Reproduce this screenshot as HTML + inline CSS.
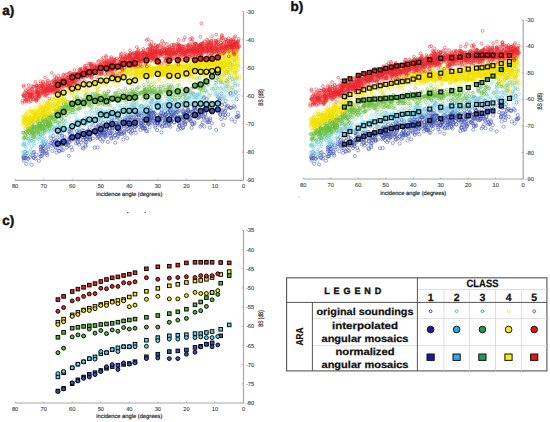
<!DOCTYPE html>
<html><head><meta charset="utf-8"><style>
html,body{margin:0;padding:0;background:#fff;width:550px;height:422px;overflow:hidden;}
svg{display:block;}
</style></head><body><svg width="550" height="422" viewBox="0 0 550 422">
<style>
text{font-family:"Liberation Sans",sans-serif;text-rendering:geometricPrecision;}
.tl{font-size:5.7px;fill:#444;stroke:#444;stroke-width:0.12px;}
.al{font-size:5.9px;fill:#2a2a2a;stroke:#2a2a2a;stroke-width:0.2px;}
.pl{font-size:13.5px;font-weight:bold;fill:#111;stroke:#111;stroke-width:0.45px;}
.lb{font-weight:bold;fill:#111;stroke:#111;stroke-width:0.25px;}
</style>
<path d="M15.1 180.3H243.5V11.5" fill="none" stroke="#a8a8a8" stroke-width="1.2"/><text x="243.5" y="188.4" text-anchor="middle" class="tl">0</text><text x="214.9" y="188.4" text-anchor="middle" class="tl">10</text><text x="186.4" y="188.4" text-anchor="middle" class="tl">20</text><text x="157.8" y="188.4" text-anchor="middle" class="tl">30</text><text x="129.3" y="188.4" text-anchor="middle" class="tl">40</text><text x="100.8" y="188.4" text-anchor="middle" class="tl">50</text><text x="72.2" y="188.4" text-anchor="middle" class="tl">60</text><text x="43.7" y="188.4" text-anchor="middle" class="tl">70</text><text x="15.1" y="188.4" text-anchor="middle" class="tl">80</text><text x="245.9" y="13.5" class="tl">-30</text><text x="245.9" y="41.6" class="tl">-40</text><text x="245.9" y="69.8" class="tl">-50</text><text x="245.9" y="97.9" class="tl">-60</text><text x="245.9" y="126.0" class="tl">-70</text><text x="245.9" y="154.2" class="tl">-80</text><text x="245.9" y="182.3" class="tl">-90</text><path d="M243.5 180.3v-1.6 M214.9 180.3v-1.6 M186.4 180.3v-1.6 M157.8 180.3v-1.6 M129.3 180.3v-1.6 M100.8 180.3v-1.6 M72.2 180.3v-1.6 M43.7 180.3v-1.6 M15.1 180.3v-1.6 M243.5 11.5h-1.6 M243.5 39.6h-1.6 M243.5 67.8h-1.6 M243.5 95.9h-1.6 M243.5 124.0h-1.6 M243.5 152.2h-1.6 M243.5 180.3h-1.6" stroke="#a8a8a8" stroke-width="0.8"/><text x="129.3" y="196.0" text-anchor="middle" class="al" textLength="66" lengthAdjust="spacingAndGlyphs">incidence angle (degrees)</text><text transform="translate(263.0,97.4) rotate(-90)" text-anchor="middle" class="al" style="font-size:6.6px" textLength="16.6" lengthAdjust="spacingAndGlyphs">BS (dB)</text><defs><marker id="ma1" markerUnits="userSpaceOnUse" markerWidth="6" markerHeight="6" refX="3" refY="3" overflow="visible"><circle cx="3" cy="3" r="1.6" fill="none" stroke="#4656b4" stroke-width="0.55"/></marker><marker id="ma2" markerUnits="userSpaceOnUse" markerWidth="6" markerHeight="6" refX="3" refY="3" overflow="visible"><circle cx="3" cy="3" r="1.4" fill="none" stroke="#78cfe4" stroke-width="0.55"/></marker><marker id="ma3" markerUnits="userSpaceOnUse" markerWidth="6" markerHeight="6" refX="3" refY="3" overflow="visible"><circle cx="3" cy="3" r="1.4" fill="none" stroke="#6cbe3e" stroke-width="0.55"/></marker><marker id="ma4" markerUnits="userSpaceOnUse" markerWidth="6" markerHeight="6" refX="3" refY="3" overflow="visible"><circle cx="3" cy="3" r="1.4" fill="none" stroke="#f2e200" stroke-width="0.55"/></marker><marker id="ma5" markerUnits="userSpaceOnUse" markerWidth="6" markerHeight="6" refX="3" refY="3" overflow="visible"><circle cx="3" cy="3" r="1.4" fill="none" stroke="#ea2a30" stroke-width="0.55"/></marker><filter id="bl" x="-5%" y="-5%" width="110%" height="110%"><feGaussianBlur stdDeviation="0.35"/></filter></defs><g filter="url(#bl)"><polyline fill="none" stroke="none" marker-start="url(#ma1)" marker-mid="url(#ma1)" marker-end="url(#ma1)" points="148.8,115.9 204.1,118.6 117.3,131.9 149.8,119.8 83.2,137.4 77.7,137.4 200.4,126.7 79.4,132.2 64.1,139.7 118.8,129.4 230.2,93.4 205.2,114.2 84.8,124.4 71.6,140.5 221.8,104.9 176.7,118.0 238.5,115.9 66.0,141.6 153.6,120.9 168.7,124.0 195.4,109.5 182.8,120.1 127.1,125.7 85.5,137.6 90.4,138.7 135.0,120.6 36.6,154.8 199.8,116.5 222.8,110.4 188.8,117.4 67.5,141.9 207.0,110.4 150.2,117.4 65.5,144.7 226.9,106.8 192.2,115.9 226.4,108.1 111.6,119.6 54.9,142.1 117.6,117.7 190.3,119.0 40.9,156.3 159.4,120.2 185.1,122.4 184.9,114.9 168.0,121.9 172.7,115.7 152.1,112.2 40.3,156.6 59.1,139.9 149.7,113.1 78.8,135.2 76.2,135.7 170.6,117.0 108.9,132.5 72.7,135.5 66.4,142.3 169.9,117.1 69.8,128.7 166.1,114.0 170.9,112.6 188.1,110.8 93.4,131.6 63.8,139.7 157.2,103.1 127.1,122.0 165.0,115.7 119.4,121.6 233.9,106.1 159.3,119.6 100.3,130.7 83.2,140.0 183.2,127.9 101.0,133.0 182.1,118.7 141.4,115.7 136.2,125.7 41.1,146.2 64.6,137.1 217.1,102.6 59.3,143.2 205.4,113.7 150.1,120.2 154.6,123.0 60.7,144.8 169.0,118.9 187.2,112.6 44.1,148.5 147.9,122.0 159.7,114.6 139.1,126.8 145.0,128.1 203.3,104.0 170.2,120.2 149.5,118.5 219.9,103.7 69.3,131.7 165.7,119.8 186.6,121.1 218.1,97.3 91.1,133.6 94.7,147.6 103.0,122.9 98.9,130.9 170.3,113.1 47.2,155.3 112.7,122.9 169.3,125.4 168.0,112.0 163.5,118.4 142.8,124.5 179.6,123.2 129.4,122.7 85.4,145.0 141.9,125.3 117.1,137.7 111.6,126.0 137.5,112.8 161.4,109.2 100.2,135.8 179.6,118.9 24.0,155.9 210.1,118.2 203.7,97.2 97.3,138.1 140.4,130.0 236.6,99.2 153.2,114.6 157.9,122.6 220.3,114.8 90.0,139.6 177.8,112.3 223.2,124.9 182.2,107.5 194.3,108.2 171.8,120.4 65.1,143.7 26.4,163.9 54.6,145.8 182.5,111.7 68.2,145.5 166.6,118.6 75.5,138.9 101.5,124.3 126.8,129.6 204.5,126.5 174.7,112.6 127.6,119.7 109.3,128.4 175.1,116.6 136.3,117.5 155.2,125.7 144.3,109.0 100.3,129.2 57.4,148.1 95.5,133.5 40.6,151.1 97.6,147.5 119.6,133.5 201.3,114.1 184.3,119.1 193.8,107.1 59.0,150.8 80.3,134.8 112.1,125.2 151.3,117.7 60.1,133.4 116.6,124.6 131.7,127.1 117.0,117.5 132.3,130.8 221.4,93.7 163.1,113.4 149.5,119.1 53.1,141.7 149.9,114.0 173.4,114.0 187.4,106.5 148.9,123.5 147.8,112.7 26.8,153.2 161.5,132.2 172.1,100.0 181.2,128.5 42.0,146.7 148.1,115.1 64.2,140.2 129.7,119.4 170.7,117.2 121.1,125.7 209.0,122.2 145.3,110.8 192.7,124.2 141.1,106.1 130.8,132.0 141.7,120.2 181.4,122.7 149.7,117.5 86.6,139.5 194.0,112.8 220.3,114.6 73.5,135.6 134.6,124.5 166.9,117.0 212.3,112.8 59.4,151.2 120.9,132.2 230.8,107.9 51.5,143.6 131.5,120.3 225.7,100.9 61.5,149.9 170.9,108.6 206.4,109.4 225.1,115.0 211.8,102.9 170.5,109.4 62.0,141.9 69.4,142.1 176.1,106.6 197.5,109.1 118.8,132.8 164.5,123.0 179.4,104.3 80.5,139.3 33.5,157.2 143.8,121.2 98.9,136.6 78.6,131.8 51.0,142.8 56.1,144.9 133.6,114.5 212.4,106.4 111.4,137.9 23.9,160.7 172.4,105.7 206.6,110.1 223.3,114.8 115.9,123.3 147.3,116.3 69.6,138.0 171.0,121.8 89.7,132.1 122.0,133.6 144.3,118.4 113.2,137.6 176.6,112.1 123.8,131.9 167.7,107.8 174.9,110.2 224.5,104.2 124.6,130.9 141.4,113.6 195.5,116.3 62.9,144.0 78.0,142.7 77.4,141.9 83.4,148.6 126.6,117.9 32.8,155.1 129.8,116.8 25.4,155.2 96.4,131.6 68.7,139.1 95.4,130.0 184.4,114.8 41.9,156.0 138.6,114.8 115.1,135.2 196.8,117.8 148.0,123.7 137.2,114.5 192.2,123.8 86.8,132.5 117.4,131.8 24.9,157.8 72.2,149.9 225.0,117.8 34.0,158.1 112.4,128.6 143.0,128.3 77.5,137.3 179.4,125.1 149.9,122.7 112.9,128.1 141.3,124.7 106.5,135.6 184.7,115.0 66.9,147.4 103.6,135.2 68.1,142.6 176.7,118.0 76.0,143.5 87.0,135.9 160.3,123.8 47.6,144.4 153.4,121.6 170.3,126.6 173.9,122.2 125.2,122.6 143.6,120.1 82.5,147.7 89.4,136.1 101.0,126.4 78.1,138.9 67.9,144.1 23.3,156.9 177.2,117.8 218.6,109.6 137.2,114.3 238.1,116.5 105.7,136.2 46.3,151.2 143.5,128.1 124.9,126.4 157.1,130.1 110.0,135.8 56.5,152.5 221.2,110.6 43.1,145.9 44.0,144.3 53.4,144.2 43.2,151.2 96.7,134.5 131.1,133.5 210.0,127.6 128.1,114.9 123.7,133.0 151.2,111.0 192.1,111.7 85.4,141.9 53.2,135.9 86.1,138.9 167.2,118.8 69.9,138.0 165.0,122.3 229.8,107.7 62.9,150.3 105.4,136.8 182.6,127.4 170.1,110.1 138.5,115.1 148.6,120.3 145.9,118.7 29.9,157.2 181.0,117.0 189.4,119.9 84.5,134.0 188.2,111.5 83.6,130.6 72.7,138.7 101.7,134.6 116.2,122.9 191.9,115.0 136.0,112.7 183.6,123.4 180.0,117.6 63.6,144.1 130.6,117.2 198.6,117.9 134.6,122.9 172.0,114.0 125.4,120.0 179.0,110.8 193.5,117.0 157.2,123.3 127.2,138.3 112.8,126.8 221.2,119.2 88.5,132.8 177.6,111.3 38.9,160.9 40.5,146.9 170.7,122.1 90.2,139.9 97.2,127.3 231.6,119.4 105.9,131.5 237.9,112.6 89.0,131.5 97.1,133.9 129.8,119.8 200.3,105.7 152.7,113.1 128.0,129.0 164.9,121.7 88.3,130.6 45.5,153.3 40.9,149.2 55.8,147.6 35.6,158.6 133.1,123.7 61.6,146.1 191.7,127.9 161.8,115.6 162.6,125.9 42.3,150.8 89.6,127.4 186.6,112.8 193.0,115.5 145.0,128.7 108.0,125.3 110.8,132.8 108.0,142.0 77.6,134.5 190.9,121.1 25.2,151.9 199.8,113.4 118.4,133.9 164.7,126.1 112.5,129.9 98.1,136.8 140.9,112.3 208.4,107.2 107.3,124.1 159.6,125.1 42.9,148.6 197.9,113.6 106.1,130.7 155.3,127.5 61.7,142.0 104.9,134.9 206.2,117.6 193.2,111.4 148.5,115.1 51.1,138.3 179.5,126.0 92.8,138.4 112.5,121.0 220.5,113.4 101.7,132.3 95.4,129.4 145.5,123.3 157.2,107.9 62.2,136.5 198.6,113.7 152.4,123.2 161.6,112.6 92.5,130.8 173.3,112.9 148.2,107.9 157.1,123.2 183.6,111.7 166.7,125.9 160.1,116.1 113.5,124.7 57.6,132.8 143.6,128.2 109.6,127.8 70.9,130.3 201.6,102.9 173.1,118.5 206.3,106.4 111.2,121.1 124.5,134.9 52.5,150.9 230.9,107.8 206.7,99.1 120.8,134.0 130.3,126.8 143.5,118.4 74.6,138.9 234.8,121.5 153.7,114.9 97.5,134.2 160.4,118.0 87.0,131.8 188.2,109.6 203.8,117.4 125.1,117.8 183.3,110.6 148.8,116.1 171.2,112.4 101.2,131.2 164.6,114.9 27.8,158.9 153.5,112.6 150.7,107.4 86.8,132.0 227.9,105.8 140.7,125.8 85.8,146.5 119.4,131.1 76.9,131.2 54.5,129.0 193.4,105.2 88.4,130.9 115.5,122.8 62.0,144.2 23.8,158.2 110.0,128.9 185.2,124.6 100.4,132.8 102.7,132.8 146.7,117.5 178.8,120.1 166.4,122.1 133.5,109.7 153.7,112.6 160.8,119.2 109.5,133.1 69.7,133.8 123.1,123.9 135.3,119.2 28.2,158.5 84.5,137.1 78.9,133.5 185.2,114.7 104.9,126.4 127.6,122.1 106.3,129.3 185.5,115.2 55.1,141.0 79.1,144.5 234.9,107.5 190.0,120.6 194.4,123.9 70.2,139.0 173.5,111.3 100.3,139.1 144.9,121.1 104.2,132.4 149.7,110.9 162.1,126.9 128.0,119.1 81.0,142.6 170.6,110.4 165.3,114.9 104.4,132.7 174.2,122.5 170.1,110.8 178.0,129.6 158.5,117.9 144.3,126.3 195.4,104.4 118.2,136.3 156.8,115.7 201.6,125.0 119.5,124.8 199.2,116.0 179.1,125.9 68.8,155.8 165.5,120.5 131.6,125.1 142.6,114.7 221.6,98.9 100.6,134.9 62.0,135.3 23.9,158.4 102.2,126.6 79.6,131.5 86.9,136.4 46.9,153.2 191.7,111.7 147.0,120.1 205.0,108.0 53.9,139.2 157.1,106.5 198.2,117.3 187.9,110.0 154.2,117.6 135.7,132.9 127.3,124.1 164.8,117.6 106.7,123.3 178.9,117.0 139.0,117.2 124.5,123.3 131.7,117.4 171.7,114.6 202.9,122.4 135.0,127.2 162.9,120.4 86.3,142.3 163.5,116.4 90.0,137.8 47.7,147.0 195.1,108.0 137.7,120.1 137.9,121.4 123.3,139.4 82.5,133.3 102.3,141.3 147.0,120.2 42.1,153.6 98.8,124.7 184.8,105.8 146.0,113.1 224.6,112.2 185.0,124.0 124.0,125.8 145.7,120.3 144.4,113.7 173.7,111.7 146.1,131.0 119.9,128.8 208.2,105.1 97.9,126.0 119.8,122.7 114.9,117.7 151.6,118.1 71.3,147.3 140.9,123.2 69.7,131.1 153.9,118.6 154.9,113.4 31.6,164.7 201.7,116.2 133.5,117.0 196.5,114.9 168.0,112.9 105.2,133.1 114.8,135.2 161.1,113.0 115.2,142.7 100.0,133.6 173.9,115.5 120.0,119.0 228.5,114.4 33.1,152.7 211.9,123.2 152.1,112.4 135.0,126.3 191.0,112.5 190.1,113.9 96.6,129.6 184.1,114.3 131.4,127.8 185.7,112.0 93.4,125.2 124.5,124.4 149.7,114.6 99.0,127.3 147.3,131.2 76.8,138.0 183.8,103.2 157.9,123.6 59.3,144.0 51.6,145.9 158.7,120.4 149.6,127.3 82.1,130.3 112.8,133.7 141.1,123.4 121.1,127.4 183.4,117.3 134.6,130.0 111.2,138.6 207.3,120.0 95.4,129.1 34.1,151.8 195.3,109.9 210.2,119.8 167.1,121.3 219.5,98.1 193.6,94.3 159.1,120.8 140.6,120.3 159.9,116.1 106.4,128.6 230.9,93.1 108.0,121.8 44.8,144.1 89.9,133.3 87.7,135.4 208.0,121.4 235.7,92.1 193.2,115.7 48.4,149.0 159.3,120.1 216.1,129.8 151.5,117.4 110.4,133.6 194.3,122.4 154.0,115.6 118.8,123.5 225.1,110.9 151.3,113.1 219.4,100.4 56.5,141.4 204.0,98.2 236.5,116.8 207.2,122.2 177.5,116.4 157.8,121.5 25.9,157.8 103.5,139.3 202.4,113.6 164.7,110.9 98.6,119.5 57.5,137.4 70.8,132.5 128.5,122.5 150.1,114.6 203.1,111.6 43.5,152.8 128.7,131.0 148.5,124.1 183.6,113.7 237.1,117.1"/><polyline fill="none" stroke="none" marker-start="url(#ma2)" marker-mid="url(#ma2)" marker-end="url(#ma2)" points="201.8,99.2 53.1,130.1 235.6,95.7 105.8,113.4 179.3,111.8 233.9,90.3 197.8,93.7 92.4,116.9 103.8,119.4 189.5,96.0 28.7,143.5 160.0,97.4 67.8,130.3 66.5,123.5 92.0,119.0 218.4,96.2 189.9,92.4 196.7,95.6 46.1,141.0 161.6,105.0 49.0,120.4 231.9,95.1 202.1,97.3 137.8,109.1 120.9,121.9 184.2,92.8 162.0,100.2 232.7,79.4 122.5,112.9 237.7,84.9 221.0,88.4 174.3,108.2 96.1,112.5 52.7,127.2 234.7,72.5 199.2,95.6 174.4,97.2 23.7,151.9 187.7,98.6 72.8,131.6 160.5,104.2 31.1,154.8 112.1,113.8 63.2,127.0 172.9,104.6 48.2,145.0 194.0,97.6 196.3,97.4 196.0,102.7 239.1,90.2 76.9,119.4 99.7,109.8 100.8,120.2 81.4,120.8 86.9,122.4 43.7,141.6 92.0,124.8 84.2,118.4 152.7,100.2 232.2,78.8 117.3,117.0 23.4,155.2 125.7,109.7 30.1,142.1 193.1,102.3 29.8,161.0 94.5,121.5 42.4,136.2 134.6,105.5 179.8,104.8 28.2,140.0 23.1,145.0 108.9,110.6 185.8,100.7 206.3,91.4 59.9,113.7 120.8,119.8 159.6,108.2 186.1,94.4 53.1,124.9 29.6,151.1 112.1,112.8 166.9,101.3 155.6,105.2 221.8,82.4 79.1,120.3 228.3,85.8 178.8,104.3 104.3,116.1 204.7,83.5 134.4,113.1 44.2,136.9 139.2,109.5 76.0,123.9 198.2,99.6 224.3,90.2 105.6,111.1 136.1,102.1 105.5,123.8 49.8,136.9 223.9,74.4 91.8,124.7 64.7,125.4 191.9,102.8 91.5,122.7 217.5,93.8 184.2,96.9 185.0,94.3 145.6,116.1 215.2,94.6 122.9,111.5 235.0,83.7 116.0,115.6 70.6,112.4 112.9,115.3 151.2,103.0 106.2,112.9 110.2,113.2 43.1,133.7 70.6,131.0 184.8,99.5 56.0,121.1 154.2,104.0 191.6,94.3 49.4,129.8 62.3,131.5 228.1,82.2 194.9,98.9 191.5,104.7 215.2,88.3 183.1,94.1 36.7,136.5 83.8,118.9 86.1,120.4 186.2,104.7 206.9,84.1 170.7,108.2 139.9,112.4 152.9,99.5 230.9,95.9 211.7,76.9 164.6,104.6 134.8,105.2 232.9,81.4 134.2,111.1 231.8,89.1 127.6,112.8 97.8,120.3 142.2,105.3 235.3,84.2 33.1,142.0 78.7,123.6 224.5,96.1 69.0,128.1 57.9,126.1 225.7,91.7 199.3,94.2 174.7,106.8 63.5,128.3 185.1,95.0 166.6,103.7 208.7,84.4 55.8,120.6 169.4,102.6 224.6,82.8 169.4,106.5 114.6,108.5 167.9,104.2 55.0,121.5 163.5,107.9 113.4,114.3 24.3,144.9 101.0,116.9 34.0,145.5 230.7,64.7 169.5,103.2 120.2,114.1 177.7,105.5 63.6,127.3 71.9,125.6 155.9,103.7 158.2,102.6 150.2,101.8 135.0,113.6 134.0,107.1 106.7,112.6 87.0,123.5 229.2,94.6 134.7,107.3 24.6,143.8 175.4,100.6 106.6,112.0 146.0,105.1 26.1,147.9 219.2,91.8 59.3,126.8 161.2,104.5 163.3,106.4 48.9,131.1 68.2,128.4 80.2,120.3 76.4,121.8 39.8,128.2 41.9,142.6 59.9,126.3 203.5,87.9 144.8,106.3 40.8,143.4 113.8,109.0 117.2,112.8 169.0,99.6 31.9,140.6 138.7,105.2 106.1,114.5 101.1,119.7 23.5,143.8 210.3,93.8 77.0,121.9 76.7,121.1 145.2,114.7 154.4,100.4 48.9,131.6 82.1,120.5 223.5,102.3 197.7,97.7 79.9,128.5 132.2,103.6 42.7,140.9 82.8,120.0 197.9,94.8 36.0,136.9 62.1,115.0 189.5,98.2 225.9,86.3 151.3,93.7 132.2,107.3 217.7,96.5 106.5,116.4 65.4,120.6 232.2,87.5 26.8,145.0 177.4,104.9 136.8,109.0 34.5,135.6 123.5,116.8 147.8,106.2 158.7,106.0 128.2,104.7 174.3,103.8 29.4,141.4 147.6,101.2 181.1,99.4 235.3,85.7 188.4,105.3 108.7,114.8 148.4,96.1 224.9,83.9 53.3,130.3 167.4,103.9 95.7,120.2 54.0,127.2 124.1,105.9 196.6,95.5 126.7,113.9 138.2,110.6 107.2,105.6 191.6,88.7 144.6,101.7 24.6,154.0 175.9,104.1 86.9,117.8 73.9,130.6 199.2,94.3 34.8,134.3 163.9,110.3 217.9,88.2 45.7,142.1 41.1,137.5 25.2,146.5 119.9,118.2 75.6,115.5 221.6,96.2 22.4,152.1 63.6,126.0 197.5,87.8 233.3,101.6 188.7,105.5 213.1,103.9 30.8,138.8 44.0,133.0 163.7,118.9 58.7,128.9 148.8,105.3 157.4,108.7 235.5,92.3 166.1,107.9 226.4,86.9 130.6,112.2 177.8,100.1 206.9,86.9 50.9,136.3 108.6,116.7 129.0,108.5 71.9,125.4 131.1,104.5 151.4,104.0 59.4,127.5 151.7,102.0 101.1,109.8 152.7,99.5 86.4,122.6 75.4,121.6 34.5,143.5 90.0,112.0 204.3,96.0 59.4,122.2 40.4,132.5 104.0,119.7 44.4,132.9 31.6,146.2 95.9,128.3 61.5,137.4 95.3,113.1 63.5,124.3 91.2,116.1 31.1,140.5 95.4,117.9 143.8,112.6 44.0,139.7 109.2,113.0 101.5,112.1 224.9,97.1 86.4,117.6 164.0,104.6 186.5,97.1 111.8,117.3 97.1,119.2 228.6,78.6 47.0,129.4 134.9,107.2 91.2,119.1 128.4,111.5 23.0,144.7 56.3,140.7 185.1,104.0 43.1,144.5 24.9,133.7 70.8,127.1 49.0,123.4 235.0,78.7 228.1,72.5 189.0,98.2 206.8,92.8 160.6,112.3 102.5,111.1 228.1,90.2 136.8,102.8 201.3,99.9 238.9,95.6 192.5,97.6 157.0,108.7 207.8,101.1 153.8,109.2 109.9,110.3 69.1,117.5 168.2,96.5 120.9,105.7 48.4,141.4 97.5,115.7 56.5,126.9 167.5,101.3 199.8,83.1 232.6,87.4 190.1,103.8 92.5,112.0 54.2,129.5 216.4,84.1 61.5,119.1 33.2,135.3 140.9,107.1 169.3,97.6 40.0,136.8 175.0,106.4 170.8,104.0 180.6,97.7 44.8,132.6 164.1,107.9 182.0,104.4 65.8,127.7 132.1,104.4 157.8,101.2 151.7,109.4 195.9,97.5 116.7,111.2 117.6,105.5 61.1,127.4 130.6,106.8 171.7,111.8 131.2,113.7 120.2,110.4 134.0,107.6 127.4,113.2 236.8,78.8 35.7,139.0 79.9,126.4 72.7,124.9 127.2,111.1 118.4,120.5 233.8,94.8 211.7,88.7 30.5,149.1 206.1,98.5 224.4,75.3 237.4,76.9 214.1,85.9 127.6,117.1 141.7,105.8 125.3,107.8 222.1,87.7 217.3,88.1 39.1,139.3 134.5,104.7 119.8,107.9 194.3,97.1 166.3,104.1 61.6,131.6 150.9,102.7 47.0,126.0 77.1,125.7 195.9,97.2 188.9,97.7 174.4,109.3 161.1,106.0 42.8,133.8 110.8,117.6 22.3,132.7 216.7,95.2 193.4,93.0 58.5,121.9 34.0,136.2 43.0,142.9 51.2,132.5 158.2,104.7 191.9,105.1 24.3,142.3 25.3,139.0 210.5,79.4 75.5,112.5 231.8,75.3 25.7,151.9 236.6,71.2 65.7,120.8 214.8,91.6 152.6,114.6 109.6,116.7 189.4,96.3 176.6,99.8 159.4,100.9 38.6,139.3 37.0,154.4 223.7,88.8 152.8,102.3 216.0,92.7 86.0,112.8 92.8,118.0 169.5,101.0 223.6,97.7 172.3,103.6 143.1,115.0 182.5,104.6 70.5,122.7 28.9,139.2 238.2,65.7 168.9,99.7 42.6,140.8 109.1,112.7 54.2,132.2 78.0,129.7 57.6,125.2 133.1,114.1 39.5,136.8 131.6,106.2 38.5,134.9 134.2,106.9 189.8,100.8 144.1,107.7 118.8,111.8 109.7,119.6 164.0,104.0 42.9,141.7 142.2,108.9 29.4,152.8 91.6,109.4 133.2,108.3 98.2,112.0 55.5,128.0 73.4,123.5 233.3,94.3 171.8,111.5 48.5,121.4"/><polyline fill="none" stroke="none" marker-start="url(#ma3)" marker-mid="url(#ma3)" marker-end="url(#ma3)" points="116.4,99.9 59.6,107.9 43.2,118.5 80.1,98.2 117.2,96.9 92.1,97.9 75.0,98.9 99.5,103.7 26.6,132.7 52.0,118.7 159.6,91.3 99.4,100.3 170.6,87.4 39.3,123.1 132.4,89.1 49.5,116.4 40.5,118.2 119.2,99.8 154.5,86.2 72.0,112.5 74.0,105.0 155.3,90.9 48.9,125.6 38.7,132.4 106.6,100.4 36.7,132.8 37.7,121.6 47.6,119.5 226.5,73.4 56.1,114.3 191.1,88.7 37.6,117.9 34.5,129.2 172.4,91.9 79.1,102.3 90.7,101.9 36.8,131.9 30.3,122.2 43.6,113.2 172.4,86.8 162.9,92.1 131.4,84.1 26.5,137.8 115.6,97.9 63.3,112.6 149.4,88.2 90.9,96.4 23.5,132.4 91.2,101.2 147.7,80.9 32.5,128.5 60.8,109.1 114.9,96.7 67.8,104.9 129.9,90.5 98.4,101.2 48.0,119.9 38.5,126.9 203.9,83.7 79.0,100.2 45.9,124.5 95.1,97.4 154.1,92.6 218.4,77.1 40.6,129.3 85.9,98.8 174.9,99.5 158.8,92.7 41.8,129.3 185.3,90.2 105.4,96.2 83.6,105.8 49.6,119.5 161.6,93.0 91.3,101.9 69.4,111.4 89.5,101.7 63.8,107.5 175.9,95.3 30.6,132.0 42.5,127.4 45.3,114.9 100.0,95.9 25.4,135.3 81.4,101.3 47.9,123.4 39.2,123.3 33.4,132.7 218.8,79.6 177.1,89.5 54.0,117.3 58.9,115.5 88.8,101.6 41.9,126.8 89.5,105.0 66.5,106.1 36.1,128.9 160.3,89.0 148.5,97.2 74.6,109.5 139.1,87.1 61.9,113.5 33.9,139.6 93.0,100.3 32.0,132.9 208.1,83.9 146.0,89.0 203.5,86.2 226.2,80.8 42.7,131.3 150.0,94.7 190.3,92.7 106.8,93.9 133.6,94.6 48.8,110.0 96.5,108.9 184.4,94.9 108.4,91.5 92.1,98.4 205.4,90.3 175.1,92.6 84.8,105.4 78.4,101.4 51.8,117.7 76.3,97.4 39.7,126.1 79.9,108.5 50.2,122.9 37.9,129.2 70.5,109.3 145.6,95.4 96.9,98.4 42.5,115.4 46.4,127.5 36.1,129.4 29.7,133.1 37.5,132.0 146.5,91.7 63.2,120.8 33.5,132.7 135.8,95.6 134.4,99.6 65.6,104.4 96.2,96.5 29.6,125.8 87.1,100.7 145.2,91.1 142.3,92.8 131.6,97.8 180.5,95.5 45.3,120.4 146.4,92.4 47.8,120.5 47.8,123.7 38.9,133.8 27.5,130.7 217.5,78.8 45.4,125.9 55.5,110.5 59.9,108.0 71.9,107.9 144.7,93.8 74.4,105.8 48.5,126.4 25.6,131.9 129.0,94.0 44.1,121.4 50.6,114.8 151.9,87.6 43.0,119.1 141.9,92.3 91.9,107.1 77.4,102.9 113.7,99.8 122.2,94.6 23.4,132.6 60.2,109.9 28.1,138.5 56.0,110.7 44.0,126.7 83.2,101.3 48.3,126.0 32.1,121.5 56.7,117.5 152.2,90.9 58.3,112.3 144.2,94.5 37.8,126.7 185.5,98.2 32.4,132.5 59.8,116.2 137.7,92.9 177.9,93.9 82.7,100.7 92.5,94.9 98.7,104.2 140.7,93.0 85.2,102.7 137.2,87.9 133.8,93.0 145.1,92.8 28.6,130.9 206.8,73.6 158.3,89.1 145.7,94.1 33.5,132.4 68.7,109.2 77.9,102.2 104.8,103.8 29.5,129.7 24.3,138.0 133.1,100.1 39.7,129.8 148.3,84.4 50.5,117.9 97.4,94.4 30.6,135.5 106.0,96.4 57.1,111.0 67.8,107.9 39.5,127.8 167.6,89.3 68.0,113.3 165.6,96.5 168.5,91.1 122.1,93.2 39.7,130.3 97.6,98.0 77.2,103.7 31.2,127.8 161.0,94.8 36.6,126.4 82.5,99.7 44.2,122.1 43.4,129.0 153.0,90.5 78.0,99.3 28.2,131.1 216.0,80.4 169.6,89.2 136.3,95.4 49.3,118.3 174.9,89.1 34.6,121.0 44.9,117.3 133.7,100.8 37.5,122.3 151.4,98.8 96.0,98.1 150.6,91.6 133.0,91.3 147.8,96.6 179.3,84.7 177.5,91.5 57.7,110.5 65.0,107.1 101.8,102.4 44.4,129.8 55.5,116.2 186.9,88.0 42.6,127.3 82.1,102.7 27.7,132.2 105.6,101.3 84.3,99.5 48.6,125.9 46.3,121.7 43.2,112.3 170.7,90.4 39.3,125.7 40.4,134.4 81.0,105.4 98.5,98.6 145.2,89.9 140.8,92.3 108.0,95.4 200.4,88.0 55.2,114.3 200.2,82.5 144.7,89.1 168.4,87.3 49.4,128.9 134.6,93.6 63.6,109.6 49.9,116.3 165.9,90.0 200.7,88.9 220.8,81.5 158.6,86.5 51.3,120.4 101.3,96.2 181.3,103.0 100.9,102.2 78.4,102.6 140.4,93.0 158.0,93.1 88.4,97.5 42.4,120.5 220.5,82.4 85.1,95.9 99.3,98.5 31.4,124.0 61.1,102.8 31.6,128.1 62.6,117.3 45.1,128.5 30.6,129.1 34.6,126.8 135.5,91.6 201.8,91.8 159.9,92.7 178.8,89.2 92.2,93.9 161.0,91.2 87.5,101.0 142.3,98.8 32.1,127.2 35.9,127.6 108.4,104.5 100.7,98.4 216.1,82.6 115.0,97.7 184.4,101.8 149.8,92.5 94.0,98.3 84.0,100.7 53.8,114.5 65.4,101.0 32.6,136.5 42.8,119.0 120.8,100.0 103.7,100.9 31.9,131.8 72.1,109.5 45.8,124.2 228.0,69.6 230.8,63.8 131.8,93.2 70.4,102.6 108.6,91.1 48.1,124.8 130.8,96.2 158.5,94.4 177.5,90.5 38.8,125.2 164.8,90.2 144.2,87.4 77.0,107.0 68.7,106.9 40.4,123.8 48.3,122.4 133.7,92.1 35.1,133.4 40.2,123.5 59.3,123.6 120.8,97.9 64.2,112.6 152.2,92.5 179.3,97.2 50.3,123.0 182.0,88.9 46.8,119.7 115.4,95.9 59.4,112.3 106.8,95.8 78.8,108.3 62.7,106.3 182.0,94.6 60.9,114.8 55.7,116.1 85.6,100.5 40.1,126.7 143.6,90.9 149.3,89.6 116.4,93.4 72.6,112.4 138.6,94.0 61.5,118.6 36.9,126.2 78.0,103.7 109.1,102.7 31.3,134.4 172.9,91.0 170.0,87.0 34.0,128.9 72.3,102.4 110.3,97.3 47.8,125.3 65.5,108.6 173.8,91.3 36.4,114.0 65.2,106.2 125.1,95.8 49.7,121.7 72.8,107.5 205.3,82.6 52.1,117.8 199.8,77.8 63.8,104.0 154.8,89.1 48.4,117.8 66.0,115.2 110.4,105.8 232.2,64.9 170.5,95.6 34.2,124.8 42.0,128.4 105.9,98.7 79.3,102.7 106.0,94.4 227.4,81.2 202.7,87.4 23.4,138.4 227.1,71.5 51.3,118.1 86.2,95.0 88.6,105.4 49.8,128.2 41.3,126.1 128.8,95.3 113.1,100.2 124.7,94.3 95.7,100.9 68.9,107.9 63.6,107.2 55.8,110.4 55.2,121.4 130.0,93.4 42.4,127.1 148.6,87.0 102.5,103.8 147.1,91.3 163.4,87.6 46.3,116.8 199.9,89.7 94.8,102.5 39.9,128.5 196.5,86.7 132.8,93.1 151.7,91.4 79.3,102.1 161.0,91.3 118.2,100.0 204.0,81.0 66.7,109.8 144.9,90.5 82.7,102.6 153.5,94.9 57.8,122.7 120.0,94.7 31.7,131.3 78.6,108.9 42.8,128.0 181.3,91.3 131.9,93.9 31.1,128.6 94.6,93.4 60.3,107.4 164.1,85.6 151.6,92.0 141.6,95.0 142.9,92.2 227.4,86.6 114.7,96.8 55.9,112.6 169.2,95.0 137.4,98.0 32.4,126.8 209.2,95.9 27.7,129.1 155.4,92.0 78.7,104.0 166.0,91.3 126.3,107.8 97.7,104.5 103.7,96.5 100.3,98.7 126.8,93.2 87.2,94.2 33.3,120.1 46.2,121.3 97.6,95.9 98.6,95.4 59.6,113.8 148.4,91.4 47.7,120.6 126.4,102.5 38.2,125.9 106.9,99.1 57.7,114.7 157.1,94.0 125.2,88.2 28.5,128.6 47.3,122.1 172.5,94.8 198.7,82.8 229.7,77.8 83.3,101.7 66.2,104.7 56.1,112.6 90.3,105.5 154.7,88.9 45.9,119.6 192.4,93.0 92.4,101.4 53.7,121.6 107.4,98.2 158.7,95.3 118.1,92.9 139.3,94.0 46.4,116.7 104.4,93.1 47.8,125.7 34.4,136.8 102.5,96.1 160.9,86.6 38.7,131.3 147.7,91.5 102.8,104.1 155.5,92.1 27.5,127.1 54.1,114.9 77.0,96.4 77.4,103.1 104.1,92.9 114.5,93.3 143.9,91.4 119.3,96.2 115.8,93.0 38.7,121.6 145.7,91.5 80.1,108.3 151.4,84.9 115.3,98.4 134.7,93.4 113.8,100.0 116.1,96.5 196.6,84.9 33.4,126.3 104.5,104.0 30.3,127.8 50.9,125.1 68.6,107.7 187.2,92.3 95.8,93.8 50.3,117.2 86.0,102.7 84.3,100.8 65.1,110.2 197.7,84.2 177.2,85.6 44.1,130.7 61.3,116.1 144.5,91.0 64.5,108.1 197.1,78.8 62.4,99.2 197.6,86.8 135.9,95.3 38.6,118.6 64.8,114.2 171.8,85.1 69.2,105.9 38.9,126.0 126.6,90.9 42.0,123.1 122.6,90.9 42.4,127.6 24.9,137.1 66.7,109.9 119.1,90.1 81.8,102.9 106.4,98.5 50.7,124.2 89.0,104.2 54.9,118.5 50.5,123.6 129.0,94.3 44.4,126.5 104.3,98.4 150.0,88.7 145.6,93.4 33.7,127.8 33.0,125.8 73.2,110.2 44.0,113.8 156.6,94.7 41.8,125.4 50.4,126.3 86.1,99.5 43.3,125.7 45.5,130.5 124.1,100.2 202.9,90.2 32.5,132.5 176.0,95.4 168.8,88.6 48.5,120.5 86.9,99.4 57.4,113.6 143.9,84.9 136.5,89.1 105.9,96.2 93.7,104.0 42.6,121.3 39.5,126.2 90.0,96.7 67.2,101.9 154.2,92.1 24.1,137.0 27.0,134.1 126.1,100.0 94.3,96.9 55.9,110.7 41.6,125.8 143.4,92.7 118.7,99.9 84.0,99.9 78.0,109.5 50.4,116.3 156.5,95.6 102.4,96.7 73.4,106.5 51.0,116.4 168.3,84.7 31.4,129.2 177.2,91.5 134.1,93.4 213.1,89.1 86.7,102.7 148.4,91.8 33.7,137.1 145.3,90.3 172.3,97.1 97.6,94.4 34.4,130.6 55.8,118.4 124.8,95.6 42.6,123.1 106.0,98.3 97.7,90.0 73.1,105.8 61.9,122.1 50.2,113.4 205.7,82.0 48.6,124.7 119.1,97.6 108.9,97.3 37.0,127.9 96.5,99.4"/><polyline fill="none" stroke="none" marker-start="url(#ma4)" marker-mid="url(#ma4)" marker-end="url(#ma4)" points="147.3,63.6 177.6,64.7 40.5,107.0 39.6,104.8 219.9,70.7 221.8,68.9 175.0,72.7 218.0,67.7 230.6,69.1 26.8,126.1 41.2,114.5 177.6,76.5 167.6,69.9 158.1,68.2 234.6,43.4 33.3,110.6 210.8,64.2 231.1,51.3 35.7,117.3 214.1,66.4 116.0,79.0 168.7,75.0 159.9,75.3 29.4,118.8 171.5,75.1 200.6,56.1 187.8,73.9 234.3,63.4 161.9,75.5 143.4,77.7 181.3,66.4 191.0,69.1 193.8,68.6 160.1,75.3 116.9,72.3 32.1,118.9 224.2,56.2 190.6,70.2 23.5,120.3 203.6,75.6 175.4,69.5 60.0,102.8 234.5,54.9 146.9,69.4 130.3,72.6 143.6,73.4 199.8,70.3 225.3,73.4 227.2,50.6 200.4,60.1 203.5,62.9 187.2,70.2 148.6,71.4 201.3,65.0 33.6,112.7 114.8,75.2 219.0,57.5 41.2,104.1 209.7,66.0 222.8,64.7 78.6,92.4 171.0,72.6 131.0,68.8 141.4,67.0 164.8,73.5 26.7,117.2 213.3,70.1 42.1,110.5 54.6,104.0 222.1,63.4 38.0,112.7 203.8,74.3 188.6,67.8 235.5,53.1 182.8,74.4 194.3,73.2 58.8,97.5 236.1,80.5 154.5,73.3 129.5,67.0 155.7,68.1 230.0,70.8 125.1,71.0 25.2,118.2 175.9,68.0 233.9,59.4 24.8,128.7 202.9,69.9 121.5,76.9 144.8,71.3 146.3,69.8 45.3,108.3 210.5,64.4 200.6,64.6 58.6,102.3 198.1,67.7 45.8,113.6 103.2,75.8 202.5,72.9 231.8,56.9 158.8,67.0 38.1,109.9 218.2,64.0 238.6,59.7 181.9,70.8 176.8,70.3 119.6,70.0 166.2,70.9 190.9,63.6 175.0,66.3 198.6,63.1 163.1,72.0 44.4,116.4 201.1,72.9 219.5,67.9 178.6,69.1 208.2,59.2 152.1,75.0 109.1,81.9 67.2,87.7 173.3,67.6 139.9,73.3 79.8,89.9 160.7,75.1 25.5,128.5 168.3,74.0 186.6,69.4 216.4,57.0 222.1,74.7 126.7,71.1 226.6,50.2 234.0,76.3 173.4,74.5 57.2,105.3 52.1,108.6 234.0,60.6 140.1,73.4 58.4,100.7 30.0,117.5 166.8,70.2 47.8,108.6 210.5,64.4 238.7,67.5 63.4,94.9 139.7,73.3 143.6,74.5 147.3,71.5 218.2,63.5 206.6,68.9 146.4,66.9 169.4,71.6 169.7,71.1 201.3,66.6 169.1,67.8 77.9,84.9 116.1,81.1 122.6,78.8 210.1,61.2 177.3,66.9 233.5,67.7 136.0,74.9 220.3,68.3 36.4,114.0 98.0,79.5 68.8,101.4 207.1,75.7 172.3,66.2 222.2,64.1 143.1,67.6 207.8,72.9 51.6,111.7 221.9,67.9 224.5,56.7 139.6,65.8 233.9,55.8 138.8,68.1 188.1,68.7 111.9,73.3 193.9,70.5 227.4,64.2 165.8,75.6 229.1,66.0 207.6,65.7 232.2,60.1 54.7,109.4 152.9,69.4 197.9,62.4 203.8,64.5 147.9,66.1 210.5,62.8 172.1,71.7 167.7,69.2 173.8,71.1 170.8,66.4 133.8,67.0 198.8,60.8 59.4,96.5 160.7,66.7 190.0,61.3 230.4,55.3 168.5,71.0 32.8,120.9 123.9,78.1 62.0,91.1 44.5,108.4 75.7,88.8 34.4,114.5 152.4,74.8 213.0,61.1 157.3,74.3 218.2,66.2 165.8,67.8 143.0,69.5 25.0,119.5 203.7,63.7 24.9,119.9 204.6,61.7 203.2,65.9 200.6,66.4 186.6,69.1 112.9,79.2 236.1,61.0 230.6,63.9 166.5,70.3 148.3,70.9 169.1,71.1 52.4,96.3 40.0,117.6 125.2,73.0 137.0,68.9 28.2,122.0 103.3,83.5 112.4,77.0 199.2,62.6 139.3,73.5 237.5,56.4 27.6,124.7 208.1,65.8 59.4,107.2 29.3,118.0 172.8,73.1 204.5,69.5 72.2,93.0 192.2,73.2 149.1,74.1 170.7,65.2 104.1,80.9 156.9,72.1 213.7,75.4 191.9,68.9 29.3,123.0 36.9,116.9 230.0,53.4 135.5,65.2 75.0,92.2 234.1,64.4 139.8,72.1 168.4,66.2 236.5,54.1 30.1,112.5 201.2,63.9 35.0,113.9 173.9,65.6 206.6,69.0 187.5,71.1 225.2,62.4 164.4,74.6 127.4,73.7 149.6,72.0 144.7,72.6 233.3,53.1 193.7,67.9 221.6,43.8 43.5,112.7 87.8,83.6 75.3,88.9 150.7,76.4 181.3,68.3 211.4,70.0 102.6,83.9 181.9,71.4 199.6,60.7 163.1,58.5 126.1,71.1 234.0,60.4 227.3,48.8 238.6,85.7 149.7,63.4 222.6,68.4 52.0,102.1 221.2,78.3 165.6,69.7 95.5,85.4 26.0,118.7 126.6,68.2 209.6,63.7 162.9,72.6 120.2,66.5 39.3,107.9 212.5,64.0 214.1,72.1 188.7,75.6 235.5,72.1 201.3,68.8 225.2,56.6 235.4,72.4 178.9,64.6 132.5,68.5 153.7,68.8 42.5,113.7 93.8,80.6 30.8,119.1 139.8,77.2 162.9,62.3 197.7,70.0 172.7,77.7 96.5,82.5 210.0,56.4 194.6,69.0 198.5,70.3 52.8,106.9 136.2,71.5 159.3,69.8 202.8,63.0 160.1,68.2 22.3,124.0 217.4,68.1 37.5,110.9 221.8,61.1 203.5,63.4 178.5,74.4 217.5,73.9 48.0,111.1 171.8,66.3 26.3,123.4 192.5,64.7 157.0,69.7 44.7,110.5 66.9,93.1 143.0,79.0 216.0,60.1 235.2,54.9 189.8,75.4 207.3,63.8 206.4,70.5 164.4,67.5 220.8,62.6 28.2,120.7 204.2,74.0 217.2,60.3 136.3,70.6 135.7,73.0 175.1,80.7 103.3,81.5 227.2,82.0 193.4,76.9 42.9,111.5 116.5,67.1 48.5,109.2 230.6,66.9 203.2,63.9 228.4,58.8 234.7,59.2 43.3,114.3 169.7,70.7 202.1,61.2 146.1,71.4 131.3,69.9 174.9,66.2 199.9,63.2 221.1,62.7 232.1,53.5 35.4,112.2 81.0,85.5 195.2,67.2 204.3,71.1 195.7,66.7 171.9,66.2 40.6,106.8 208.7,66.7 198.8,69.5 210.7,61.9 205.5,62.6 170.7,70.2 54.6,109.8 45.1,112.1 47.2,106.9 223.6,63.3 59.1,101.9 163.0,74.4 24.2,116.3 152.1,72.7 126.3,78.8 222.5,56.2 198.4,63.6 136.0,75.9 43.7,107.4 119.7,63.4 56.1,103.6 30.3,123.9 158.4,63.3 159.1,67.2 152.8,68.5 198.7,66.3 185.6,72.1 158.1,75.5 218.8,64.8 56.0,100.9 221.2,64.3 223.9,60.1 45.4,111.1 152.6,75.6 229.2,52.7 40.7,118.5 199.1,64.9 149.3,71.2 225.9,62.4 223.9,53.2 146.2,70.5 213.7,62.7 152.7,72.9 183.9,77.9 226.3,56.7 181.1,73.7 160.8,70.4 236.3,56.3 186.0,65.5 57.1,95.2 228.3,71.7 190.0,74.4 212.6,65.2 49.9,105.3 139.8,76.7 166.6,74.6 127.1,71.5 166.8,68.5 194.7,71.9 116.0,74.7 236.9,55.3 145.7,75.4 209.7,62.9 177.5,71.7 225.5,64.1 123.2,74.0 64.6,99.2 54.5,98.7 52.7,105.8 213.1,59.8 50.1,113.6 53.8,104.1 185.6,70.1 50.9,107.0 206.2,65.9 180.0,71.4 38.4,115.5 26.5,122.1 232.5,52.7 186.5,75.0 33.3,117.2 235.7,66.0 142.4,70.4 201.1,63.6 55.1,110.6 154.9,71.1 229.8,82.9 211.0,54.6 173.0,73.3 144.0,75.9 228.0,58.9 187.1,75.1 148.7,65.3 163.5,67.3 32.7,112.5 136.5,74.3 187.1,69.3 148.3,73.0 24.3,120.2 54.3,108.4 46.2,111.8 43.5,100.8 146.8,70.7 48.6,104.4 186.8,63.0 50.6,113.0 190.8,65.1 187.2,64.3 63.8,101.0 206.7,63.0 163.3,72.4 106.5,82.1 195.7,69.6 50.1,114.2 131.5,78.9 187.3,59.6 114.7,77.0 191.8,76.5 212.8,62.7 214.0,65.5 191.9,63.4 24.1,118.5 206.4,56.9 147.5,70.8 176.6,72.9 152.1,72.3 205.0,65.8 214.7,72.4 234.6,57.7 167.4,79.0 137.8,70.5 195.2,67.4 76.4,92.0 31.3,117.4 213.7,60.2 206.6,71.9 65.0,100.7 39.2,120.4 184.3,75.9 159.8,62.7 220.3,60.2 40.3,110.6 179.7,64.4 218.6,72.6 32.3,118.7 141.8,69.1 49.0,109.6 150.8,77.2 177.8,74.0 174.2,68.8 212.7,52.8 137.0,76.4 166.9,70.4 196.5,77.9 35.6,119.4 128.5,75.6 225.6,61.7 174.7,69.2 157.8,70.2 237.8,70.3 214.5,59.4 170.4,66.4 191.3,69.0 215.2,68.8 106.9,80.3 168.3,63.6 197.7,67.5 29.5,111.1 24.7,119.7 175.5,75.0 149.5,72.9 190.4,59.4 64.5,93.2 174.5,68.1 45.4,112.4 41.7,108.9 164.0,72.6 25.9,119.1 230.2,61.5 40.8,115.1 223.4,67.3 214.1,60.7 74.2,87.4 198.9,68.0 232.6,69.0 143.8,75.5 189.8,75.2 26.0,114.0 197.8,68.6 177.0,64.8 212.7,59.9 22.4,117.5 205.7,73.5 120.9,69.9 88.9,91.0 148.9,60.3 86.0,91.4 206.4,69.6 105.9,85.6 207.4,68.6 43.9,106.4 216.8,64.5 33.3,120.8 221.6,70.0 136.0,66.8 204.6,66.5 83.2,91.8 159.6,67.4 92.6,85.5 195.8,69.9 123.5,75.1 166.8,64.8 58.1,108.4 227.9,65.0 46.6,108.0 165.4,69.2 198.3,69.3 141.7,75.9 235.6,73.4 229.2,67.1 204.1,61.4 147.4,68.2 215.8,67.8 212.3,61.0 117.2,76.7 192.4,76.8 33.5,117.8 188.4,68.0 218.8,64.5 39.5,112.0 167.9,73.4 169.5,77.4 225.8,64.4 138.2,76.7 212.9,61.7 167.8,77.7 183.8,66.9 139.2,67.6 162.2,70.4 32.5,119.4 44.0,105.2 161.2,74.0 216.2,63.7 153.8,74.2 50.8,104.2 114.5,76.0 137.3,65.7 141.7,73.1 73.1,98.3 197.2,71.7 28.1,123.5 217.5,58.1 49.2,101.2 211.1,72.1 31.6,111.3 159.0,66.8 226.8,65.1 228.3,61.8 201.3,62.6 167.8,70.6 164.4,72.0 147.5,72.8 197.2,68.0 149.3,70.3 149.4,73.0 143.5,68.5 74.5,96.2 166.6,66.4 166.2,66.9 154.0,68.0 176.9,65.2 47.0,101.9 153.4,69.6 157.6,70.2 157.4,62.8 225.8,63.3 214.4,65.8 130.2,74.8 188.3,64.6 186.1,74.6 190.4,69.5 199.1,66.1 210.7,60.2 199.4,67.7 195.0,73.8 236.6,49.8 151.7,74.9 44.7,109.0 201.4,61.7 220.8,55.7 23.0,121.2 30.4,120.1 57.8,104.8 168.0,69.4 231.7,70.2 215.1,50.9 226.9,50.8 222.7,68.3 30.5,108.7 72.4,95.5 97.5,86.5 49.2,104.5 132.9,76.8 27.0,118.4 174.9,65.1 228.4,53.2 117.9,84.7 222.7,63.1 165.8,71.0 27.1,118.2 222.0,75.0 157.0,67.9 189.7,67.8 168.4,66.3 147.8,72.7 186.2,70.1 189.8,64.9 185.6,66.2 166.4,70.7 133.3,72.9 38.7,117.8 26.2,119.3 179.2,79.8 205.8,64.0 234.5,91.8 158.0,72.0 163.7,71.9 206.1,63.2 146.8,76.0 55.9,104.2 148.3,70.2 175.0,63.3 237.7,47.5 158.1,74.2 224.1,55.2 180.0,72.0 216.4,65.8 162.4,70.1 207.8,69.9 232.7,66.0 183.3,56.5 219.1,53.0 137.9,67.5 59.5,100.2 133.9,65.1 196.4,71.5 203.3,70.1 151.1,69.8 222.0,79.1 228.3,62.9 48.9,102.9 216.3,53.2 225.3,59.3 139.3,63.6 172.3,67.0 183.7,73.9 176.7,65.8 219.0,57.6 25.3,118.0 237.3,47.8 162.5,69.5 130.1,69.9 159.6,66.0 56.7,106.5 43.2,110.2 35.5,111.1 201.3,64.6 50.6,105.9 234.4,52.6 120.3,73.9 227.0,62.2 203.4,70.2 234.8,60.2 207.3,67.2 218.7,68.2 192.1,67.1 166.7,70.0 226.4,72.4 47.5,108.6 24.1,122.2 117.5,71.7 205.0,62.0 235.2,69.1 239.2,78.7 167.6,71.6 162.8,73.8 234.7,49.6 54.2,105.7 39.4,115.9 170.2,69.1 228.4,74.0 121.1,73.7 207.9,70.0 180.3,66.5 143.7,67.0 217.2,61.3 134.9,70.4 224.9,58.0 237.9,50.3 157.8,65.9 230.4,58.4 155.4,68.1 220.8,62.7 220.5,74.9 194.3,66.0 46.2,105.4 163.3,70.8 183.0,74.4 121.3,67.2 96.9,81.9 180.4,69.9 70.0,101.2 23.9,122.6 185.6,72.9 186.8,67.5 125.1,75.9 163.1,69.3 218.9,65.4 151.8,67.7 32.3,115.5 183.0,70.4 173.5,67.4 156.7,70.4 49.0,119.0 208.8,69.5 233.7,60.1 178.1,69.0 141.9,71.7 216.0,62.4 191.4,74.3 192.1,70.4 126.4,71.3 143.5,73.9 215.5,66.6 196.3,66.5 132.5,69.2 222.0,66.6 138.6,72.6 23.8,125.8 152.2,82.6 232.7,70.5 217.3,60.3 121.4,68.2 27.0,111.8 211.6,59.3 224.6,72.1 230.1,62.6 41.7,114.2 166.8,73.3 59.1,105.1 38.5,117.9 51.7,109.6 63.0,101.9 163.4,68.3 144.6,70.2 223.9,70.4 154.2,68.4 34.6,118.3 222.8,67.2 217.6,62.3 207.4,57.3 195.1,65.7 114.9,82.5 180.4,72.4 25.7,121.8 46.1,104.8 154.4,74.5 157.2,68.4 48.7,102.0 27.1,117.7 179.2,63.6 156.6,70.4 179.5,70.0 175.7,69.3 236.5,56.0 37.9,111.8 35.7,107.4 148.4,65.4 151.5,66.7 209.3,65.4 33.1,112.5 220.2,66.2 26.5,120.7 198.3,70.1 214.9,71.9 216.7,63.6 172.3,76.3 147.0,67.1 198.4,68.3 92.7,83.4 57.4,101.5 178.3,74.2 135.6,75.4 214.4,72.0 34.2,116.1 130.4,74.3 153.4,72.6 147.5,68.4 47.4,103.0 191.8,71.5 223.9,67.6 157.1,72.1 199.7,70.1 55.7,106.6 77.8,84.7 137.3,66.6 235.3,55.2 183.0,69.6 198.7,73.7 57.7,97.2 148.9,74.1 225.7,70.8 160.6,68.9 160.2,73.0 148.0,70.3 170.1,75.8 214.1,66.5 87.2,84.0 208.6,62.0 113.4,74.1 36.5,117.7 229.2,57.6 39.2,111.5 199.7,70.8 235.5,77.7 185.9,66.7 217.3,58.9 224.2,84.3 176.4,68.7 70.9,93.0 205.5,68.8 148.4,67.1 238.4,47.1 204.6,69.1 46.6,105.1 179.4,75.5 53.8,99.9 186.7,69.0 227.2,70.1 193.2,78.9 161.9,70.6 31.1,111.5 232.0,52.9 223.6,67.1 176.4,72.4 95.9,82.6 182.7,62.5 196.9,69.9 223.8,63.1 121.9,73.8 189.6,66.9 124.2,72.5 30.5,117.4 167.6,71.6 26.3,124.2 192.4,65.5 159.7,72.5 198.6,64.0 72.1,92.4 230.5,72.6 225.0,67.3 57.5,104.2 208.4,65.0 232.8,54.8 158.9,64.4 164.7,68.8 43.8,112.1 159.8,69.2 119.0,81.2 99.6,87.1 175.5,74.4 205.8,64.3 145.1,74.8 209.0,62.8 147.6,73.6 175.9,64.7 150.6,66.7 208.3,62.3 215.2,66.2 221.9,69.9 170.7,66.4 192.5,68.8 35.5,115.4 192.9,71.0 207.8,64.4 219.3,64.6 181.6,66.0 148.8,67.1 236.0,58.5 92.5,82.9 155.1,73.2 127.6,68.7 235.4,56.7 165.7,70.5 178.6,68.7 231.5,66.0 182.0,64.8 215.0,73.2 196.4,67.6 194.1,70.8 163.2,75.7 144.5,68.3 189.8,67.2 179.2,66.2 178.9,64.4 198.3,61.3 159.0,70.4 206.5,66.3 198.1,70.6 163.6,69.9 224.1,52.9 161.2,64.4 204.1,59.6 163.1,70.9 177.6,69.4 187.3,64.7 140.9,77.5 163.3,68.6 169.9,71.1 231.3,54.2 127.1,71.3 136.0,79.8 142.0,73.8 117.5,73.8 134.6,68.1 35.6,112.5 42.8,109.5 133.1,73.4 184.8,67.5 215.7,63.5 78.1,86.3 199.3,69.6 203.1,69.5 45.3,115.6 170.3,69.3 159.3,79.5 167.4,78.0 197.0,64.2 221.5,58.8 207.7,63.1 157.2,69.9 167.0,72.3 64.0,97.2 53.7,104.7 30.0,120.4 154.7,68.4 114.6,75.0 63.1,99.7 182.4,66.9 152.3,70.4 151.9,70.3 153.4,71.5 208.4,62.0 222.8,66.5 146.4,71.8 224.3,62.1 229.2,87.5 145.4,74.8 53.1,99.1 171.3,74.4 202.0,70.0 228.4,58.1 118.9,74.0 103.3,80.2 165.0,74.3 205.4,76.4 140.4,67.0 223.8,57.8 39.3,116.1 136.4,72.5 182.0,65.9 230.6,56.3 187.2,66.9 142.4,72.2 59.9,96.8 138.1,67.9 166.1,68.3 223.2,62.8 161.8,74.9 59.2,100.6 196.1,70.5 45.5,116.9 229.8,56.8 202.6,70.0 149.7,71.3 200.2,73.0 155.0,81.9 158.6,79.6 94.9,87.2 33.4,110.8 181.0,76.0 228.7,65.5 148.2,72.6 46.5,115.2 168.2,69.1 147.8,74.9 149.7,75.0 239.1,75.8 171.4,68.5 56.0,105.2 28.7,115.7 174.2,68.2 237.0,56.2 25.4,115.1 164.1,65.7 209.1,65.2 204.4,68.0 232.4,77.2 159.9,73.8 86.2,86.3 209.7,67.9 186.8,70.1 210.3,65.0 216.7,71.6 130.4,71.3 197.9,67.9 189.6,80.7 172.6,72.6 186.4,70.1 217.8,74.3 148.8,67.8 44.8,111.0 215.6,53.9 85.9,87.3 86.4,88.2 134.1,71.8 213.5,63.7 159.6,67.3 156.3,68.9 31.5,118.3 222.6,54.1 238.3,63.7 235.7,73.9 24.6,120.4 222.8,66.8 221.2,54.1 235.7,69.3 30.1,122.8 174.1,75.2 107.8,73.2 236.6,66.2 179.7,65.4 190.0,74.0 174.9,75.7 189.6,68.9 23.3,116.5 152.7,74.9 219.6,60.8 224.3,69.0 221.6,71.0 113.3,82.7 132.6,73.8 161.8,69.2 226.8,62.4 97.6,91.7 163.7,74.5 217.5,67.2 206.1,63.2 47.9,103.0 219.3,66.7 31.2,113.7 27.5,121.4 115.4,77.4 106.5,75.4 234.4,55.0 238.7,59.4 45.8,108.7 230.9,59.8 210.5,67.0 135.2,73.5 49.8,106.7 181.8,71.6 207.2,64.6 29.7,122.1 182.6,60.4 231.9,72.6 226.3,71.5 236.1,59.7 156.8,68.6 157.6,71.9 146.4,74.1 162.6,70.9 160.4,69.6 76.1,89.2 35.6,113.8 68.1,102.3 185.5,73.2 226.3,65.3 63.1,100.2 229.1,53.1 161.3,66.9 28.7,119.7 234.4,63.5 43.1,117.7 186.4,67.0 155.6,69.0 138.4,78.9 178.0,69.2 192.6,63.3 166.5,72.6 198.6,69.1 160.0,72.8 26.2,120.7 189.5,67.9 199.2,69.2 191.8,71.7 126.4,74.4 186.0,73.8 137.1,71.2 165.7,67.1 197.1,61.5 172.3,76.2 78.7,88.6 29.9,126.9 231.0,49.8 29.6,125.2 169.4,72.1 147.5,71.3 170.9,70.2 171.4,55.5 200.5,64.1 190.7,75.5 206.4,71.9 34.5,116.3 62.4,100.0 33.0,119.7 57.5,104.7 226.4,65.4 30.2,120.8 128.0,73.5 157.1,70.9 232.5,40.4 147.8,70.3 171.3,67.1 223.6,56.5 188.6,73.8 226.5,64.3 219.2,68.8 193.6,69.1 34.0,114.0 40.7,114.4 133.9,74.5 186.0,75.9 41.0,107.6 28.9,118.1 183.3,66.5 155.1,74.5 213.5,62.2 53.2,108.5 35.8,119.1 69.9,90.7 42.4,108.8 200.6,72.6 44.4,113.1 184.7,65.8 137.1,70.3 204.7,72.6 195.7,63.6 143.1,71.8 182.5,61.1 238.7,54.2 160.3,67.5 195.2,62.4 63.8,99.5 229.4,66.5 26.3,114.6 56.7,99.2 218.8,67.6 185.5,75.0 123.2,71.4 222.8,65.4 68.4,89.1 217.3,65.6 129.1,71.1 220.8,63.3 204.0,73.8 208.0,62.9 183.8,74.2 231.0,68.2 149.5,71.2 49.0,113.7 39.3,114.9 237.5,63.0 61.6,97.3 225.3,72.0 27.0,119.3 233.8,49.8 140.9,73.9 229.8,59.2 25.7,124.1 225.1,77.8 221.5,61.5 230.2,52.5 54.7,105.8 169.1,73.4 34.3,121.7 189.7,73.9 164.1,67.4 27.9,121.3 221.1,69.4 220.5,66.9 237.7,65.5 131.5,68.8 125.5,69.8 53.7,98.1 221.0,78.6 139.3,70.0 187.0,73.3 129.8,74.9 35.6,117.5 236.0,66.4 215.5,69.1 234.8,41.4 41.0,115.6 155.7,70.4 188.4,66.9 57.8,93.8 119.9,78.2 209.0,63.4 29.7,116.9 42.4,113.5 173.6,74.2"/><polyline fill="none" stroke="none" marker-start="url(#ma5)" marker-mid="url(#ma5)" marker-end="url(#ma5)" points="109.8,70.3 198.8,47.3 174.3,53.8 144.2,61.0 54.0,79.9 127.8,66.2 152.8,51.0 142.2,59.1 228.5,40.6 58.0,90.1 227.8,48.5 54.9,86.1 100.1,65.1 91.2,70.0 214.6,51.2 129.9,54.4 170.3,55.8 61.7,83.7 24.2,95.7 150.3,49.3 22.4,102.9 208.6,48.3 208.3,50.4 79.3,72.9 206.0,48.5 58.4,81.6 180.2,46.0 98.1,68.3 96.6,72.7 203.6,51.9 129.0,58.4 179.8,50.6 227.0,48.5 25.5,99.8 81.1,74.0 55.0,82.4 33.1,92.9 130.5,60.4 60.4,86.3 124.6,62.0 111.6,68.0 43.1,88.5 132.4,58.3 211.7,47.9 188.3,46.8 157.5,48.8 198.9,45.8 182.4,46.4 85.3,73.8 140.4,59.9 159.3,53.5 82.7,75.4 105.1,68.1 82.0,75.4 183.6,50.9 201.3,47.0 169.6,49.9 139.1,58.4 146.1,63.2 181.9,51.0 28.8,92.7 169.9,49.3 38.2,98.4 107.0,63.6 120.3,62.2 148.0,60.0 211.9,53.4 184.7,49.7 173.4,53.9 42.6,86.1 157.6,49.9 236.4,52.1 197.7,51.5 74.7,77.5 144.5,53.4 136.3,63.4 111.9,61.8 185.7,45.8 147.5,56.3 157.9,46.3 120.1,66.4 152.4,55.1 224.2,52.6 158.7,56.7 73.5,75.1 163.7,51.6 110.2,68.7 51.6,81.9 195.8,56.5 125.4,59.4 25.2,95.9 201.0,45.9 82.3,72.9 134.6,54.3 195.2,49.0 67.0,85.7 225.0,50.7 93.3,70.9 215.6,49.2 30.6,93.3 155.8,52.4 206.9,46.3 36.4,85.1 144.2,57.5 167.9,52.4 152.4,58.6 71.7,81.3 153.9,59.0 144.9,52.9 24.5,93.1 29.3,98.0 216.2,34.7 108.6,66.9 189.5,56.5 173.6,44.4 216.3,46.1 187.8,50.8 169.5,53.0 192.5,39.6 101.6,59.5 167.7,59.0 130.9,61.7 135.5,63.4 83.6,73.7 151.4,50.3 211.5,44.9 172.4,58.4 171.4,44.9 118.6,61.5 40.0,96.8 188.0,50.2 161.5,63.4 198.4,47.3 86.1,69.4 188.6,44.9 176.4,52.4 170.7,51.8 146.6,59.8 76.5,84.4 138.6,56.2 166.3,54.9 211.2,40.8 230.8,45.4 185.0,54.5 84.8,73.2 121.0,62.9 64.8,82.9 92.5,71.8 181.6,49.3 130.6,53.5 114.2,61.6 165.9,53.6 215.7,47.8 112.8,64.1 110.3,59.3 165.2,61.0 227.1,46.7 143.8,50.5 67.9,77.9 49.0,89.9 41.3,85.6 38.2,92.6 26.0,100.0 155.1,62.6 125.2,64.6 193.1,51.8 146.6,55.4 44.9,96.0 32.7,92.1 156.5,50.6 147.5,54.0 210.0,50.0 194.7,48.2 102.1,67.7 217.4,49.4 238.8,45.2 56.0,90.0 138.2,49.5 229.2,41.6 216.7,44.8 38.1,95.2 117.0,67.6 227.7,40.9 215.9,40.6 202.5,50.0 194.2,48.4 220.0,52.2 219.5,47.1 85.9,70.1 106.0,55.9 126.3,56.8 157.0,52.7 223.7,43.3 199.0,47.7 229.5,50.7 184.0,50.2 45.5,82.3 232.1,46.5 238.0,42.2 82.3,72.4 131.4,59.5 46.0,86.6 69.7,85.0 226.7,46.4 166.9,47.5 214.5,57.2 61.4,81.0 202.3,46.9 230.9,40.1 29.3,96.0 212.7,52.3 201.2,50.9 72.8,74.0 25.0,98.4 91.5,65.8 110.4,66.6 135.2,55.2 209.0,43.8 154.0,55.2 197.2,50.6 149.6,48.9 145.4,64.0 148.6,57.0 192.7,51.7 205.0,51.0 53.9,83.1 231.5,46.9 80.8,74.2 228.4,51.4 221.1,49.3 168.1,48.0 195.7,48.1 124.8,63.3 171.8,52.8 103.6,65.3 131.2,55.3 208.9,42.0 103.4,66.1 150.8,56.8 66.6,82.7 121.9,57.3 232.3,45.3 129.1,54.8 135.3,62.8 200.7,52.5 147.3,58.2 108.8,69.1 46.7,89.0 237.1,43.4 202.5,46.8 142.9,54.1 107.7,69.6 170.0,49.9 165.1,50.3 209.6,56.1 60.6,92.8 85.7,74.3 150.5,50.1 71.2,75.2 55.1,83.7 87.6,71.2 142.2,57.1 183.2,48.8 68.3,84.8 166.2,51.8 150.2,56.7 210.3,48.9 46.3,89.1 71.9,80.2 91.1,65.4 119.5,64.5 121.0,61.1 181.4,54.6 74.4,75.8 129.8,61.9 228.6,44.0 155.7,44.9 98.0,69.5 194.7,50.9 207.2,51.5 68.3,73.7 167.3,53.0 197.9,51.1 70.5,86.3 145.3,52.3 48.8,87.8 188.3,57.1 211.7,49.1 137.7,54.6 111.0,73.7 148.4,55.7 171.6,54.5 27.6,95.7 113.6,64.7 222.1,50.5 166.7,52.5 56.1,79.6 87.3,74.8 239.1,46.5 141.7,61.4 93.1,69.2 105.8,68.2 232.1,45.9 226.2,46.0 40.8,88.8 38.7,93.8 136.4,56.5 201.4,23.3 87.3,76.4 37.3,96.7 216.1,48.7 68.6,82.4 216.0,42.4 107.6,69.9 128.1,63.2 162.8,52.1 92.2,70.9 166.6,58.2 125.4,62.6 190.1,39.0 49.3,89.9 166.5,50.0 121.2,59.9 49.9,86.8 215.3,50.7 40.5,81.3 192.0,55.1 225.7,39.7 88.6,63.6 231.2,40.0 25.9,90.2 213.6,45.0 156.4,46.9 23.7,96.1 161.1,51.3 195.5,50.1 98.6,69.7 85.9,72.7 148.0,39.3 121.6,62.5 68.8,84.3 206.9,39.7 108.7,66.1 148.8,54.0 201.7,50.6 130.9,55.5 82.4,73.4 63.3,74.5 27.0,98.1 115.9,75.3 53.3,89.1 170.1,58.2 62.8,84.9 76.4,77.6 69.5,86.5 133.7,60.6 209.5,48.8 152.4,51.1 142.8,52.1 73.9,83.4 70.6,77.1 167.9,64.4 61.1,87.0 229.6,47.0 43.3,83.1 222.5,51.1 27.1,93.3 46.1,95.5 142.5,52.4 138.3,66.5 169.4,46.8 210.5,44.2 227.5,46.4 133.1,53.8 183.3,54.8 147.0,54.5 84.6,65.9 127.5,59.8 156.1,47.6 58.8,91.3 113.2,61.9 71.1,79.2 40.8,90.8 103.6,57.5 74.3,73.9 197.6,51.3 228.8,56.2 44.2,89.4 95.5,72.9 94.9,66.9 220.3,48.4 89.0,75.2 82.7,77.1 135.0,55.0 167.4,58.4 52.2,87.9 189.7,54.5 112.5,69.6 86.4,71.3 72.8,76.1 91.5,68.1 37.2,87.4 207.6,50.5 201.5,44.9 172.7,50.5 47.8,88.2 201.7,51.0 136.5,53.8 81.5,69.4 63.4,79.3 198.7,45.7 76.3,73.8 92.7,70.6 168.1,54.9 71.2,80.9 155.6,56.2 108.6,63.7 111.3,69.7 62.1,78.0 181.3,52.4 127.4,63.0 201.9,45.7 202.4,43.2 216.8,43.4 193.7,46.4 55.8,85.0 123.2,75.7 127.6,60.8 162.1,41.0 235.3,41.3 146.7,55.7 155.1,51.5 164.6,58.1 86.6,75.7 211.3,50.9 145.6,58.4 173.5,45.7 217.9,56.2 36.9,85.7 98.8,73.3 24.8,101.7 24.8,95.1 30.2,97.3 63.5,75.3 111.4,64.3 129.4,57.7 189.3,51.4 177.6,51.3 40.7,93.3 36.9,95.2 179.3,50.2 153.3,56.0 155.9,51.2 74.9,74.1 229.9,44.7 151.8,51.8 202.2,51.9 110.0,64.0 101.5,72.4 164.9,48.9 116.1,66.7 186.1,52.0 152.9,48.6 232.3,45.0 48.5,85.7 202.0,52.9 151.6,54.6 153.1,54.8 180.4,52.5 54.7,85.1 81.1,76.9 191.9,46.8 43.3,87.8 71.3,83.4 138.5,56.2 27.2,92.9 200.2,44.6 47.4,83.7 55.6,92.5 191.7,41.5 113.1,69.1 67.0,83.3 166.7,43.8 96.9,68.3 157.1,59.5 186.1,52.9 222.0,35.0 182.2,48.5 75.2,82.9 203.4,42.8 85.9,73.1 132.7,63.0 146.4,57.1 108.4,64.3 177.5,47.4 193.1,55.8 103.8,65.0 151.7,57.4 50.8,85.3 227.4,48.5 104.8,67.4 75.0,78.9 151.3,57.1 36.8,92.4 192.4,49.5 64.0,86.8 33.5,95.6 77.6,74.2 143.2,48.9 176.9,57.4 161.2,54.6 144.1,56.0 117.4,64.9 78.4,75.8 72.2,80.6 187.8,50.6 237.1,47.9 220.8,44.9 52.5,86.7 200.9,50.2 83.4,76.1 206.6,52.6 183.6,46.3 136.8,61.1 80.0,71.1 203.1,47.6 144.4,57.6 164.0,56.3 219.3,48.3 233.9,43.9 115.9,67.0 68.4,82.3 79.2,73.8 100.0,66.7 156.5,59.1 57.1,86.9 66.4,82.6 156.2,53.3 66.7,84.8 76.0,79.9 84.8,74.5 101.4,73.7 39.2,85.8 84.7,75.8 28.9,101.9 35.0,92.1 100.3,64.6 30.8,91.6 77.7,78.7 61.2,87.6 88.8,67.6 216.2,49.1 52.8,91.8 214.8,52.2 128.8,55.8 207.8,41.0 59.2,84.4 150.3,45.5 37.5,91.4 156.0,57.6 36.2,101.1 221.9,48.8 143.8,57.1 102.0,61.9 117.6,65.8 195.0,43.6 102.7,68.8 183.0,59.7 94.1,70.6 216.5,48.5 197.7,53.1 185.7,55.6 72.8,82.5 225.7,39.3 208.5,53.7 160.8,52.3 50.3,85.6 94.6,73.3 74.8,80.9 84.8,81.1 29.3,88.6 237.6,49.3 140.2,61.1 179.9,55.1 132.8,65.3 97.2,69.1 88.9,75.4 29.8,96.5 133.8,58.2 66.5,77.6 179.6,50.0 26.6,99.6 152.2,58.7 158.0,50.1 182.7,53.4 235.2,43.7 168.0,49.7 96.7,70.7 114.4,59.4 137.2,51.5 65.0,75.8 237.3,46.7 68.4,77.4 166.9,53.2 37.8,91.9 165.4,51.1 74.9,81.6 64.2,83.5 217.6,49.8 190.5,45.3 137.3,56.8 166.3,49.1 124.8,58.5 169.1,58.4 46.5,90.5 181.4,46.5 184.5,51.9 85.3,67.3 145.7,53.6 57.1,82.3 206.8,44.8 223.1,49.8 184.2,49.8 55.5,91.7 116.2,67.6 72.9,81.0 85.4,72.3 175.8,52.6 91.0,67.1 37.5,93.4 62.1,79.9 191.3,52.3 174.7,58.3 64.2,79.6 149.4,44.4 38.9,92.4 86.0,65.5 83.3,77.6 236.0,45.9 103.1,68.1 194.1,52.8 69.3,79.1 54.0,89.4 110.7,65.5 52.7,87.3 169.8,48.9 224.8,49.3 207.7,45.0 152.4,53.4 232.2,47.5 215.0,46.9 43.0,81.8 130.0,50.3 212.2,50.5 39.0,96.8 198.5,53.3 211.3,53.3 156.2,54.2 106.5,57.3 129.9,66.3 151.0,60.6 201.4,48.7 82.5,72.7 170.6,50.7 238.5,41.1 234.3,54.5 173.6,54.4 46.9,90.3 83.1,72.2 92.0,67.4 178.7,49.8 196.7,49.9 73.3,79.2 54.8,85.5 90.8,72.1 183.2,52.2 182.2,46.5 96.7,65.4 119.6,61.7 163.9,43.7 52.5,88.4 101.5,66.7 102.2,66.0 30.3,95.3 199.2,46.6 205.6,51.1 211.4,48.6 54.3,89.0 132.2,53.7 151.5,54.1 201.5,55.2 180.3,47.7 62.6,81.9 106.3,63.1 202.7,47.2 220.9,42.5 48.2,93.3 231.5,47.1 237.4,41.8 128.0,57.9 201.9,49.5 232.2,42.0 97.9,71.7 176.5,51.8 179.9,59.1 225.9,46.9 65.5,80.2 59.5,79.2 233.5,52.1 70.1,85.6 168.2,51.8 108.6,63.9 104.6,63.0 101.4,73.8 207.9,47.2 137.7,57.9 124.5,67.8 110.5,69.6 154.3,50.3 114.8,70.9 56.8,89.1 149.4,54.6 124.5,64.3 55.5,82.2 146.8,56.8 153.9,58.9 228.4,38.3 157.1,52.7 111.8,62.2 207.3,43.4 203.1,44.2 152.8,47.5 146.5,40.1 130.1,61.4 88.8,70.8 233.4,50.6 96.7,77.3 177.1,55.7 161.3,53.8 126.9,57.8 110.4,63.8 225.6,45.2 206.2,48.3 55.5,84.1 108.8,66.5 63.3,83.6 147.2,55.1 121.0,67.8 30.9,101.2 190.3,50.0 231.3,44.6 134.8,58.0 212.7,47.3 181.3,47.8 59.8,78.2 166.6,58.8 108.9,66.1 92.0,71.8 85.3,73.2 165.9,52.4 79.4,81.0 134.1,65.3 133.7,57.8 97.9,67.8 171.6,52.1 138.5,52.7 31.0,89.3 92.4,66.7 173.6,53.5 108.0,64.6 173.1,52.9 210.9,50.0 186.3,47.3 207.1,56.5 74.6,77.7 38.3,89.9 184.5,52.9 52.1,90.6 193.9,51.1 42.8,85.1 136.1,57.3 137.1,57.2 101.3,72.9 137.7,61.5 100.4,70.9 120.2,65.4 191.2,51.3 91.7,76.1 193.4,46.3 85.2,70.2 28.2,91.7 45.2,91.0 150.1,51.5 101.7,63.3 203.2,49.6 69.4,84.4 138.4,50.7 216.8,41.6 78.1,75.3 41.2,86.7 119.6,73.5 116.4,66.9 116.3,58.6 75.5,73.8 179.8,57.1 141.7,66.1 45.7,84.8 159.0,52.2 161.4,51.8 155.2,51.6 122.8,57.3 211.5,41.0 81.3,77.0 124.9,59.2 190.3,54.0 105.7,67.3 172.2,54.5 117.7,66.7 196.3,44.0 132.5,59.6 91.3,64.2 89.0,71.7 187.8,50.4 148.5,56.5 84.1,75.0 102.2,66.2 222.8,45.1 107.7,65.5 31.5,94.3 194.8,52.1 113.3,59.4 102.2,72.5 179.7,54.8 103.8,60.9 179.8,51.1 58.7,80.2 218.4,41.8 65.4,82.7 120.4,56.7 61.8,85.1 72.5,82.1 230.3,46.5 221.8,38.6 200.3,36.7 59.5,82.1 83.4,82.1 150.5,57.8 139.0,61.9 170.3,54.6 152.1,59.7 72.8,77.0 173.1,49.1 91.6,77.5 213.6,40.5 195.7,43.6 219.8,50.4 104.2,62.3 42.1,93.7 185.7,53.6 195.8,48.6 208.7,51.6 33.3,99.3 43.2,91.8 131.1,60.5 32.3,94.3 108.0,74.3 197.6,57.0 110.0,64.6 58.5,94.2 53.5,87.5 119.5,59.1 222.8,37.7 51.6,73.0 138.9,59.9 149.6,54.9 30.8,95.5 71.6,76.9 201.9,51.9 160.7,44.1 175.8,52.6 114.0,61.5 32.0,86.1 101.2,67.1 121.7,67.7 170.3,57.1 137.9,55.5 209.5,42.7 123.3,65.4 166.4,53.8 67.3,78.0 106.2,68.4 122.9,64.6 201.2,50.6 146.8,56.9 113.7,61.5 151.9,53.0 50.6,87.4 132.7,65.0 199.8,51.7 149.2,56.7 50.4,93.2 206.7,43.9 175.8,53.2 234.6,44.6 59.1,92.1 235.9,45.2 141.3,61.5 124.8,56.3 202.4,48.9 42.4,84.6 54.7,88.3 70.3,72.5 140.0,58.7 175.9,54.3 179.4,49.9 23.2,95.0 48.2,88.5 176.2,52.3 169.1,54.8 41.2,88.3 189.2,46.9 78.5,72.5 189.7,50.4 85.7,71.0 28.9,93.6 112.2,73.6 56.8,81.1 228.8,47.4 119.7,63.3 98.1,62.0 125.1,53.6 166.6,50.2 97.4,69.7 30.6,96.2 201.0,53.8 204.3,41.4 142.9,58.7 75.1,77.1 233.6,40.4 62.0,85.6 174.1,53.2 51.9,87.2 132.2,60.5 169.8,53.7 36.8,92.7 145.1,56.8 73.0,74.2 97.0,66.4 192.9,48.5 116.0,67.0 186.7,50.2 108.6,68.7 179.1,49.0 155.3,57.6 212.0,48.8 54.6,76.0 64.1,85.9 41.1,93.4 112.8,65.6 55.9,87.3 230.4,41.5 90.8,69.5 129.5,56.3 236.3,42.6 67.9,83.7 84.9,69.0 141.2,53.6 115.6,65.9 90.5,76.0 170.7,58.9 216.4,45.0 178.4,44.1 80.9,71.5 196.4,44.9 141.1,54.8 114.8,59.8 69.8,80.3 173.5,57.9 216.1,41.2 29.8,94.8 232.9,39.2 37.5,92.9 210.4,59.1 37.0,91.0 235.1,42.4 131.4,64.7 46.9,90.6 67.4,82.0 52.2,90.0 147.8,48.9 195.0,53.4 135.6,56.2 233.7,52.8 162.4,52.5 197.9,55.5 149.5,52.7 121.7,66.8 111.4,70.1 189.1,44.1 228.5,43.3 137.0,57.3 190.9,46.7 206.8,47.3 172.4,47.7 150.4,52.4 130.1,58.9 205.5,47.8 125.7,61.1 138.6,62.9 28.0,99.5 140.9,58.4 237.4,44.5 200.4,47.6 135.1,66.7 36.6,96.1 206.0,48.6 157.8,46.1 154.6,53.2 154.8,53.1 193.0,49.2 54.4,86.8 200.9,53.6 122.9,68.8 222.8,53.4 38.9,95.0 159.3,50.5 199.1,55.5 162.5,53.4 91.3,77.6 94.8,64.6 98.5,60.9 70.5,76.2 38.6,95.8 219.3,46.1 56.8,86.6 190.8,49.8 143.5,54.8 110.6,64.5 218.1,40.0 197.2,51.3 83.2,72.5 235.3,44.0 69.6,88.3 197.2,52.9 192.8,44.5 233.0,44.8 154.8,51.8 61.7,80.7 125.9,64.3 175.3,49.1 209.4,50.0 23.9,86.9 149.6,53.8 169.6,50.3 120.8,54.0 68.0,77.4 96.4,68.0 45.1,77.5 213.7,51.8 28.6,85.1 221.4,48.3 37.0,99.8 65.2,82.0 62.3,78.6 57.4,81.9 66.7,74.4 107.0,60.1 195.1,43.5 235.2,36.3 23.6,95.7 178.7,45.8 133.8,52.6 85.3,69.8 115.5,60.4 212.9,44.5 105.6,65.8 157.5,46.3 122.4,64.8 117.6,76.7 114.6,63.1 151.9,48.2 30.4,100.0 175.4,50.9 132.2,64.9 56.0,82.9 108.0,70.9 199.7,45.4 94.8,68.3 32.2,96.9 161.5,52.0 139.6,59.8 49.3,84.1 49.0,90.9 81.6,72.0 62.9,79.7 159.7,45.4 80.4,68.9 141.5,58.4 134.6,59.5 162.8,48.3 47.8,80.9 37.6,91.9 221.6,40.2 108.6,61.3 55.2,84.8 150.8,45.5 203.2,50.4 136.3,56.2 107.7,70.1 47.5,88.8 78.4,79.9 50.0,87.5 97.1,69.5 152.2,51.6 38.5,87.5 71.0,77.6 150.5,53.1 51.2,90.2 56.2,78.9 202.5,44.0 195.9,61.3 113.8,65.7 47.9,80.5 108.4,69.1 85.3,75.9 201.6,49.9 142.0,54.6 200.2,52.1 112.4,65.3 77.8,78.8 192.8,50.6 118.3,67.8 97.5,67.6 162.0,49.3 81.1,76.0 187.1,51.3 96.8,67.2 175.2,47.7 136.4,54.9 191.5,50.8 194.1,47.3 231.1,44.1 189.3,48.0 146.2,61.3 141.4,52.5 233.4,41.8 191.4,49.3 173.0,47.8 126.5,63.0 200.1,49.3 89.6,71.9 64.8,84.8 46.1,88.0 212.1,36.3 192.6,50.8 192.3,57.7 113.6,68.8 229.6,44.2 66.7,84.7 154.6,48.7 70.0,83.1 111.2,58.2 201.9,47.7 202.2,47.9 45.4,94.4 160.0,53.0 169.2,53.9 138.6,53.4 232.8,41.8 207.1,45.2 109.9,61.7 223.0,44.4 210.5,45.8 147.9,53.1 191.7,55.4 223.8,52.7 232.6,47.4 217.7,44.1 174.5,44.9 68.8,82.4 216.2,48.8 181.6,55.6 98.9,67.2 138.1,60.3 164.9,53.4 220.2,45.6 211.6,51.1 169.3,46.5 100.6,68.2 160.6,55.5 120.7,57.5 96.4,69.1 137.4,54.1 151.5,41.8 234.4,37.7 233.7,48.0 41.4,91.8 77.4,83.1 40.5,92.3 57.2,82.2 134.4,62.0 221.6,47.5 44.1,90.6 143.0,58.6 199.8,44.6 105.1,67.9 113.4,74.3 115.7,65.1 25.3,92.0 107.3,65.1 49.3,98.5 144.2,57.0 111.3,57.1 54.9,82.3 54.5,86.5 197.8,47.6 106.3,70.9 236.3,43.2 147.3,58.3 130.1,54.5 154.0,53.6 178.8,54.6 229.0,47.7 64.5,81.6 199.6,49.4 126.4,62.8 56.6,78.0 148.2,49.2 47.3,91.2 98.9,74.0 184.5,56.8 131.8,59.2 54.6,81.5 224.3,47.2 234.0,45.9 151.2,46.7 173.6,53.8 114.8,66.7 34.7,95.7 68.9,80.7 154.7,58.1 131.0,65.9 63.7,81.0 97.0,69.0 140.3,65.2 215.3,48.4 196.0,49.8 225.6,48.5 106.2,62.1 165.5,61.4 80.5,74.5 32.3,89.3 178.1,59.4 42.9,86.8 152.4,57.5 104.2,66.5 164.2,50.5 179.7,48.0 146.5,54.2 138.8,59.3 207.8,49.2 178.4,64.6 93.3,74.4 74.4,70.1 184.1,54.1 69.4,73.0 130.3,57.1 229.6,44.9 218.3,52.2 185.5,56.3 123.2,63.9 47.5,84.4 198.2,49.9 172.1,53.1 99.5,65.7 146.9,66.5 58.1,88.8 110.4,64.0 140.4,54.3 181.9,52.3 192.1,51.2 211.4,46.5 90.1,64.2 31.9,89.1 174.0,52.8 106.7,61.6 38.1,92.8 195.3,49.1 189.1,52.1 94.6,72.1 196.4,51.3 192.0,38.0 106.9,72.1 72.4,76.6 72.3,84.2 77.0,75.4 97.1,68.3 46.7,88.3 100.1,73.9 158.4,51.7 115.6,69.3 36.5,100.3 46.9,93.7 112.3,69.3 183.4,53.4 122.3,58.6 216.0,48.6 129.9,56.3 231.0,43.2 101.6,68.9 160.5,50.6 50.0,89.2 56.6,90.5 189.1,54.2 143.5,58.1 109.8,63.2 161.8,54.6 225.0,51.7 210.3,50.0 205.5,49.1 50.1,89.7 118.3,65.3 163.4,47.3 36.2,86.7 221.9,38.0 59.0,83.9 188.0,45.8 196.5,46.8 232.1,48.2 186.5,52.7 46.0,86.1 121.9,64.4 90.9,70.0 153.7,45.0 86.1,71.7 79.2,75.2 117.6,63.4 102.2,70.9 232.3,44.7 97.5,69.2 202.8,54.1 62.5,81.5 211.2,45.2 53.5,89.8 172.1,51.6 189.8,58.2 43.8,94.7 134.0,59.2 226.1,45.9 167.4,61.5 43.8,89.1 42.0,85.6 69.7,88.2 171.6,55.2 138.3,53.6 39.1,96.3 26.4,101.4 51.0,82.6 138.0,55.4 157.9,57.0 125.0,59.2 226.7,41.4 127.0,63.3 75.6,78.4 51.9,89.9 122.4,70.5 215.6,43.2 209.3,47.6 151.4,55.8 179.0,51.8 147.9,59.9 67.0,85.4 58.4,75.7 68.4,85.4 221.7,36.0 27.9,94.6 56.2,83.9 216.8,51.9 114.0,63.5 218.6,51.9 61.5,84.3 181.4,50.4 126.8,54.9 177.7,45.5 46.7,91.9 87.1,76.2 187.3,56.0 122.2,59.3 113.6,62.2 211.7,42.8 199.0,46.6 92.5,63.6 234.7,47.3 138.5,54.7 55.2,86.3 201.5,58.2 32.3,96.7 238.6,47.1 31.3,96.5 177.3,50.1 235.7,49.2 178.4,49.5 167.1,53.1 31.1,94.8 60.3,80.9 153.2,53.7 93.6,73.0 144.2,51.9 72.8,74.1 121.4,62.2 179.4,45.1 148.8,57.9 36.6,99.1 234.1,53.9 147.9,49.6 80.0,70.3 60.5,82.3 66.3,81.3 87.3,68.5 228.5,44.9 137.9,57.1 136.7,47.0 59.0,88.6 156.9,57.2 111.1,59.7 58.5,86.4 61.7,82.5 80.4,77.9 121.8,54.0 226.2,41.7 40.5,83.6 193.7,54.3 22.4,100.7 72.4,78.4 85.1,73.2 134.2,60.9 94.5,66.0 131.2,63.5 219.4,54.3 196.2,54.6 85.1,69.0 53.2,81.2 186.8,51.0 210.5,42.4 84.3,72.7 47.3,93.5 196.9,49.5 197.8,56.4 193.0,48.6 33.2,86.6 36.8,85.8 69.2,80.4 160.6,54.3 140.0,60.3 162.0,47.4 133.5,57.9 184.9,37.3 67.6,81.3 232.0,49.4 33.9,86.5 194.9,51.6 186.1,50.8 225.9,46.7 116.1,65.6 230.5,47.5 172.7,49.8 146.8,54.5 68.4,77.8 157.1,73.3 28.0,89.1 186.6,47.9 108.3,61.8 154.7,58.8 216.8,51.5 69.4,83.6 65.2,79.2 165.8,60.2 72.6,75.1 122.2,69.2 34.3,99.4 42.3,89.9 237.3,45.4 90.0,63.6 70.8,76.6 95.3,66.5 201.1,47.8 43.2,92.1 125.5,58.0 234.4,44.5 167.0,55.5 155.9,51.1 204.8,47.8 117.2,68.2 64.9,81.9 186.5,51.6 109.1,64.1 70.2,78.4 152.6,48.1 44.2,92.2 194.5,44.5 157.9,53.0 132.0,61.3 112.4,63.9 94.7,68.0 106.7,60.5 196.0,51.3 123.6,66.6 234.1,44.1 212.3,53.6 99.9,65.5 105.9,70.2 43.6,90.7 105.3,74.3 201.2,43.6 136.2,58.6 167.4,59.7 23.6,85.3 202.4,47.0 82.1,68.3 217.8,50.9 51.0,91.4 186.3,51.1 33.1,98.5 222.0,48.1 136.0,57.5 238.7,38.9 178.8,39.9 124.3,63.3 105.7,63.2 54.1,92.7 212.4,46.7 86.3,70.4 222.6,47.6 106.5,65.4 39.9,86.7 183.5,40.1 56.8,83.1 196.3,51.3 50.2,90.4 168.9,53.3 44.1,92.3 125.6,56.7 177.1,44.0 123.0,65.6 170.8,52.3 147.3,53.0 224.5,42.4 207.4,50.6 206.1,45.7 207.8,50.7 180.8,49.2 208.8,49.3 32.4,93.7 141.4,61.3 82.5,76.6 205.9,51.9 161.0,53.2 189.2,49.9 36.0,90.4 115.5,65.7 79.8,76.0 74.1,82.1 35.5,81.8 71.8,80.9 105.1,65.9 125.4,59.0 129.9,61.7 155.7,54.3 177.4,48.9 230.7,41.9 178.6,45.8 221.0,46.0 233.9,44.8 94.0,71.1 77.7,74.0 151.6,54.4 209.9,45.2 35.7,99.1 225.2,46.9 136.2,52.7 154.7,54.4 161.5,51.6 86.6,72.7 61.5,85.1 64.0,80.4 100.7,64.7 172.6,50.0 92.5,74.9 37.0,89.2 129.9,56.5 166.2,52.5 140.2,55.3 154.5,51.1 79.3,69.6 95.6,68.8 213.2,48.4 70.6,74.9 83.1,74.6 136.5,52.8 120.7,67.2"/></g><g stroke="#000" stroke-width="1.15"><circle cx="57.9" cy="143.6" r="2.55" fill="#3552c4"/><circle cx="63.6" cy="141.8" r="2.55" fill="#3552c4"/><circle cx="72.2" cy="137.3" r="2.55" fill="#3552c4"/><circle cx="77.9" cy="136.0" r="2.55" fill="#3552c4"/><circle cx="83.6" cy="134.0" r="2.55" fill="#3552c4"/><circle cx="89.3" cy="133.1" r="2.55" fill="#3552c4"/><circle cx="95.0" cy="131.3" r="2.55" fill="#3552c4"/><circle cx="100.8" cy="129.1" r="2.55" fill="#3552c4"/><circle cx="106.5" cy="125.5" r="2.55" fill="#3552c4"/><circle cx="112.2" cy="124.0" r="2.55" fill="#3552c4"/><circle cx="117.9" cy="127.6" r="2.55" fill="#3552c4"/><circle cx="123.6" cy="122.7" r="2.55" fill="#3552c4"/><circle cx="129.3" cy="123.6" r="2.55" fill="#3552c4"/><circle cx="135.0" cy="122.7" r="2.55" fill="#3552c4"/><circle cx="146.4" cy="119.6" r="2.55" fill="#3552c4"/><circle cx="157.8" cy="119.1" r="2.55" fill="#3552c4"/><circle cx="169.3" cy="119.6" r="2.55" fill="#3552c4"/><circle cx="177.8" cy="119.6" r="2.55" fill="#3552c4"/><circle cx="186.4" cy="116.4" r="2.55" fill="#3552c4"/><circle cx="195.0" cy="114.9" r="2.55" fill="#3552c4"/><circle cx="200.7" cy="110.9" r="2.55" fill="#3552c4"/><circle cx="206.4" cy="109.1" r="2.55" fill="#3552c4"/><circle cx="212.1" cy="110.9" r="2.55" fill="#3552c4"/><circle cx="217.8" cy="109.5" r="2.55" fill="#3552c4"/><circle cx="57.9" cy="130.6" r="2.55" fill="#5fd2ee"/><circle cx="63.6" cy="129.0" r="2.55" fill="#5fd2ee"/><circle cx="72.2" cy="126.3" r="2.55" fill="#5fd2ee"/><circle cx="77.9" cy="123.7" r="2.55" fill="#5fd2ee"/><circle cx="83.6" cy="121.9" r="2.55" fill="#5fd2ee"/><circle cx="89.3" cy="119.6" r="2.55" fill="#5fd2ee"/><circle cx="95.0" cy="119.9" r="2.55" fill="#5fd2ee"/><circle cx="100.8" cy="114.4" r="2.55" fill="#5fd2ee"/><circle cx="106.5" cy="115.2" r="2.55" fill="#5fd2ee"/><circle cx="112.2" cy="113.0" r="2.55" fill="#5fd2ee"/><circle cx="117.9" cy="114.4" r="2.55" fill="#5fd2ee"/><circle cx="123.6" cy="110.8" r="2.55" fill="#5fd2ee"/><circle cx="129.3" cy="110.8" r="2.55" fill="#5fd2ee"/><circle cx="135.0" cy="110.8" r="2.55" fill="#5fd2ee"/><circle cx="146.4" cy="110.6" r="2.55" fill="#5fd2ee"/><circle cx="157.8" cy="106.4" r="2.55" fill="#5fd2ee"/><circle cx="169.3" cy="105.3" r="2.55" fill="#5fd2ee"/><circle cx="177.8" cy="105.3" r="2.55" fill="#5fd2ee"/><circle cx="186.4" cy="104.2" r="2.55" fill="#5fd2ee"/><circle cx="195.0" cy="104.2" r="2.55" fill="#5fd2ee"/><circle cx="200.7" cy="103.7" r="2.55" fill="#5fd2ee"/><circle cx="206.4" cy="104.2" r="2.55" fill="#5fd2ee"/><circle cx="212.1" cy="104.2" r="2.55" fill="#5fd2ee"/><circle cx="217.8" cy="103.4" r="2.55" fill="#5fd2ee"/><circle cx="57.9" cy="115.2" r="2.55" fill="#55b838"/><circle cx="63.6" cy="111.9" r="2.55" fill="#55b838"/><circle cx="72.2" cy="103.7" r="2.55" fill="#55b838"/><circle cx="77.9" cy="102.2" r="2.55" fill="#55b838"/><circle cx="83.6" cy="103.0" r="2.55" fill="#55b838"/><circle cx="89.3" cy="97.9" r="2.55" fill="#55b838"/><circle cx="95.0" cy="100.9" r="2.55" fill="#55b838"/><circle cx="100.8" cy="99.0" r="2.55" fill="#55b838"/><circle cx="106.5" cy="101.2" r="2.55" fill="#55b838"/><circle cx="112.2" cy="98.6" r="2.55" fill="#55b838"/><circle cx="117.9" cy="99.6" r="2.55" fill="#55b838"/><circle cx="123.6" cy="96.8" r="2.55" fill="#55b838"/><circle cx="129.3" cy="97.9" r="2.55" fill="#55b838"/><circle cx="135.0" cy="97.3" r="2.55" fill="#55b838"/><circle cx="146.4" cy="96.5" r="2.55" fill="#55b838"/><circle cx="157.8" cy="96.5" r="2.55" fill="#55b838"/><circle cx="169.3" cy="93.0" r="2.55" fill="#55b838"/><circle cx="177.8" cy="91.3" r="2.55" fill="#55b838"/><circle cx="186.4" cy="90.1" r="2.55" fill="#55b838"/><circle cx="195.0" cy="85.6" r="2.55" fill="#55b838"/><circle cx="200.7" cy="84.5" r="2.55" fill="#55b838"/><circle cx="206.4" cy="81.3" r="2.55" fill="#55b838"/><circle cx="212.1" cy="76.5" r="2.55" fill="#55b838"/><circle cx="217.8" cy="72.5" r="2.55" fill="#55b838"/><circle cx="57.9" cy="94.6" r="2.55" fill="#f2e41a"/><circle cx="63.6" cy="92.6" r="2.55" fill="#f2e41a"/><circle cx="72.2" cy="88.6" r="2.55" fill="#f2e41a"/><circle cx="77.9" cy="87.2" r="2.55" fill="#f2e41a"/><circle cx="83.6" cy="84.3" r="2.55" fill="#f2e41a"/><circle cx="89.3" cy="84.3" r="2.55" fill="#f2e41a"/><circle cx="95.0" cy="83.0" r="2.55" fill="#f2e41a"/><circle cx="100.8" cy="80.6" r="2.55" fill="#f2e41a"/><circle cx="106.5" cy="80.6" r="2.55" fill="#f2e41a"/><circle cx="112.2" cy="78.2" r="2.55" fill="#f2e41a"/><circle cx="117.9" cy="79.2" r="2.55" fill="#f2e41a"/><circle cx="123.6" cy="77.3" r="2.55" fill="#f2e41a"/><circle cx="129.3" cy="81.5" r="2.55" fill="#f2e41a"/><circle cx="135.0" cy="80.3" r="2.55" fill="#f2e41a"/><circle cx="146.4" cy="76.1" r="2.55" fill="#f2e41a"/><circle cx="157.8" cy="73.9" r="2.55" fill="#f2e41a"/><circle cx="169.3" cy="75.8" r="2.55" fill="#f2e41a"/><circle cx="177.8" cy="75.8" r="2.55" fill="#f2e41a"/><circle cx="186.4" cy="73.4" r="2.55" fill="#f2e41a"/><circle cx="195.0" cy="71.0" r="2.55" fill="#f2e41a"/><circle cx="200.7" cy="71.8" r="2.55" fill="#f2e41a"/><circle cx="206.4" cy="71.8" r="2.55" fill="#f2e41a"/><circle cx="212.1" cy="71.0" r="2.55" fill="#f2e41a"/><circle cx="217.8" cy="69.7" r="2.55" fill="#f2e41a"/><circle cx="57.9" cy="84.9" r="2.55" fill="#e52420"/><circle cx="63.6" cy="82.2" r="2.55" fill="#e52420"/><circle cx="72.2" cy="77.3" r="2.55" fill="#e52420"/><circle cx="77.9" cy="75.9" r="2.55" fill="#e52420"/><circle cx="83.6" cy="74.0" r="2.55" fill="#e52420"/><circle cx="89.3" cy="72.2" r="2.55" fill="#e52420"/><circle cx="95.0" cy="71.9" r="2.55" fill="#e52420"/><circle cx="100.8" cy="68.0" r="2.55" fill="#e52420"/><circle cx="106.5" cy="68.3" r="2.55" fill="#e52420"/><circle cx="112.2" cy="66.6" r="2.55" fill="#e52420"/><circle cx="117.9" cy="66.6" r="2.55" fill="#e52420"/><circle cx="123.6" cy="63.9" r="2.55" fill="#e52420"/><circle cx="129.3" cy="64.2" r="2.55" fill="#e52420"/><circle cx="135.0" cy="63.3" r="2.55" fill="#e52420"/><circle cx="146.4" cy="60.3" r="2.55" fill="#e52420"/><circle cx="157.8" cy="61.4" r="2.55" fill="#e52420"/><circle cx="169.3" cy="60.6" r="2.55" fill="#e52420"/><circle cx="177.8" cy="60.1" r="2.55" fill="#e52420"/><circle cx="186.4" cy="59.5" r="2.55" fill="#e52420"/><circle cx="195.0" cy="60.1" r="2.55" fill="#e52420"/><circle cx="200.7" cy="58.7" r="2.55" fill="#e52420"/><circle cx="206.4" cy="59.0" r="2.55" fill="#e52420"/><circle cx="212.1" cy="58.7" r="2.55" fill="#e52420"/><circle cx="217.8" cy="57.4" r="2.55" fill="#e52420"/></g><path d="M303.2 179.0H523.2V19.8" fill="none" stroke="#a8a8a8" stroke-width="1.2"/><text x="523.2" y="187.0" text-anchor="middle" class="tl">0</text><text x="495.7" y="187.0" text-anchor="middle" class="tl">10</text><text x="468.2" y="187.0" text-anchor="middle" class="tl">20</text><text x="440.7" y="187.0" text-anchor="middle" class="tl">30</text><text x="413.2" y="187.0" text-anchor="middle" class="tl">40</text><text x="385.7" y="187.0" text-anchor="middle" class="tl">50</text><text x="358.2" y="187.0" text-anchor="middle" class="tl">60</text><text x="330.7" y="187.0" text-anchor="middle" class="tl">70</text><text x="303.2" y="187.0" text-anchor="middle" class="tl">80</text><text x="525.6" y="21.8" class="tl">-30</text><text x="525.6" y="48.3" class="tl">-40</text><text x="525.6" y="74.8" class="tl">-50</text><text x="525.6" y="101.4" class="tl">-60</text><text x="525.6" y="127.9" class="tl">-70</text><text x="525.6" y="154.5" class="tl">-80</text><text x="525.6" y="181.0" class="tl">-90</text><path d="M523.2 179.0v-1.6 M495.7 179.0v-1.6 M468.2 179.0v-1.6 M440.7 179.0v-1.6 M413.2 179.0v-1.6 M385.7 179.0v-1.6 M358.2 179.0v-1.6 M330.7 179.0v-1.6 M303.2 179.0v-1.6 M523.2 19.8h-1.6 M523.2 46.3h-1.6 M523.2 72.8h-1.6 M523.2 99.4h-1.6 M523.2 125.9h-1.6 M523.2 152.5h-1.6 M523.2 179.0h-1.6" stroke="#a8a8a8" stroke-width="0.8"/><text x="413.2" y="194.8" text-anchor="middle" class="al" textLength="66" lengthAdjust="spacingAndGlyphs">incidence angle (degrees)</text><text transform="translate(541.9,101.1) rotate(-90)" text-anchor="middle" class="al" style="font-size:6.6px" textLength="16.6" lengthAdjust="spacingAndGlyphs">BS (dB)</text><defs><marker id="mb1" markerUnits="userSpaceOnUse" markerWidth="6" markerHeight="6" refX="3" refY="3" overflow="visible"><circle cx="3" cy="3" r="1.6" fill="none" stroke="#4656b4" stroke-width="0.55"/></marker><marker id="mb2" markerUnits="userSpaceOnUse" markerWidth="6" markerHeight="6" refX="3" refY="3" overflow="visible"><circle cx="3" cy="3" r="1.4" fill="none" stroke="#78cfe4" stroke-width="0.55"/></marker><marker id="mb3" markerUnits="userSpaceOnUse" markerWidth="6" markerHeight="6" refX="3" refY="3" overflow="visible"><circle cx="3" cy="3" r="1.4" fill="none" stroke="#6cbe3e" stroke-width="0.55"/></marker><marker id="mb4" markerUnits="userSpaceOnUse" markerWidth="6" markerHeight="6" refX="3" refY="3" overflow="visible"><circle cx="3" cy="3" r="1.4" fill="none" stroke="#f2e200" stroke-width="0.55"/></marker><marker id="mb5" markerUnits="userSpaceOnUse" markerWidth="6" markerHeight="6" refX="3" refY="3" overflow="visible"><circle cx="3" cy="3" r="1.4" fill="none" stroke="#ea2a30" stroke-width="0.55"/></marker><filter id="bl" x="-5%" y="-5%" width="110%" height="110%"><feGaussianBlur stdDeviation="0.35"/></filter></defs><g filter="url(#bl)"><polyline fill="none" stroke="none" marker-start="url(#mb1)" marker-mid="url(#mb1)" marker-end="url(#mb1)" points="432.0,118.3 485.3,120.8 401.6,133.4 432.9,122.0 368.8,138.6 363.5,138.6 481.7,128.5 365.1,133.7 350.4,140.8 403.1,131.0 510.4,97.1 486.3,116.7 370.3,126.3 357.6,141.5 502.3,107.9 458.8,120.3 518.4,118.3 352.2,142.6 436.6,123.0 451.2,126.0 476.9,112.2 464.7,122.3 411.1,127.5 371.0,138.7 375.7,139.8 418.7,122.7 323.9,155.0 481.1,118.8 503.3,113.1 470.5,119.7 353.7,142.8 488.0,113.1 433.4,119.7 351.7,145.5 507.2,109.7 473.8,118.3 506.8,110.9 396.2,121.8 341.6,143.0 401.9,120.0 472.0,121.2 328.1,156.4 442.2,122.3 467.0,124.4 466.7,117.4 450.4,123.9 455.0,118.1 435.2,114.8 327.5,156.7 345.6,141.0 432.8,115.6 364.5,136.5 362.1,137.0 453.0,119.3 393.6,134.0 358.7,136.8 352.6,143.2 452.3,119.4 355.9,130.4 448.6,116.5 453.2,115.1 469.8,113.5 378.6,133.1 350.1,140.8 440.1,106.2 411.1,124.1 447.6,118.1 403.7,123.7 513.9,109.0 442.1,121.8 385.2,132.3 368.8,141.0 465.1,129.6 385.9,134.4 464.0,120.9 424.8,118.1 419.9,127.5 328.3,146.9 350.9,138.3 497.8,105.7 345.8,144.0 486.5,116.2 433.2,122.3 437.5,125.0 347.1,145.5 451.5,121.1 468.9,115.1 331.1,149.0 431.1,124.0 442.5,117.1 422.6,128.6 428.3,129.8 484.5,107.0 452.6,122.3 432.7,120.7 500.5,106.8 355.4,133.2 448.3,122.0 468.4,123.2 498.8,100.7 376.4,135.0 379.9,148.2 387.9,124.9 383.9,132.5 452.7,115.7 334.2,155.5 397.3,124.9 451.7,127.2 450.4,114.6 446.1,120.6 426.2,126.4 461.6,125.1 413.3,124.7 370.9,145.7 425.3,127.2 401.5,138.9 396.1,127.8 421.1,115.4 444.2,111.9 385.1,137.1 461.6,121.1 311.8,156.0 491.0,120.5 484.9,100.6 382.4,139.2 423.9,131.5 516.6,102.5 436.2,117.0 440.8,124.6 500.8,117.3 375.4,140.6 459.9,114.9 503.6,126.7 464.2,110.4 475.8,111.0 454.1,122.6 351.4,144.6 314.1,163.6 341.3,146.5 464.4,114.4 354.3,146.2 449.1,120.8 361.4,140.0 386.4,126.2 410.8,131.2 485.6,128.3 456.9,115.1 411.5,121.9 394.0,130.0 457.3,119.0 420.0,119.8 438.2,127.5 427.7,111.8 385.3,130.8 343.9,148.7 380.7,134.9 327.8,151.5 382.7,148.1 403.8,134.9 482.6,116.6 466.2,121.3 475.4,109.9 345.5,151.2 366.0,136.1 396.6,127.0 434.4,119.9 346.5,134.8 401.0,126.5 415.5,128.9 401.4,119.8 416.1,132.4 501.9,97.4 445.7,116.0 432.6,121.4 339.8,142.6 433.1,116.5 455.6,116.5 469.1,109.4 432.0,125.5 431.0,115.3 314.5,153.5 444.2,133.7 454.4,103.3 463.2,130.2 329.1,147.4 431.3,117.5 350.5,141.2 413.6,121.6 453.1,119.5 405.3,127.5 490.0,124.2 428.6,113.5 474.3,126.1 424.6,109.0 414.7,133.5 425.1,122.3 463.4,124.7 432.8,119.8 372.1,140.6 475.5,115.4 500.9,117.1 359.4,136.9 418.3,126.4 449.4,119.3 493.1,115.4 345.9,151.6 405.1,133.7 511.0,110.7 338.2,144.4 415.3,122.4 506.0,104.2 347.9,150.4 453.3,111.4 487.5,112.1 505.5,117.5 492.7,106.0 452.8,112.1 348.4,142.8 355.5,143.0 458.3,109.5 478.9,111.8 403.1,134.2 447.1,125.0 461.5,107.4 366.2,140.4 320.9,157.3 427.2,123.3 383.9,137.8 364.3,133.3 337.8,143.6 342.7,145.6 417.4,116.9 493.2,109.3 395.9,139.0 311.7,160.5 454.7,108.7 487.7,112.8 503.8,117.2 400.3,125.3 430.5,118.7 355.7,139.2 453.4,123.9 375.0,133.6 406.1,135.0 427.7,120.7 397.7,138.7 458.8,114.7 407.9,133.4 450.2,110.7 457.1,112.9 504.9,107.2 408.7,132.5 424.8,116.1 477.0,118.7 349.2,144.8 363.8,143.6 363.2,142.8 369.0,149.2 410.6,120.1 320.3,155.2 413.7,119.1 313.1,155.4 381.5,133.1 354.8,140.2 380.6,131.6 466.3,117.3 329.0,156.1 422.1,117.3 399.5,136.5 478.2,120.1 431.2,125.6 420.8,117.0 473.8,125.7 372.3,133.9 401.8,133.3 312.6,157.8 358.2,150.4 505.3,120.1 321.4,158.1 396.9,130.3 426.4,130.0 363.3,138.5 461.5,127.0 433.0,124.7 397.4,129.8 424.8,126.6 391.2,136.9 466.5,117.5 353.1,148.0 388.4,136.5 354.3,143.5 458.9,120.2 361.9,144.4 372.5,137.2 443.1,125.7 334.5,145.2 436.4,123.7 452.7,128.4 456.2,124.3 409.2,124.6 427.0,122.3 368.2,148.3 374.8,137.3 385.9,128.2 363.9,140.0 354.0,144.9 311.1,157.0 459.4,120.1 499.2,112.3 420.8,116.8 518.0,118.8 390.5,137.4 333.3,151.6 426.9,129.8 409.0,128.2 439.9,131.7 394.6,137.0 343.1,152.8 501.7,113.3 330.2,146.6 331.0,145.1 340.1,145.0 330.3,151.6 381.8,135.9 414.9,134.9 490.9,129.4 412.0,117.3 407.8,134.4 434.3,113.7 473.7,114.3 370.9,142.8 339.9,137.2 371.6,140.0 449.7,121.0 356.0,139.2 447.6,124.3 510.0,110.5 349.2,150.7 390.1,138.0 464.6,129.2 452.5,112.8 422.0,117.5 431.8,122.4 429.2,120.9 317.5,157.2 463.0,119.4 471.0,122.0 370.1,135.3 470.0,114.1 369.2,132.1 358.7,139.9 386.6,136.0 400.6,124.9 473.5,117.4 419.7,115.3 465.5,125.3 462.0,119.9 349.9,144.9 414.5,119.5 480.0,120.2 418.3,124.9 454.3,116.5 409.5,122.1 461.1,113.5 475.0,119.3 440.1,125.3 411.1,139.4 397.3,128.5 501.7,121.4 373.9,134.3 459.7,113.9 326.1,160.8 327.7,147.5 453.1,124.2 375.6,140.9 382.3,129.1 511.8,121.6 390.6,133.0 517.8,115.1 374.4,133.1 382.2,135.3 413.7,122.0 481.6,108.6 435.7,115.6 412.0,130.7 447.5,123.8 373.7,132.1 332.5,153.6 328.0,149.7 342.4,148.2 322.9,158.6 416.8,125.7 348.0,146.7 473.3,129.6 444.5,118.0 445.3,127.8 329.4,151.2 374.9,129.2 468.4,115.4 474.6,117.9 428.3,130.3 392.6,127.1 395.4,134.2 392.7,143.0 363.4,135.8 472.5,123.2 313.0,152.2 481.1,115.9 402.7,135.3 447.3,127.9 397.0,131.5 383.1,138.0 424.4,114.9 489.4,110.0 392.0,126.0 442.4,126.9 330.0,149.1 479.3,116.1 390.9,132.3 438.2,129.2 348.1,142.9 389.7,136.2 487.3,119.9 474.8,114.0 431.7,117.5 337.9,139.4 461.5,127.8 378.1,139.5 397.0,123.1 501.1,115.9 386.6,133.8 380.6,131.0 428.9,125.3 440.1,110.8 348.5,137.8 479.9,116.2 435.4,125.2 444.3,115.2 377.8,132.4 455.6,115.5 431.4,110.8 440.0,125.2 465.6,114.3 449.3,127.7 442.9,118.5 398.0,126.6 344.2,134.2 427.0,129.9 394.2,129.5 357.0,131.9 482.8,106.0 455.4,120.8 487.4,109.3 395.7,123.2 408.6,136.3 339.2,151.3 511.1,110.6 487.8,102.4 405.0,135.4 414.2,128.5 426.8,120.6 360.5,140.0 514.8,123.6 436.7,117.3 382.5,135.5 443.2,120.3 372.5,133.3 469.9,112.4 485.0,119.7 409.2,120.1 465.2,113.3 432.0,118.5 453.6,115.0 386.1,132.7 447.2,117.4 315.5,158.9 436.5,115.2 433.8,110.3 372.3,133.5 508.2,108.7 424.2,127.6 371.3,147.2 403.7,132.6 362.7,132.7 341.2,130.7 474.9,108.2 373.8,132.4 399.9,124.8 348.4,145.0 311.6,158.3 394.6,130.5 467.0,126.5 385.3,134.3 387.6,134.3 430.0,119.8 460.9,122.3 449.0,124.2 417.3,112.5 436.7,115.2 443.6,121.4 394.1,134.5 355.8,135.2 407.2,125.8 419.0,121.4 315.9,158.5 370.0,138.3 364.6,134.9 467.0,117.2 389.7,128.2 411.6,124.2 391.0,130.9 467.4,117.6 341.7,141.9 364.8,145.3 514.9,110.3 471.6,122.7 475.9,125.8 356.3,140.1 455.7,114.0 385.3,140.2 428.3,123.2 389.0,133.9 432.9,113.6 444.8,128.6 412.0,121.4 366.7,143.5 453.0,113.1 447.9,117.3 389.2,134.1 456.5,124.5 452.5,113.5 460.2,131.2 441.4,120.2 427.7,128.1 476.9,107.5 402.5,137.5 439.7,118.1 482.8,126.9 403.8,126.7 480.5,118.4 461.1,127.7 354.9,156.0 448.1,122.6 415.4,127.0 426.0,117.1 502.1,102.3 385.6,136.2 348.4,136.6 311.7,158.4 387.1,128.4 365.3,133.0 372.3,137.6 333.8,153.5 473.3,114.3 430.2,122.2 486.1,110.8 340.6,140.3 440.0,109.4 479.5,119.6 469.6,112.7 437.2,119.9 419.4,134.3 411.2,126.0 447.4,119.9 391.4,125.3 461.0,119.3 422.6,119.5 408.6,125.3 415.5,119.7 454.1,117.1 484.1,124.4 418.7,129.0 445.5,122.5 371.8,143.2 446.1,118.8 375.3,139.0 334.6,147.7 476.5,110.8 421.3,122.3 421.5,123.5 407.4,140.5 368.1,134.7 387.2,142.2 430.2,122.3 329.2,153.9 383.8,126.6 466.7,108.8 429.3,115.6 505.0,114.8 466.9,125.9 408.1,127.6 429.0,122.5 427.7,116.2 456.0,114.3 429.4,132.5 404.1,130.5 489.2,108.1 383.0,127.8 404.0,124.7 399.3,120.0 434.7,120.4 357.3,147.9 424.4,125.1 355.8,132.6 436.9,120.8 437.9,115.9 319.1,164.4 482.9,118.6 417.2,119.3 477.9,117.3 450.5,115.5 389.9,134.5 399.2,136.5 443.9,115.6 399.7,143.5 385.0,135.0 456.2,117.9 404.2,121.2 508.7,116.8 320.6,153.0 492.8,125.2 435.2,115.0 418.7,128.1 472.6,115.1 471.8,116.4 381.7,131.2 466.0,116.7 415.2,129.5 467.5,114.6 378.6,127.1 408.6,126.3 432.8,117.0 384.0,129.1 430.5,132.7 362.6,139.1 465.7,106.3 440.7,125.5 345.8,144.8 338.4,146.6 441.5,122.5 432.8,129.0 367.7,131.9 397.3,135.1 424.6,125.4 405.3,129.1 465.3,119.6 418.3,131.6 395.7,139.7 488.4,122.1 380.6,130.7 321.5,152.2 476.8,112.7 491.1,122.0 449.6,123.4 500.1,101.5 475.1,97.9 441.9,122.9 424.1,122.4 442.7,118.4 391.2,130.2 511.1,96.8 392.7,123.9 331.8,144.9 375.3,134.7 373.2,136.7 489.0,123.4 515.7,95.8 474.8,118.1 335.3,149.5 442.1,122.2 496.8,131.4 434.6,119.7 395.0,135.0 475.8,124.5 437.0,118.0 403.1,125.5 505.5,113.6 434.4,115.6 500.0,103.6 343.1,142.3 485.2,101.6 516.4,119.1 488.2,124.3 459.7,118.8 440.6,123.6 313.6,157.9 388.4,140.4 483.6,116.1 447.3,113.6 383.6,121.7 344.0,138.6 356.8,134.0 412.4,124.5 433.2,117.1 484.3,114.2 330.6,153.1 412.6,132.6 431.7,126.0 465.5,116.2 517.1,119.4"/><polyline fill="none" stroke="none" marker-start="url(#mb2)" marker-mid="url(#mb2)" marker-end="url(#mb2)" points="483.0,102.6 339.8,131.7 515.6,99.2 390.5,115.9 461.4,114.4 513.9,94.1 479.1,97.4 377.6,119.3 388.7,121.6 471.2,99.5 316.3,144.3 442.8,100.8 354.0,131.9 352.7,125.5 377.3,121.2 499.0,99.7 471.6,96.1 478.1,99.1 333.1,142.0 444.3,108.0 335.8,122.6 512.0,98.7 483.4,100.8 421.4,111.8 405.1,123.9 466.0,96.5 444.7,103.4 512.8,83.9 406.7,115.5 517.6,89.1 501.6,92.3 456.6,111.1 381.2,115.1 339.4,129.0 514.7,77.3 480.5,99.1 456.6,100.7 311.5,152.3 469.4,102.0 358.8,133.1 443.3,107.2 318.6,155.0 396.6,116.3 349.5,128.8 455.2,107.6 335.0,145.8 475.6,101.0 477.7,100.8 477.4,105.9 519.0,94.1 362.7,121.6 384.7,112.6 385.7,122.4 367.1,122.9 372.3,124.4 330.7,142.6 377.3,126.7 369.8,120.6 435.7,103.5 512.3,83.2 401.7,119.3 311.2,155.4 409.8,112.4 317.6,143.0 474.7,105.5 317.4,160.9 379.6,123.6 329.5,137.5 418.3,108.5 461.9,107.8 315.9,141.0 310.9,145.8 393.6,113.3 467.6,103.9 487.4,95.2 346.3,116.3 405.0,122.0 442.4,111.0 467.9,98.0 339.8,126.8 317.2,151.6 396.6,115.4 449.4,104.5 438.5,108.2 502.3,86.7 364.8,122.4 508.5,89.9 460.9,107.3 389.1,118.5 485.8,87.7 418.1,115.6 331.2,138.1 422.8,112.2 361.8,125.9 479.6,102.9 504.7,94.0 390.4,113.8 419.7,105.3 390.2,125.7 336.6,138.1 504.3,79.1 377.1,126.6 351.0,127.3 473.5,105.9 376.8,124.7 498.2,97.4 466.1,100.3 466.8,97.9 428.9,118.5 495.9,98.2 407.0,114.1 515.0,87.9 400.4,118.0 356.7,115.0 397.4,117.7 434.2,106.1 391.0,115.5 394.8,115.7 330.1,135.1 356.7,132.5 466.6,102.8 342.6,123.2 437.2,107.1 473.2,97.9 336.2,131.4 348.7,133.0 508.4,86.5 476.3,102.2 473.1,107.7 496.0,92.2 465.0,97.8 324.0,137.8 369.3,121.1 371.6,122.5 468.0,107.8 488.0,88.3 453.1,111.0 423.4,115.0 435.9,102.8 511.1,99.4 492.5,81.5 447.2,107.6 418.5,108.2 513.0,85.8 418.0,113.8 512.0,93.0 411.6,115.4 382.8,122.4 425.6,108.3 515.3,88.3 320.6,142.9 364.5,125.5 504.9,99.6 355.2,129.8 344.4,127.9 506.1,95.4 480.7,97.8 456.9,109.7 349.8,130.0 466.9,98.6 449.2,106.8 489.7,88.5 342.4,122.7 451.8,105.7 505.0,87.0 451.8,109.4 399.0,111.3 450.4,107.2 341.6,123.6 446.1,110.7 397.9,116.8 312.1,145.7 385.9,119.3 321.4,146.2 510.9,70.0 451.9,106.3 404.4,116.6 459.8,108.4 350.0,129.0 357.9,127.5 438.8,106.7 441.0,105.7 433.3,105.0 418.7,116.1 417.7,110.0 391.5,115.1 372.4,125.5 509.4,98.2 418.4,110.2 312.4,144.7 457.6,103.8 391.3,114.7 429.3,108.1 313.8,148.5 499.8,95.6 345.8,128.6 443.9,107.5 446.0,109.3 335.8,132.7 354.4,130.1 365.9,122.5 362.2,123.9 327.0,129.9 329.0,143.5 346.4,128.1 484.7,91.9 428.1,109.2 328.0,144.2 398.3,111.8 401.5,115.3 451.4,102.9 319.3,141.6 422.3,108.2 390.9,116.9 386.0,121.8 311.3,144.6 491.2,97.4 362.8,124.0 362.5,123.2 428.5,117.2 437.3,103.7 335.7,133.1 367.7,122.6 503.9,105.4 479.0,101.1 365.6,130.2 416.0,106.7 329.8,141.8 368.4,122.2 479.3,98.4 323.4,138.1 348.4,117.5 471.1,101.6 506.3,90.3 434.4,97.3 416.0,110.2 498.3,99.9 391.2,118.8 351.7,122.8 512.4,91.5 314.5,145.8 459.5,107.9 420.4,111.8 321.9,136.9 407.6,119.1 431.0,109.1 441.5,109.0 412.2,107.7 456.5,106.8 317.0,142.4 430.8,104.4 463.1,102.8 515.3,89.8 470.1,108.3 393.3,117.3 431.6,99.6 505.3,88.1 340.0,131.9 449.9,107.0 380.8,122.3 340.7,128.9 408.1,108.8 478.0,99.0 410.7,116.4 421.8,113.2 391.9,108.5 473.3,92.6 427.9,104.9 312.3,154.3 458.1,107.1 372.3,120.1 359.8,132.2 480.6,97.9 322.2,135.6 446.5,113.0 498.5,92.2 332.6,143.1 328.3,138.6 313.0,147.1 404.1,120.4 361.5,117.9 502.1,99.7 310.2,152.4 349.9,127.8 478.9,91.7 513.4,104.8 470.4,108.5 493.9,107.0 318.3,139.9 331.0,134.4 446.3,121.1 345.2,130.5 431.9,108.3 440.3,111.5 515.4,96.0 448.7,110.8 506.8,90.9 414.4,114.8 459.9,103.4 487.9,90.9 337.7,137.6 393.3,119.0 412.9,111.3 357.9,127.3 414.9,107.6 434.5,107.0 345.9,129.2 434.8,105.1 386.0,112.6 435.7,102.8 371.9,124.6 361.3,123.7 321.9,144.4 375.4,114.6 485.5,99.5 345.9,124.2 327.5,133.9 388.9,121.8 331.4,134.4 319.0,146.9 381.1,130.0 347.9,138.6 380.4,115.6 349.8,126.3 376.5,118.4 318.6,141.5 380.5,120.2 427.2,115.2 331.1,140.7 393.9,115.5 386.5,114.7 505.3,100.6 371.9,119.9 446.7,107.6 468.3,100.6 396.3,119.6 382.2,121.4 508.9,83.1 333.9,131.0 418.6,110.1 376.5,121.3 412.3,114.1 310.8,145.5 342.9,141.7 466.9,107.0 330.1,145.3 312.6,135.1 356.9,128.9 335.8,125.3 515.0,83.2 508.4,77.4 470.7,101.6 487.9,96.5 443.4,114.9 387.4,113.7 508.4,94.0 420.4,105.9 482.6,103.2 518.7,99.1 474.1,101.0 439.9,111.5 488.8,104.3 436.8,112.0 394.5,113.0 355.2,119.8 450.7,100.0 405.1,108.6 335.3,142.4 382.6,118.1 343.1,128.6 450.0,104.5 481.1,87.4 512.7,91.3 471.7,106.9 377.8,114.6 340.9,131.1 497.1,88.3 347.9,121.3 320.6,136.6 424.4,110.0 451.7,101.1 327.2,138.0 457.3,109.3 453.2,107.0 462.6,101.1 331.8,134.1 446.7,110.7 464.0,107.4 352.0,129.4 415.9,107.4 440.7,104.4 434.7,112.1 477.3,100.9 401.0,113.8 401.9,108.5 347.5,129.2 414.5,109.7 454.1,114.4 415.0,116.2 404.4,113.1 417.8,110.5 411.3,115.8 516.7,83.2 323.1,140.1 365.7,128.2 358.7,126.7 411.2,113.8 402.7,122.6 513.8,98.4 492.6,92.7 318.0,149.6 487.2,101.8 504.8,79.9 517.3,81.5 494.8,90.0 411.5,119.4 425.1,108.7 409.4,110.7 502.6,91.7 497.9,92.1 326.4,140.4 418.2,107.7 404.1,110.7 475.8,100.6 448.8,107.2 348.0,133.1 434.0,105.8 333.9,127.8 362.9,127.6 477.4,100.6 470.6,101.1 456.6,112.0 443.8,108.9 329.9,135.2 395.3,119.9 310.1,134.1 497.4,98.8 474.9,96.7 345.0,123.9 321.4,137.5 330.1,143.7 338.0,133.9 441.1,107.7 473.5,108.1 312.1,143.2 313.0,140.1 491.4,83.8 361.4,115.1 512.0,79.9 313.4,152.3 516.6,76.1 351.9,122.9 495.5,95.4 435.6,117.0 394.2,119.0 471.1,99.8 458.8,103.1 442.2,104.2 325.8,140.3 324.3,154.6 504.2,92.7 435.8,105.4 496.7,96.4 371.5,115.4 378.0,120.3 452.0,104.3 504.0,101.1 454.6,106.7 426.5,117.4 464.5,107.6 356.6,124.7 316.5,140.3 518.1,70.9 451.4,103.0 329.6,141.8 393.7,115.3 340.8,133.7 363.7,131.3 344.1,127.1 416.9,116.6 326.7,138.0 415.4,109.1 325.7,136.3 417.9,109.8 471.5,104.0 427.5,110.5 403.1,114.4 394.3,121.8 446.6,107.0 330.0,142.7 425.6,111.7 317.0,153.1 376.9,112.1 417.0,111.1 383.2,114.6 342.1,129.7 359.3,125.5 513.4,97.9 454.2,114.1 335.3,123.5"/><polyline fill="none" stroke="none" marker-start="url(#mb3)" marker-mid="url(#mb3)" marker-end="url(#mb3)" points="400.8,103.1 346.1,110.8 330.3,120.7 365.8,101.6 401.5,100.3 377.4,101.3 360.9,102.2 384.5,106.8 314.3,134.1 338.8,120.9 442.4,95.0 384.4,103.5 453.0,91.4 326.5,125.1 416.1,93.0 336.4,118.8 327.6,120.4 403.5,103.1 437.5,90.2 358.0,115.1 359.9,108.0 438.2,94.6 335.7,127.5 325.9,133.9 391.4,103.6 324.0,134.3 324.9,123.6 334.5,121.6 506.8,78.2 342.7,116.8 472.8,92.6 324.8,120.2 321.9,130.8 454.7,95.6 364.8,105.5 376.0,105.1 324.1,133.4 317.9,124.2 330.7,115.7 454.7,90.8 445.6,95.8 415.2,88.2 314.1,138.9 400.0,101.3 349.6,115.1 432.6,92.1 376.2,99.9 311.3,133.8 376.5,104.4 430.9,85.2 320.0,130.2 347.2,111.9 399.3,100.2 354.0,107.9 413.8,94.3 383.5,104.4 334.9,122.0 325.7,128.7 485.1,87.9 364.8,103.4 332.9,126.4 380.3,100.8 437.1,96.3 499.0,81.6 327.7,130.9 371.4,102.1 457.2,102.8 441.6,96.4 328.9,131.0 467.2,94.0 390.2,99.7 369.2,108.8 336.4,121.7 444.3,96.7 376.6,105.1 355.5,114.0 374.9,104.9 350.1,110.4 458.1,98.9 318.2,133.5 329.6,129.2 332.3,117.4 384.9,99.4 313.1,136.6 367.1,104.5 334.8,125.3 326.4,125.3 320.9,134.1 499.4,84.0 459.3,93.4 340.7,119.6 345.4,117.9 374.2,104.8 329.0,128.6 374.8,108.0 352.7,109.0 323.4,130.5 443.1,92.9 431.7,100.6 360.5,112.3 422.7,91.1 348.3,116.0 321.3,140.7 378.2,103.6 319.5,134.3 489.1,88.1 429.3,92.9 484.7,90.3 506.5,85.1 329.8,132.8 433.1,98.2 471.9,96.4 391.5,97.5 417.4,98.2 335.6,112.7 381.6,111.7 466.2,98.5 393.1,95.3 377.4,101.7 486.5,94.1 457.3,96.3 370.3,108.4 364.2,104.6 338.5,120.0 362.2,100.8 326.9,127.9 365.6,111.3 337.0,124.9 325.1,130.9 356.6,112.0 428.9,98.9 382.0,101.7 329.6,117.8 333.3,129.2 323.5,131.0 317.3,134.5 324.8,133.5 429.7,95.4 349.6,122.9 320.9,134.2 419.4,99.1 418.2,102.9 351.9,107.4 381.3,99.9 317.2,127.6 372.6,104.0 428.5,94.8 425.7,96.5 415.5,101.2 462.6,99.0 332.3,122.6 429.6,96.1 334.7,122.6 334.7,125.7 326.2,135.2 315.1,132.2 498.1,83.3 332.4,127.7 342.2,113.2 346.3,110.8 357.9,110.7 428.0,97.5 360.3,108.8 335.4,128.2 313.3,133.4 413.0,97.6 331.1,123.5 337.4,117.3 435.0,91.6 330.0,121.3 425.3,96.0 377.2,110.0 363.2,106.0 398.2,103.0 406.3,98.2 311.2,134.1 346.7,112.7 315.7,139.6 342.6,113.4 331.0,128.5 368.8,104.5 335.1,127.8 319.6,123.6 343.3,119.8 435.3,94.7 344.8,114.9 427.6,98.1 325.1,128.4 467.3,101.6 319.8,133.9 346.3,118.6 421.3,96.5 460.0,97.6 368.3,104.0 377.8,98.5 383.7,107.3 424.2,96.7 370.8,105.8 420.8,91.9 417.5,96.7 428.4,96.5 316.2,132.4 487.9,78.4 441.2,93.0 429.0,97.7 320.9,133.9 354.8,111.9 363.7,105.3 389.6,106.9 317.0,131.4 312.1,139.1 416.9,103.3 326.9,131.4 431.5,88.6 337.3,120.1 382.5,98.0 318.2,136.8 390.7,99.9 343.6,113.7 354.0,110.7 326.7,129.5 450.1,93.2 354.2,115.8 448.1,100.0 451.0,94.9 406.2,96.9 326.9,131.9 382.6,101.4 363.1,106.8 318.7,129.5 443.7,98.3 323.9,128.2 368.2,103.0 331.2,124.2 330.5,130.7 436.0,94.3 363.8,102.6 315.8,132.7 496.7,84.8 452.1,93.1 419.9,98.9 336.1,120.6 457.1,93.0 322.0,123.1 331.9,119.6 417.4,104.1 324.8,124.3 434.5,102.2 381.2,101.5 433.7,95.3 416.8,95.1 431.0,100.1 461.4,88.8 459.6,95.3 344.2,113.2 351.2,110.0 386.7,105.5 331.4,131.4 342.1,118.6 468.7,92.0 329.7,129.0 367.8,105.8 315.3,133.7 390.3,104.5 369.8,102.8 335.5,127.7 333.2,123.8 330.3,114.9 453.1,94.2 326.5,127.6 327.5,135.7 366.7,108.3 383.5,101.9 428.5,93.8 424.2,96.0 392.6,98.9 481.7,92.0 341.8,116.8 481.5,86.8 428.0,92.9 450.8,91.3 336.3,130.5 418.3,97.2 349.9,112.3 336.8,118.7 448.4,93.8 482.0,92.8 501.3,85.8 441.5,90.6 338.0,122.5 386.2,99.7 463.2,106.1 385.9,105.4 364.2,105.7 423.9,96.6 440.8,96.8 373.8,100.9 329.5,122.6 501.1,86.7 370.7,99.4 384.3,101.8 318.9,125.9 347.5,106.0 319.1,129.8 348.9,119.6 332.1,130.2 318.1,130.8 322.0,128.6 419.2,95.4 483.0,95.6 442.7,96.4 460.8,93.1 377.4,97.5 443.7,95.0 372.9,104.3 425.7,102.1 319.6,129.0 323.2,129.4 393.1,107.5 385.6,101.7 496.9,86.9 399.4,101.1 466.3,105.0 432.9,96.2 379.2,101.7 369.5,103.9 340.5,116.9 351.7,104.2 320.0,137.8 329.9,121.2 405.0,103.2 388.5,104.1 319.4,133.3 358.1,112.2 332.7,126.1 508.2,74.6 511.0,69.1 415.6,96.9 356.5,105.7 393.3,94.8 335.0,126.6 414.6,99.7 441.3,98.0 459.7,94.3 326.0,127.1 447.4,94.1 427.5,91.4 362.8,109.9 354.8,109.8 327.6,125.7 335.2,124.5 417.4,95.8 322.4,134.8 327.4,125.5 345.8,125.6 405.0,101.3 350.5,115.1 435.3,96.2 461.3,100.6 337.1,125.0 464.0,92.8 333.8,121.8 399.8,99.4 345.9,114.9 391.5,99.4 364.5,111.2 349.1,109.2 463.9,98.1 347.3,117.3 342.4,118.5 371.1,103.8 327.3,128.5 426.9,94.7 432.4,93.5 400.8,97.1 358.5,115.0 422.2,97.6 347.9,120.8 324.2,128.0 363.7,106.8 393.8,105.8 318.8,135.7 455.2,94.8 452.4,91.0 321.4,130.6 358.3,105.5 394.9,100.7 334.7,127.2 351.7,111.4 456.1,95.1 323.8,116.5 351.5,109.2 409.2,99.4 336.5,123.8 358.8,110.4 486.5,86.8 338.9,120.1 481.1,82.3 350.2,107.0 437.8,93.0 335.3,120.0 352.2,117.6 395.0,108.8 512.3,70.2 452.9,99.1 321.6,126.7 329.1,130.1 390.6,102.1 365.0,105.9 390.7,98.0 507.7,85.5 483.9,91.4 311.2,139.5 507.4,76.3 338.0,120.4 371.7,98.5 374.0,108.4 336.6,129.9 328.5,127.9 412.7,98.9 397.6,103.4 408.8,97.9 380.8,104.1 355.0,110.7 349.9,110.1 342.4,113.1 341.8,123.5 413.8,97.0 329.5,128.9 431.8,91.1 387.4,106.9 430.4,95.1 446.0,91.5 333.3,119.2 481.2,93.6 380.0,105.6 327.1,130.2 477.9,90.7 416.6,96.8 434.7,95.2 365.0,105.3 443.8,95.0 402.5,103.3 485.2,85.3 352.9,112.5 428.2,94.3 368.3,105.7 436.5,98.5 344.3,124.7 404.2,98.2 319.2,132.8 364.4,111.7 329.9,129.7 463.3,95.0 415.7,97.5 318.7,130.3 379.8,97.0 346.8,110.2 446.8,89.7 434.7,95.8 425.0,98.6 426.3,95.9 507.7,90.6 399.1,100.2 342.5,115.2 451.6,98.5 421.0,101.4 319.8,128.6 490.2,99.4 315.3,130.8 438.3,95.8 364.4,107.0 448.5,95.1 410.4,110.7 382.8,107.5 388.5,100.0 385.2,102.0 410.8,96.8 372.7,97.8 320.8,122.3 333.1,123.4 382.7,99.4 383.7,99.0 346.0,116.3 431.6,95.2 334.6,122.7 410.4,105.6 325.5,127.7 391.7,102.4 344.2,117.2 440.0,97.6 409.3,92.2 316.1,130.3 334.2,124.1 454.8,98.4 480.0,87.0 509.9,82.3 368.9,104.9 352.4,107.7 342.7,115.2 375.6,108.5 437.7,92.8 332.9,121.8 474.0,96.7 377.6,104.6 340.4,123.7 392.1,101.6 441.5,98.9 402.4,96.6 422.9,97.6 333.3,119.0 389.2,96.8 334.7,127.6 321.8,138.1 387.4,99.6 443.6,90.6 325.9,132.8 430.9,95.2 387.7,107.1 438.4,95.8 315.2,128.8 340.7,117.3 362.8,99.9 363.2,106.2 388.9,96.5 398.9,97.0 427.3,95.2 403.6,99.7 400.2,96.7 325.9,123.7 429.0,95.3 365.8,111.1 434.5,89.1 399.7,101.7 418.4,97.0 398.3,103.3 400.5,99.9 478.0,89.0 320.8,128.1 389.3,107.1 317.9,129.6 337.6,127.0 354.7,110.5 469.0,96.0 380.9,97.4 337.1,119.5 371.5,105.9 369.8,104.1 351.4,112.9 479.0,88.4 459.4,89.7 331.2,132.3 347.7,118.4 427.8,94.8 350.8,110.9 478.5,83.2 348.8,102.5 479.0,90.8 419.5,98.8 325.9,120.8 351.1,116.7 454.1,89.2 355.3,108.9 326.2,127.8 410.6,94.7 329.1,125.0 406.7,94.7 329.5,129.3 312.6,138.3 352.9,112.6 403.4,94.0 367.4,106.0 391.1,101.9 337.5,126.1 374.4,107.2 341.5,120.7 337.3,125.5 412.9,97.9 331.4,128.3 389.1,101.8 433.1,92.6 428.9,97.1 321.1,129.5 320.4,127.7 359.2,112.9 331.0,116.3 439.5,98.3 328.9,127.2 337.2,128.1 371.6,102.8 330.4,127.5 332.5,132.1 408.2,103.4 484.1,94.0 319.9,133.9 458.2,98.9 451.3,92.5 335.3,122.7 372.4,102.7 344.0,116.1 427.3,89.0 420.1,93.0 390.7,99.7 378.9,107.1 329.7,123.4 326.7,128.0 375.4,100.2 353.4,105.0 437.2,95.9 311.9,138.2 314.6,135.5 410.2,103.3 379.5,100.4 342.5,113.3 328.7,127.6 426.8,96.4 403.0,103.1 369.5,103.2 363.8,112.2 337.2,118.6 439.4,99.1 387.3,100.2 359.3,109.4 337.8,118.8 450.7,88.9 318.9,130.9 459.3,95.3 417.8,97.1 493.9,93.0 372.2,105.8 431.6,95.5 321.1,138.3 428.6,94.1 454.7,100.6 382.7,98.0 321.7,132.1 342.4,120.7 408.8,99.1 329.7,125.1 390.7,101.6 382.8,93.9 359.0,108.8 348.2,124.1 337.0,115.9 486.8,86.3 335.5,126.6 403.4,101.0 393.6,100.8 324.3,129.6 381.6,102.7"/><polyline fill="none" stroke="none" marker-start="url(#mb4)" marker-mid="url(#mb4)" marker-end="url(#mb4)" points="430.5,68.9 459.8,70.0 327.7,109.9 326.8,107.8 500.4,75.6 502.3,73.9 457.2,77.5 498.6,72.8 510.8,74.1 314.4,127.9 328.3,117.0 459.7,81.1 450.1,74.9 440.9,73.3 514.6,49.8 320.7,113.3 491.7,69.5 511.3,57.3 323.0,119.7 494.8,71.5 400.4,83.5 451.1,79.7 442.7,79.9 317.0,121.0 453.9,79.8 481.9,61.8 469.6,78.6 514.3,68.7 444.6,80.2 426.7,82.2 463.3,71.5 472.6,74.1 475.3,73.6 442.8,80.0 401.3,77.1 319.6,121.1 504.6,61.9 472.3,75.2 311.3,122.4 484.8,80.3 457.6,74.4 346.4,105.9 514.5,60.7 430.2,74.4 414.2,77.4 427.0,78.2 481.1,75.3 505.7,78.2 507.5,56.6 481.7,65.6 484.7,68.3 469.0,75.2 431.8,76.3 482.6,70.3 321.0,115.2 399.2,79.9 499.6,63.2 328.4,107.1 490.6,71.2 503.3,70.0 364.4,96.1 453.3,77.4 414.8,73.8 424.8,72.2 447.4,78.3 314.4,119.5 494.1,75.0 329.2,113.2 341.3,107.1 502.6,68.7 325.2,115.3 484.9,79.0 470.3,72.9 515.5,59.0 464.8,79.1 475.8,78.0 345.3,100.9 516.1,84.9 437.5,78.1 413.4,72.2 438.7,73.1 510.2,75.7 409.1,75.9 312.9,120.5 458.1,73.0 513.9,64.9 312.5,130.4 484.1,74.9 405.6,81.5 428.1,76.2 429.6,74.7 332.3,111.1 491.4,69.7 481.9,69.9 345.1,105.5 479.5,72.8 332.8,116.1 388.1,80.5 483.7,77.7 512.0,62.6 441.6,72.1 325.3,112.6 498.8,69.3 518.5,65.3 463.9,75.7 459.0,75.3 403.8,75.0 448.8,75.8 472.5,68.9 457.2,71.5 479.9,68.4 445.7,76.9 331.5,118.7 482.3,77.7 500.1,73.0 460.7,74.1 489.2,64.8 435.1,79.6 393.8,86.2 353.4,91.7 455.6,72.7 423.4,78.1 365.5,93.8 443.4,79.8 313.3,130.2 450.8,78.7 468.4,74.4 497.1,62.7 502.6,79.4 410.7,76.0 506.9,56.3 514.0,80.9 455.7,79.2 343.8,108.3 338.8,111.4 514.1,66.1 423.6,78.2 344.9,104.0 317.5,119.8 449.4,75.1 334.7,111.4 491.4,69.7 518.5,72.6 349.7,98.5 423.3,78.1 426.9,79.2 430.6,76.3 498.8,68.8 487.7,73.9 429.7,72.1 451.8,76.5 452.1,76.0 482.5,71.8 451.6,72.9 363.7,89.0 400.5,85.4 406.8,83.2 491.0,66.6 459.4,72.0 513.6,72.7 419.6,79.6 500.9,73.4 323.7,116.5 383.1,83.9 354.9,104.6 488.1,80.3 454.6,71.3 502.7,69.4 426.4,72.7 488.8,77.7 338.3,114.3 502.4,73.0 504.9,62.5 423.1,71.0 513.9,61.6 422.4,73.1 469.8,73.7 396.5,78.1 475.4,75.4 507.7,69.5 448.3,80.3 509.3,71.2 488.7,70.9 512.4,65.6 341.3,112.1 435.9,74.4 479.3,67.8 485.0,69.7 431.1,71.3 491.4,68.2 454.4,76.6 450.2,74.2 456.0,76.0 453.1,71.5 417.5,72.1 480.1,66.2 345.8,100.0 443.4,71.8 471.7,66.7 510.6,61.0 450.9,75.9 320.2,123.0 408.0,82.6 348.3,94.9 331.5,111.2 361.6,92.7 321.8,117.0 435.4,79.5 493.8,66.6 440.2,79.0 498.9,71.4 448.4,72.9 426.4,74.5 312.7,121.6 484.8,69.0 312.6,122.1 485.8,67.1 484.3,71.1 481.9,71.6 468.4,74.2 397.4,83.7 516.1,66.4 510.7,69.2 449.0,75.2 431.5,75.8 451.5,76.0 339.1,99.8 327.2,119.9 409.2,77.8 420.6,73.9 315.8,124.1 388.2,87.7 396.9,81.6 480.6,68.0 422.9,78.3 517.4,62.2 315.2,126.6 489.1,71.0 345.9,110.1 316.9,120.3 455.1,77.9 485.6,74.5 358.2,96.7 473.8,78.0 432.3,78.9 453.0,70.4 388.9,85.3 439.8,76.9 494.5,80.0 473.5,73.9 316.9,125.0 324.2,119.2 510.2,59.3 419.2,70.4 360.9,95.9 514.1,69.7 423.3,77.0 450.9,71.4 516.5,60.0 317.6,115.1 482.4,69.2 322.3,116.4 456.2,70.8 487.7,74.0 469.2,76.0 505.6,67.8 447.0,79.3 411.4,78.5 432.7,76.8 428.0,77.4 513.3,59.0 475.2,73.0 502.1,50.3 330.6,115.3 373.3,87.8 361.2,92.8 433.8,81.0 463.3,73.4 492.3,75.0 387.5,88.1 463.8,76.3 480.9,66.1 445.8,64.1 410.1,76.0 514.1,65.9 507.6,55.0 518.5,89.7 432.9,68.7 503.1,73.5 338.7,105.3 501.7,82.8 448.2,74.7 380.6,89.5 313.7,121.0 410.6,73.3 490.6,69.0 445.6,77.4 404.5,71.6 326.5,110.8 493.3,69.3 494.9,76.9 470.4,80.2 515.5,76.9 482.6,73.8 505.5,62.3 515.4,77.2 461.0,69.8 416.3,73.6 436.7,73.8 329.6,116.2 379.0,85.0 318.3,121.3 423.4,81.7 445.6,67.7 479.0,74.9 455.0,82.3 381.6,86.8 491.0,62.1 476.1,74.0 479.8,75.3 339.5,109.8 419.8,76.4 442.1,74.8 484.0,68.3 442.9,73.3 310.1,125.9 498.0,73.2 324.8,113.6 502.3,66.5 484.7,68.8 460.6,79.1 498.2,78.7 334.9,113.7 454.1,71.4 314.0,125.4 474.0,70.0 439.8,74.7 331.7,113.2 353.1,96.7 426.4,83.4 496.7,65.6 515.2,60.7 471.5,80.1 488.4,69.1 487.5,75.5 447.0,72.6 501.3,68.0 315.8,122.8 485.3,78.7 497.9,65.8 420.0,75.5 419.3,77.8 457.3,85.0 388.1,85.8 507.5,86.3 474.9,81.5 330.0,114.1 400.8,72.3 335.4,111.9 510.8,72.0 484.3,69.2 508.7,64.4 514.7,64.8 330.3,116.8 452.1,75.7 483.3,66.7 429.4,76.3 415.1,74.8 457.1,71.4 481.2,68.5 501.6,68.1 512.2,59.4 322.8,114.8 366.6,89.6 476.7,72.3 485.5,76.0 477.1,71.9 454.3,71.4 327.7,109.7 489.7,71.9 480.1,74.5 491.6,67.3 486.6,68.0 453.1,75.2 341.2,112.5 332.1,114.7 334.2,109.8 504.1,68.6 345.6,105.0 445.6,79.2 312.0,118.6 435.2,77.5 410.4,83.3 503.0,62.0 479.8,69.0 419.6,80.5 330.7,110.3 403.9,68.7 342.6,106.7 317.8,125.8 441.2,68.6 441.9,72.3 435.8,73.5 480.0,71.5 467.4,76.9 441.0,80.2 499.5,70.1 342.6,104.1 501.7,69.6 504.3,65.7 332.3,113.8 435.7,80.3 509.5,58.7 327.8,120.7 480.4,70.2 432.5,76.1 506.2,67.8 504.3,59.1 429.4,75.5 494.5,68.1 435.7,77.7 465.8,82.4 506.6,62.4 463.1,78.5 443.5,75.4 516.3,62.0 467.8,70.7 343.6,98.8 508.6,76.6 471.7,79.1 493.4,70.5 336.7,108.3 423.3,81.3 449.1,79.3 411.1,76.4 449.4,73.6 476.2,76.8 400.3,79.4 516.9,61.1 429.0,80.1 490.7,68.2 459.7,76.6 505.9,69.4 407.4,78.7 350.9,102.5 341.2,102.1 339.4,108.7 493.9,65.4 336.9,116.1 340.5,107.2 467.5,75.1 337.7,109.9 487.3,71.1 462.1,76.3 325.7,117.9 314.2,124.2 512.6,58.6 468.3,79.7 320.7,119.5 515.7,71.2 425.8,75.4 482.4,68.9 341.7,113.3 437.8,76.0 510.0,87.1 491.9,60.4 455.3,78.1 427.4,80.5 508.3,64.5 468.9,79.8 431.8,70.5 446.1,72.4 320.1,115.1 420.2,79.0 468.9,74.3 431.5,77.8 312.0,122.3 340.9,111.2 333.2,114.4 330.6,104.0 430.1,75.7 335.5,107.4 468.5,68.3 337.4,115.6 472.4,70.3 469.0,69.6 350.1,104.2 487.8,68.3 446.0,77.2 391.3,86.4 477.2,74.6 337.0,116.7 415.3,83.4 469.0,65.1 399.1,81.6 473.4,81.1 493.6,68.1 494.8,70.7 473.5,68.8 311.9,120.7 487.5,62.6 430.7,75.7 458.8,77.7 435.2,77.2 486.1,71.0 495.5,77.2 514.7,63.4 449.9,83.4 421.4,75.5 476.6,72.5 362.3,95.7 318.8,119.7 494.5,65.7 487.6,76.7 351.2,103.9 326.5,122.5 466.2,80.5 442.6,68.1 500.9,65.7 327.5,113.3 461.8,69.7 499.3,77.4 319.8,120.9 425.2,74.1 335.8,112.4 433.9,81.8 459.9,78.7 456.5,73.8 493.5,58.7 420.6,81.0 449.4,75.3 477.9,82.4 323.0,121.6 412.4,80.3 506.0,67.2 456.9,74.3 440.7,75.2 517.7,75.3 495.2,64.9 452.8,71.5 472.9,74.0 495.9,73.8 391.6,84.7 450.8,68.9 479.1,72.6 317.1,113.8 312.5,121.9 457.7,79.7 432.7,77.7 472.1,64.9 350.8,96.9 456.8,73.2 332.3,115.0 328.9,111.6 446.7,77.4 313.6,121.3 510.4,66.9 328.0,117.5 503.9,72.4 494.9,66.2 360.1,91.4 480.2,73.1 512.7,74.1 427.2,80.2 471.5,79.9 313.7,116.5 479.2,73.6 459.2,70.1 493.5,65.4 310.3,119.8 486.8,78.2 405.1,74.8 374.3,94.8 432.0,65.8 371.5,95.2 487.5,74.6 390.6,89.7 488.4,73.7 331.0,109.3 497.4,69.8 320.8,122.9 502.1,75.0 419.6,71.9 485.8,71.6 368.8,95.5 442.4,72.5 377.8,89.6 477.3,74.9 407.6,79.8 449.3,70.1 344.6,111.2 508.1,70.2 333.5,110.9 448.0,74.2 479.7,74.3 425.1,80.6 515.6,78.2 509.4,72.3 485.3,66.9 430.7,73.3 496.5,72.9 493.2,66.5 401.5,81.3 474.0,81.3 320.9,120.1 470.1,73.0 499.4,69.8 326.7,114.6 450.4,78.2 451.9,81.9 506.2,69.6 421.8,81.3 493.7,67.1 450.3,82.2 465.7,72.0 422.7,72.7 444.9,75.3 319.9,121.6 331.0,108.2 443.9,78.8 496.9,69.1 436.8,78.9 337.6,107.2 398.9,80.6 420.9,70.9 425.1,77.9 359.0,101.7 478.6,76.6 315.7,125.4 498.2,63.8 336.0,104.4 492.0,76.9 319.1,114.0 441.8,72.0 507.1,70.4 508.6,67.2 482.5,68.0 450.3,75.6 447.0,76.9 430.7,77.6 478.6,73.0 432.5,75.2 432.6,77.8 426.8,73.5 360.4,99.7 449.1,71.5 448.7,72.0 437.0,73.1 459.1,70.4 333.9,105.0 436.4,74.6 440.5,75.2 440.3,68.2 506.1,68.6 495.2,71.0 414.0,79.5 470.0,69.9 467.9,79.3 472.1,74.5 480.4,71.2 491.6,65.7 480.7,72.8 476.4,78.6 516.6,55.9 434.7,79.6 331.7,111.8 482.7,67.1 501.3,61.5 310.8,123.3 317.9,122.3 344.3,107.8 450.4,74.4 511.8,75.2 495.8,56.9 507.2,56.9 503.2,73.4 318.0,111.5 358.3,99.0 382.5,90.5 336.1,107.5 416.7,81.4 314.7,120.6 457.1,70.4 508.6,59.1 402.2,88.8 503.1,68.4 448.4,75.9 314.8,120.4 502.5,79.7 439.9,73.0 471.4,72.9 450.9,71.5 431.1,77.5 468.0,75.1 471.5,70.2 467.5,71.4 448.9,75.6 417.1,77.7 325.9,120.1 313.9,121.5 461.2,84.2 486.8,69.3 514.5,95.6 440.8,76.8 446.3,76.8 487.2,68.5 430.1,80.6 342.5,107.3 431.5,75.2 457.2,68.6 517.6,53.7 440.9,78.9 504.5,61.0 462.1,76.8 497.1,71.0 445.1,75.1 488.8,74.8 512.8,71.2 465.2,62.2 499.7,58.9 421.4,72.6 346.0,103.4 417.6,70.3 477.8,76.4 484.4,75.1 434.2,74.8 502.5,83.5 508.5,68.3 335.8,106.0 497.0,59.1 505.6,64.9 422.8,68.9 454.7,72.1 465.6,78.6 458.9,71.0 499.6,63.3 313.0,120.3 517.2,54.0 445.2,74.5 414.0,74.9 442.4,71.2 343.2,109.4 330.3,112.9 322.9,113.7 482.5,69.9 337.4,108.8 514.4,58.6 404.5,78.6 507.3,67.6 484.6,75.2 514.8,65.7 488.4,72.3 499.3,73.3 473.7,72.3 449.2,74.9 506.7,77.3 334.4,111.4 311.8,124.3 401.8,76.5 486.2,67.4 515.2,74.1 519.1,83.2 450.1,76.5 445.4,78.5 514.8,55.7 340.8,108.7 326.6,118.3 452.6,74.1 508.7,78.7 405.3,78.5 488.9,75.0 462.3,71.6 427.1,72.2 497.9,66.7 418.6,75.4 505.3,63.6 517.8,56.3 440.7,71.1 510.6,64.1 438.3,73.2 501.3,68.1 501.0,79.6 475.8,71.2 333.2,108.4 445.9,75.7 464.9,79.1 405.5,72.3 382.0,86.2 462.4,74.8 356.0,104.4 311.7,124.6 467.5,77.7 468.6,72.6 409.2,80.5 445.7,74.3 499.5,70.6 434.9,72.8 319.8,117.9 464.9,75.3 455.8,72.5 439.6,75.3 335.9,121.2 489.8,74.5 513.7,65.6 460.2,74.0 425.3,76.6 496.7,67.8 473.0,79.1 473.6,75.3 410.4,76.2 426.9,78.6 496.3,71.8 477.7,71.7 416.3,74.2 502.5,71.7 422.2,77.4 311.5,127.6 435.3,86.8 512.8,75.4 498.0,65.8 405.6,73.3 314.7,114.4 492.5,64.9 505.0,76.9 510.3,68.0 328.8,116.7 449.4,78.1 345.6,108.0 325.7,120.2 338.4,112.3 349.4,105.1 446.0,73.3 428.0,75.1 504.3,75.4 437.2,73.5 322.0,120.6 503.2,72.3 498.2,67.7 488.4,63.0 476.6,70.9 399.3,86.8 462.4,77.2 313.4,123.8 333.1,107.8 437.4,79.2 440.1,73.5 335.5,105.2 314.7,120.0 461.3,68.9 439.5,75.4 461.5,75.0 457.9,74.3 516.4,61.8 325.2,114.4 323.0,110.3 431.6,70.7 434.6,71.8 490.3,70.6 320.5,115.1 500.8,71.4 314.2,122.8 479.6,75.0 495.7,76.7 497.4,68.9 454.6,81.0 430.2,72.2 479.8,73.4 378.0,87.6 344.0,104.7 460.4,79.0 419.2,80.0 495.2,76.9 321.5,118.5 414.2,79.0 436.4,77.4 430.7,73.5 334.3,106.2 473.4,76.4 504.3,72.7 439.9,76.9 481.1,75.1 342.3,109.5 363.6,88.8 420.9,71.8 515.3,61.0 465.0,74.6 480.1,78.4 344.2,100.7 432.1,78.8 506.0,75.7 443.4,73.9 443.0,77.8 431.3,75.2 452.5,80.4 494.9,71.6 372.7,88.2 489.5,67.4 397.9,78.9 323.8,119.9 509.4,63.3 326.4,114.2 481.0,75.7 515.5,82.3 467.7,71.8 498.0,64.5 504.6,88.5 458.6,73.7 356.9,96.7 486.6,73.8 431.6,72.2 518.3,53.3 485.8,74.1 333.5,108.1 461.5,80.1 340.5,103.2 468.5,74.0 507.5,75.1 474.7,83.4 444.6,75.6 318.6,114.1 512.1,58.8 504.0,72.3 458.6,77.2 381.0,86.9 464.6,67.9 478.3,74.9 504.2,68.4 406.1,78.6 471.2,72.0 408.3,77.3 318.0,119.7 450.1,76.5 314.0,126.1 473.9,70.7 442.5,77.3 479.9,69.3 358.1,96.1 510.7,77.4 505.4,72.5 344.0,107.2 489.4,70.3 512.9,60.6 441.7,69.6 447.3,73.8 330.9,114.7 442.6,74.3 403.3,85.6 384.6,91.1 457.7,79.2 486.9,69.6 428.5,79.5 490.0,68.2 430.8,78.4 458.1,70.0 433.7,71.9 489.3,67.7 495.9,71.4 502.4,74.9 453.1,71.6 474.1,73.9 322.9,117.8 474.4,75.9 488.8,69.7 499.9,69.9 463.6,71.2 432.0,72.3 516.0,64.1 377.7,87.1 438.0,78.0 411.6,73.7 515.4,62.5 448.3,75.4 460.7,73.7 511.7,71.2 464.0,70.1 495.7,78.0 477.8,72.7 475.6,75.7 445.9,80.4 427.8,73.3 471.4,72.3 461.3,71.4 461.0,69.6 479.7,66.7 441.8,75.4 487.5,71.4 479.5,75.5 446.2,74.8 504.5,58.8 444.0,69.7 485.2,65.2 445.7,75.8 459.7,74.4 469.1,69.9 424.4,82.1 445.9,73.6 452.3,76.0 511.4,60.0 411.1,76.2 419.6,84.2 425.4,78.6 401.8,78.5 418.3,73.2 322.9,115.0 329.9,112.2 416.8,78.1 466.7,72.6 496.4,68.8 363.9,90.3 480.6,74.6 484.3,74.5 332.3,118.0 452.7,74.3 442.1,84.0 449.9,82.5 478.4,69.5 502.0,64.4 488.7,68.4 440.1,74.8 449.5,77.1 350.3,100.7 340.4,107.7 317.6,122.6 437.7,73.4 399.0,79.7 349.5,103.0 464.4,72.0 435.4,75.3 435.0,75.3 436.4,76.4 489.4,67.4 503.3,71.6 429.7,76.6 504.7,67.5 509.5,91.5 428.7,79.5 339.8,102.4 453.7,79.1 483.2,74.9 508.6,63.7 403.2,78.7 388.2,84.6 447.6,79.0 486.5,81.0 423.9,72.1 504.2,63.5 326.5,118.5 420.1,77.3 463.9,71.1 510.8,62.0 468.9,72.0 425.8,77.0 346.3,100.2 421.6,73.0 448.6,73.3 503.6,68.2 444.5,79.6 345.7,103.8 477.5,75.4 332.5,119.3 510.0,62.6 483.8,75.0 432.8,76.2 481.5,77.8 438.0,86.2 441.5,84.0 380.1,91.2 320.8,113.5 463.0,80.6 508.9,70.8 431.4,77.4 333.4,117.7 450.7,74.1 431.1,79.6 432.8,79.7 518.9,80.5 453.8,73.5 342.6,108.2 316.3,118.1 456.5,73.3 517.0,61.9 313.1,117.5 446.7,70.9 490.0,70.5 485.6,73.1 512.5,81.8 442.7,78.5 371.7,90.3 490.6,73.0 468.6,75.0 491.2,70.2 497.4,76.5 414.2,76.2 479.3,73.0 471.2,85.1 454.9,77.4 468.2,75.0 498.4,79.1 432.0,72.9 331.8,113.7 496.3,59.8 371.4,91.3 371.8,92.2 417.9,76.7 494.3,69.0 442.4,72.5 439.2,74.0 319.0,120.5 503.0,59.9 518.2,69.0 515.7,78.6 312.3,122.5 503.2,71.9 501.7,60.0 515.7,74.3 317.7,124.8 456.4,79.9 392.4,78.0 516.5,71.4 461.7,70.6 471.7,78.7 457.1,80.4 471.3,73.9 311.1,118.9 435.7,79.6 500.2,66.3 504.8,74.0 502.1,75.9 397.8,87.0 416.4,78.5 444.5,74.2 507.1,67.8 382.7,95.5 446.3,79.2 498.1,72.3 487.2,68.5 334.8,106.1 499.9,71.8 318.7,116.2 315.1,123.5 399.8,81.9 391.2,80.1 514.5,60.8 518.6,65.0 332.8,111.5 511.1,65.4 491.5,72.1 418.9,78.3 336.6,109.6 463.8,76.5 488.3,69.8 317.2,124.1 464.5,65.9 512.1,77.4 506.6,76.4 516.1,65.2 439.7,73.6 440.5,76.8 429.7,78.9 445.3,75.8 443.2,74.6 361.9,93.1 322.9,116.3 354.2,105.5 467.3,78.0 506.7,70.6 349.5,103.5 509.4,59.0 444.1,72.0 316.3,121.8 514.5,68.8 330.2,120.0 468.2,72.1 438.6,74.0 422.0,83.3 460.1,74.2 474.2,68.6 449.0,77.4 479.9,74.1 442.8,77.6 313.9,122.8 471.1,73.0 480.6,74.2 473.4,76.5 410.4,79.1 467.8,78.5 420.7,76.1 448.3,72.3 478.5,66.9 454.7,80.8 364.4,92.5 317.4,128.7 511.2,55.9 317.1,127.1 451.9,76.9 430.8,76.2 453.3,75.2 453.8,61.3 481.8,69.4 472.3,80.2 487.4,76.8 321.9,118.7 348.8,103.3 320.5,121.8 344.0,107.7 506.7,70.6 317.8,122.9 411.9,78.2 440.0,75.8 512.6,47.1 431.0,75.3 453.7,72.2 504.0,62.3 470.4,78.6 506.8,69.6 499.8,73.9 475.1,74.1 321.4,116.5 327.9,116.8 417.6,79.2 467.8,80.6 328.2,110.4 316.4,120.4 465.2,71.6 438.1,79.2 494.3,67.6 339.9,111.3 323.1,121.3 356.0,94.5 329.5,111.6 481.9,77.4 331.4,115.6 466.6,71.0 420.8,75.2 485.8,77.4 477.2,68.9 426.5,76.7 464.4,66.5 518.6,60.0 443.0,72.6 476.6,67.8 350.1,102.8 509.6,71.7 314.0,117.0 343.3,102.6 499.4,72.7 467.3,79.7 407.4,76.3 503.2,70.6 354.6,93.0 497.9,70.8 413.1,76.0 501.4,68.7 485.2,78.5 489.0,68.3 465.7,78.9 511.1,73.2 432.7,76.1 335.8,116.2 326.5,117.3 517.4,68.4 348.0,100.7 505.7,76.9 314.6,121.5 513.9,55.9 424.4,78.7 510.0,64.8 313.5,126.0 505.5,82.3 502.0,66.9 510.4,58.5 341.3,108.7 451.5,78.2 321.7,123.8 471.4,78.6 446.7,72.5 315.5,123.4 501.6,74.4 501.1,72.0 517.6,70.7 415.3,73.9 409.5,74.8 340.4,101.5 501.5,83.1 422.9,74.9 468.8,78.1 413.7,79.6 323.0,119.8 516.0,71.5 496.2,74.1 514.8,47.9 328.1,118.0 438.6,75.4 470.1,72.0 344.3,97.4 404.2,82.7 489.9,68.7 317.3,119.2 329.5,116.0 455.8,79.0"/><polyline fill="none" stroke="none" marker-start="url(#mb5)" marker-mid="url(#mb5)" marker-end="url(#mb5)" points="394.4,75.2 480.2,53.5 456.5,59.6 427.5,66.5 340.6,84.3 411.7,71.4 435.8,57.1 425.6,64.7 508.7,47.2 344.5,93.9 508.1,54.7 341.5,90.2 385.1,70.3 376.5,74.9 495.4,57.2 413.8,60.2 452.6,61.6 348.1,87.9 311.9,99.2 433.5,55.4 310.2,106.0 489.6,54.5 489.3,56.4 365.0,77.7 487.1,54.6 344.9,85.9 462.2,52.4 383.1,73.4 381.7,77.6 484.8,57.8 413.0,64.0 461.8,56.6 507.3,54.7 313.2,103.1 366.8,78.7 341.7,86.6 320.5,96.6 414.3,65.9 346.9,90.3 408.6,67.4 396.2,73.0 330.2,92.4 416.2,63.9 492.6,54.1 470.0,53.1 440.4,54.9 480.3,52.2 464.3,52.7 370.8,78.6 423.9,65.5 442.1,59.4 368.3,80.0 389.9,73.2 367.6,80.0 465.5,56.9 482.5,53.3 452.0,56.0 422.6,64.1 429.4,68.5 463.9,57.1 316.4,96.3 452.3,55.5 325.4,101.8 391.7,68.9 404.6,67.6 431.2,65.6 492.8,59.3 466.6,55.8 455.7,59.8 329.7,90.2 440.4,56.0 516.3,58.1 479.1,57.5 360.6,82.1 427.8,59.3 419.9,68.7 396.4,67.2 467.5,52.1 430.7,62.0 440.8,52.6 404.3,71.6 435.5,60.9 504.6,58.6 441.5,62.4 359.5,79.8 446.3,57.6 394.8,73.7 338.4,86.2 477.3,62.2 409.4,65.0 312.9,99.4 482.3,52.2 367.9,77.7 418.3,60.1 476.7,55.1 353.2,89.8 505.4,56.7 378.5,75.9 496.3,55.3 318.1,97.0 438.7,58.4 488.0,52.6 323.7,89.2 427.5,63.1 450.4,58.3 435.5,64.2 357.7,85.7 436.9,64.5 428.2,58.8 312.3,96.8 316.8,101.4 496.9,41.6 393.3,72.1 471.2,62.2 455.8,50.8 497.0,52.4 469.6,56.8 451.9,58.9 474.0,46.2 386.5,65.0 450.1,64.6 414.7,67.1 419.2,68.7 369.2,78.5 434.5,56.4 492.4,51.3 454.7,64.0 453.8,51.2 402.9,67.0 327.1,100.3 469.8,56.3 444.2,68.7 479.8,53.6 371.6,74.4 470.3,51.3 458.6,58.4 453.1,57.8 429.9,65.3 362.4,88.6 422.2,61.9 448.8,60.7 492.1,47.4 510.9,51.7 466.8,60.4 370.4,78.0 405.2,68.3 351.1,87.2 377.8,76.7 463.5,55.5 414.5,59.4 398.6,67.1 448.5,59.5 496.5,54.0 397.3,69.4 394.9,64.9 447.8,66.5 507.4,53.0 427.2,56.6 354.0,82.5 335.8,93.8 328.5,89.7 325.5,96.3 313.7,103.3 438.1,68.0 409.3,69.9 474.7,57.8 429.8,61.2 331.9,99.5 320.2,95.9 439.4,56.6 430.7,59.9 490.9,56.1 476.2,54.4 387.0,72.8 498.1,55.5 518.6,51.5 342.6,93.8 421.8,55.7 509.5,48.2 497.4,51.2 325.4,98.7 401.3,72.7 508.0,47.5 496.6,47.2 483.8,56.1 475.7,54.6 500.6,58.2 500.1,53.3 371.4,75.1 390.8,61.6 410.3,62.5 439.9,58.7 504.1,49.7 480.4,53.9 509.7,56.7 465.9,56.3 332.4,86.6 512.3,52.8 517.9,48.7 367.9,77.2 415.3,65.1 332.9,90.6 355.8,89.1 507.0,52.7 449.4,53.7 495.3,62.9 347.8,85.3 483.5,53.2 511.1,46.8 316.9,99.5 493.5,58.2 482.5,56.9 358.8,78.8 312.8,101.7 376.8,71.0 395.0,71.7 418.8,61.0 490.0,50.3 437.0,61.0 478.6,56.6 432.8,55.0 428.7,69.3 431.8,62.7 474.2,57.7 486.1,57.0 340.6,87.4 511.6,53.2 366.5,78.9 508.7,57.4 501.6,55.4 450.6,54.2 477.1,54.2 408.9,68.7 454.1,58.8 388.4,70.5 415.1,61.0 489.8,48.5 388.2,71.3 433.9,62.5 352.8,87.0 406.1,63.0 512.4,51.7 413.1,60.7 419.0,68.2 481.9,58.5 430.5,63.8 393.4,74.1 333.6,92.9 517.0,49.9 483.7,53.1 426.3,59.9 392.4,74.6 452.4,56.0 447.7,56.4 490.6,61.9 347.0,96.5 371.2,79.0 433.6,56.2 357.2,79.9 341.7,87.9 373.0,76.1 425.6,62.8 465.1,55.0 354.4,88.9 448.8,57.8 433.3,62.5 491.2,55.1 333.3,93.0 357.9,84.6 376.4,70.6 403.7,69.8 405.2,66.6 463.4,60.4 360.4,80.4 413.6,67.4 508.8,50.4 438.7,51.3 383.1,74.5 476.2,56.9 488.2,57.5 354.4,78.5 449.8,58.9 479.3,57.1 356.5,90.3 428.6,58.3 335.7,91.8 470.0,62.8 492.5,55.3 421.3,60.4 395.6,78.5 431.6,61.5 453.9,60.3 315.2,99.2 398.1,70.0 502.5,56.6 449.3,58.4 342.7,84.0 372.7,79.5 519.0,52.8 425.1,66.8 378.4,74.2 390.6,73.3 512.2,52.2 506.6,52.3 328.0,92.7 325.9,97.5 420.0,62.2 482.6,30.9 372.7,81.0 324.6,100.2 496.8,54.8 354.8,86.7 496.7,48.9 392.3,74.9 412.1,68.6 445.4,58.0 377.5,75.8 449.1,63.8 409.4,68.0 471.7,45.7 336.2,93.8 449.0,56.1 405.4,65.5 336.8,90.9 496.1,56.8 327.7,85.7 473.6,60.9 506.0,46.4 374.0,68.9 511.3,46.7 313.6,94.1 494.4,51.4 439.3,53.2 311.5,99.6 443.9,57.3 477.0,56.2 383.7,74.7 371.4,77.5 431.2,46.0 405.8,67.9 354.9,88.5 488.0,46.3 393.4,71.3 432.0,59.9 483.0,56.7 414.7,61.3 368.1,78.2 349.6,79.2 314.6,101.5 400.3,80.0 340.0,93.0 452.5,63.8 349.2,89.0 362.2,82.2 355.6,90.6 417.4,66.1 490.4,55.0 435.5,57.2 426.2,58.1 359.9,87.6 356.7,81.7 450.3,69.7 347.5,91.0 509.8,53.3 330.4,87.3 503.0,57.1 314.7,96.9 333.1,99.0 426.0,58.3 421.9,71.7 451.8,53.0 491.4,50.6 507.8,52.7 416.8,59.7 465.2,60.6 430.3,60.4 370.2,71.1 411.4,65.3 439.1,53.8 345.3,95.1 397.7,67.3 357.1,83.7 328.0,94.6 388.4,63.2 360.2,78.7 478.9,57.3 509.0,62.0 331.3,93.2 380.6,77.7 380.1,72.0 500.8,54.6 374.4,79.9 368.3,81.6 418.7,60.8 449.9,64.1 339.0,91.8 471.3,60.4 397.0,74.6 371.9,76.2 358.8,80.7 376.8,73.2 324.5,91.4 488.6,56.5 482.8,51.2 455.0,56.5 334.7,92.2 483.0,57.0 420.1,59.7 367.2,74.4 349.7,83.8 480.0,52.0 362.1,78.5 377.9,75.6 450.6,60.7 357.2,85.2 438.5,61.9 393.2,69.0 395.9,74.6 348.5,82.5 463.3,58.3 411.4,68.4 483.1,52.0 483.6,49.6 497.5,49.9 475.2,52.7 342.4,89.1 407.3,80.4 411.6,66.3 444.8,47.6 515.3,47.9 430.0,61.4 438.1,57.5 447.2,63.8 372.0,80.4 492.2,56.9 428.9,64.0 455.8,52.0 498.6,62.0 324.2,89.7 383.8,78.1 312.5,104.9 312.6,98.7 317.7,100.7 349.8,79.9 396.0,69.5 413.3,63.4 471.0,57.4 459.8,57.3 327.8,97.0 324.2,98.7 461.3,56.3 436.3,61.7 438.8,57.2 360.8,78.8 510.1,51.1 434.9,57.8 483.4,57.9 394.6,69.3 386.4,77.2 447.5,55.0 400.5,71.8 467.9,58.0 435.9,54.8 512.4,51.4 335.3,89.8 483.2,58.9 434.6,60.4 436.2,60.6 462.4,58.5 341.3,89.2 366.8,81.5 473.5,53.0 330.4,91.7 357.3,87.6 422.1,61.9 314.9,96.5 481.5,51.0 334.3,87.9 342.2,96.2 473.3,48.0 397.6,74.1 353.2,87.5 449.2,50.2 382.0,73.3 440.0,65.1 467.9,58.8 502.5,41.9 464.1,54.7 361.1,87.1 484.5,49.3 371.4,77.9 416.5,68.3 429.7,62.8 393.0,69.6 459.6,53.7 474.6,61.5 388.6,70.3 434.8,63.1 337.6,89.4 507.7,54.7 389.6,72.5 360.9,83.4 434.4,62.8 324.1,96.1 473.9,55.7 350.3,90.8 320.9,99.1 363.4,78.9 426.5,55.1 459.0,63.1 443.9,60.4 427.5,61.7 401.8,70.2 364.2,80.4 358.2,85.0 469.6,56.6 517.0,54.1 501.4,51.3 339.2,90.8 482.1,56.3 368.9,80.7 487.7,58.5 465.5,52.6 420.4,66.6 365.7,76.0 484.3,53.9 427.7,63.3 446.6,62.1 499.9,54.5 513.9,50.3 400.3,72.1 354.5,86.6 364.9,78.6 384.9,71.9 439.4,64.7 343.7,90.9 352.6,86.8 439.1,59.2 352.9,88.9 361.9,84.3 370.3,79.2 386.3,78.4 326.4,89.9 370.2,80.4 316.5,105.1 322.3,95.8 385.3,69.9 318.3,95.4 363.5,83.2 347.6,91.6 374.2,72.7 496.9,55.2 339.6,95.6 495.6,58.1 412.7,61.6 488.8,47.6 345.6,88.6 433.4,51.9 324.8,95.2 438.9,63.3 323.5,104.3 502.4,54.9 427.1,62.8 386.9,67.3 402.0,71.0 476.5,50.0 387.6,73.8 464.9,65.2 379.3,75.5 497.2,54.7 479.1,59.0 467.5,61.4 358.8,86.8 506.1,46.0 489.5,59.6 443.6,58.2 337.1,89.6 379.7,78.0 360.7,85.2 370.3,85.4 316.9,92.5 517.5,55.5 423.7,66.5 462.0,60.9 416.6,70.5 382.3,74.1 374.2,80.1 317.4,100.0 417.5,63.9 352.7,82.2 461.6,56.1 314.3,102.9 435.2,64.3 440.8,56.1 464.6,59.3 515.2,50.1 450.4,55.8 381.8,75.6 398.9,65.0 420.8,57.5 351.3,80.4 517.3,52.9 354.6,82.0 449.4,59.1 325.1,95.6 448.0,57.1 360.8,85.9 350.5,87.7 498.2,55.9 472.1,51.6 421.0,62.5 448.9,55.3 408.9,64.1 451.5,64.0 333.4,94.3 463.4,52.7 466.4,57.9 370.8,72.5 429.0,59.5 343.6,86.6 487.8,51.2 503.6,55.9 466.0,55.9 342.1,95.4 400.6,72.7 358.8,85.3 371.0,77.1 458.0,58.6 376.3,72.2 324.8,97.0 348.4,84.3 473.0,58.2 456.9,63.9 350.5,84.1 432.5,50.8 326.1,96.1 371.5,70.7 368.9,82.1 515.9,52.2 387.9,73.2 475.6,58.7 355.4,83.5 340.6,93.3 395.3,70.7 339.4,91.3 452.2,55.1 505.2,55.4 488.7,51.4 435.5,59.3 512.3,53.7 495.7,53.1 330.0,86.1 413.9,56.4 493.1,56.6 326.2,100.3 479.8,59.2 492.1,59.2 439.1,60.0 391.2,63.0 413.8,71.5 434.1,66.1 482.6,54.8 368.1,77.5 453.0,56.7 518.4,47.7 514.4,60.3 455.9,60.3 333.8,94.1 368.7,77.0 377.3,72.5 460.8,55.9 478.2,56.0 359.3,83.6 341.5,89.6 376.1,76.9 465.1,58.1 464.2,52.8 381.8,70.6 403.9,67.1 446.5,50.2 339.2,92.3 386.4,71.9 387.1,71.2 317.9,98.9 480.5,52.9 486.7,57.1 492.3,54.8 340.9,92.9 416.0,59.6 434.6,60.0 482.7,61.0 462.3,53.9 348.9,86.2 391.0,68.4 483.9,53.4 501.5,49.0 335.1,96.9 511.7,53.4 517.4,48.3 412.0,63.6 483.1,55.6 512.4,48.5 382.9,76.6 458.7,57.8 461.9,64.7 506.2,53.2 351.8,84.6 346.0,83.7 513.6,58.0 356.2,89.7 450.7,57.8 393.3,69.2 389.4,68.4 386.3,78.6 488.9,53.4 421.3,63.5 408.6,72.9 395.0,74.5 437.3,56.4 399.2,75.8 343.3,93.0 432.5,60.5 408.6,69.6 342.1,86.5 430.1,62.5 436.9,64.5 508.7,45.0 440.0,58.6 396.3,67.6 488.3,49.8 484.3,50.6 435.9,53.8 429.7,46.7 414.0,66.9 374.2,75.7 513.5,56.6 381.8,81.8 459.2,61.5 444.0,59.7 410.9,63.4 395.0,69.1 505.9,51.6 487.2,54.4 342.1,88.2 393.4,71.7 349.6,87.8 430.4,60.9 405.2,72.8 318.4,104.4 471.9,56.1 511.4,51.0 418.5,63.6 493.5,53.6 463.3,54.0 346.3,82.7 449.1,64.4 393.6,71.3 377.2,76.7 370.8,78.0 448.4,58.4 365.2,85.4 417.8,70.5 417.4,63.4 383.0,72.9 454.0,58.1 422.0,58.6 318.5,93.2 377.7,71.8 455.9,59.4 392.6,69.9 455.4,58.9 491.8,56.1 468.1,53.6 488.1,62.2 360.5,82.3 325.5,93.7 466.3,58.8 338.9,94.4 475.4,57.2 329.9,89.2 419.8,63.0 420.7,62.9 386.2,77.7 421.3,66.9 385.3,75.8 404.4,70.6 472.8,57.3 377.0,80.8 474.9,52.6 370.7,75.2 315.8,95.4 332.2,94.8 433.2,57.5 386.6,68.7 484.4,55.7 355.5,88.6 422.0,56.8 497.5,48.2 363.9,79.9 328.3,90.7 403.8,78.2 400.8,72.0 400.6,64.2 361.3,78.5 461.9,62.8 425.2,71.3 332.7,88.9 441.8,58.2 444.2,57.8 438.1,57.6 406.9,63.0 492.4,47.6 366.9,81.6 409.0,64.8 471.9,59.8 390.5,72.4 454.5,60.3 402.0,71.9 477.7,50.4 416.3,65.2 376.6,69.5 374.4,76.6 469.5,56.5 431.7,62.2 369.6,79.7 387.1,71.3 503.3,51.5 392.4,70.7 319.0,97.9 476.3,58.1 397.8,64.9 387.1,77.3 461.7,60.6 388.7,66.4 461.8,57.1 345.2,84.6 499.1,48.3 351.7,86.9 404.6,62.4 348.2,89.2 358.5,86.4 510.5,52.8 502.3,45.3 481.5,43.5 346.0,86.4 369.0,86.4 433.6,63.5 422.5,67.3 452.7,60.4 435.2,65.3 358.8,81.6 455.4,55.3 376.9,82.1 494.4,47.2 477.1,50.0 500.3,56.4 389.0,67.7 329.2,97.4 467.5,59.4 477.3,54.7 489.6,57.6 320.8,102.7 330.3,95.5 414.9,66.0 319.8,97.9 392.7,79.0 479.0,62.7 394.6,69.9 345.0,97.8 340.2,91.5 403.7,64.7 503.3,44.5 338.3,77.8 422.4,65.4 432.8,60.7 318.4,99.0 357.6,81.5 483.1,57.9 443.4,50.5 458.0,58.5 398.5,67.0 319.5,90.2 386.1,72.2 405.9,72.8 452.7,62.7 421.5,61.2 490.4,49.2 407.4,70.6 449.0,59.6 353.5,82.5 391.0,73.5 407.1,69.8 482.5,56.6 430.1,62.6 398.2,67.0 434.9,58.9 337.4,91.4 416.5,70.2 481.1,57.7 432.3,62.4 337.2,96.8 487.8,50.3 458.0,59.1 514.6,51.0 345.6,95.8 515.9,51.5 424.8,66.9 408.8,62.0 483.6,55.0 329.5,88.7 341.4,92.2 356.4,77.3 423.5,64.3 458.1,60.1 461.4,56.0 311.0,98.5 335.1,92.4 458.4,58.2 451.5,60.6 328.3,92.2 470.9,53.2 364.2,77.3 471.3,56.4 371.3,75.9 316.5,97.3 396.7,78.3 343.4,85.5 509.0,53.6 404.0,68.6 383.2,67.4 409.2,59.5 449.1,56.2 382.4,74.7 318.1,99.7 482.2,59.6 485.4,47.9 426.3,64.3 361.0,81.7 513.6,47.0 348.4,89.7 456.3,59.1 338.6,91.2 416.0,66.0 452.2,59.6 324.1,96.3 428.4,62.5 358.9,78.9 382.1,71.6 474.5,54.6 400.4,72.2 468.5,56.3 393.3,73.7 461.2,55.1 438.2,63.3 492.9,55.0 341.2,80.7 350.4,90.0 328.3,97.0 397.3,70.8 342.5,91.3 510.6,48.1 376.2,74.5 413.4,62.0 516.3,49.1 354.1,87.8 370.4,74.0 424.6,59.5 400.0,71.1 375.9,80.7 453.1,64.5 497.1,51.4 460.4,50.5 366.5,76.4 477.9,51.3 424.6,60.7 399.2,65.3 355.9,84.6 455.8,63.6 496.8,47.7 317.3,98.4 513.0,45.8 324.7,96.6 491.3,64.7 324.3,94.8 515.1,48.9 415.2,70.0 333.8,94.4 353.6,86.3 338.9,93.8 431.0,55.1 476.4,59.3 419.2,61.9 513.8,58.7 445.1,58.5 479.3,61.3 432.6,58.6 405.9,71.9 396.0,75.1 470.8,50.6 508.8,49.7 420.6,63.0 472.6,53.0 487.8,53.6 454.7,53.9 433.5,58.4 414.0,64.5 486.6,54.0 409.7,66.6 422.1,68.3 315.6,102.8 424.4,64.0 517.3,50.9 481.7,53.8 418.8,71.8 323.9,99.6 487.1,54.7 440.6,52.4 437.6,59.1 437.7,59.0 474.6,55.3 341.1,90.8 482.2,59.5 407.0,73.9 503.2,59.3 326.2,98.6 442.1,56.6 480.4,61.3 445.2,59.3 376.6,82.1 380.0,69.9 383.6,66.3 356.6,80.8 325.8,99.3 499.9,52.4 343.4,90.6 472.4,55.9 426.9,60.6 395.2,69.8 498.8,46.6 478.6,57.3 368.8,77.3 515.3,50.4 355.7,92.3 478.6,58.9 474.4,50.9 513.1,51.1 437.8,57.8 348.1,85.1 409.9,69.6 457.6,55.2 490.3,56.1 311.6,90.9 432.8,59.6 452.1,56.4 405.0,59.9 354.2,81.9 381.5,73.1 332.1,82.0 494.5,57.8 316.2,89.2 501.9,54.5 324.3,103.1 351.5,86.3 348.6,83.0 343.9,86.2 352.9,79.1 391.7,65.6 476.6,49.9 515.2,43.2 311.4,99.2 460.8,52.1 417.6,58.6 370.8,74.8 399.9,65.9 493.7,50.9 390.4,71.0 440.3,52.6 406.5,70.1 401.9,81.2 399.1,68.5 435.0,54.4 317.9,103.3 457.6,56.9 416.0,70.2 342.6,87.1 392.7,75.8 481.0,51.8 379.9,73.4 319.7,100.3 444.2,58.0 423.2,65.3 336.2,88.3 335.8,94.7 367.3,76.8 349.3,84.2 442.5,51.7 366.1,73.9 425.0,64.1 418.3,65.1 445.4,54.5 334.7,85.3 324.9,95.7 502.1,46.8 393.2,66.7 341.9,88.9 433.9,51.8 484.4,56.4 420.0,61.9 392.4,75.1 334.4,92.7 364.2,84.3 336.9,91.5 382.2,74.5 435.3,57.6 325.8,91.5 357.0,82.1 433.7,59.0 338.0,94.0 342.8,83.3 483.7,50.4 477.3,66.8 398.3,70.9 334.8,84.9 393.1,74.1 370.8,80.5 482.8,56.0 425.4,60.5 481.4,58.0 397.0,70.5 363.6,83.2 474.4,56.7 402.6,72.9 382.6,72.7 444.7,55.4 366.8,80.6 468.9,57.3 381.9,72.3 457.4,54.0 420.0,60.7 473.1,56.8 475.7,53.5 511.3,50.5 471.0,54.2 429.5,66.7 424.9,58.5 513.5,48.4 473.0,55.5 455.3,54.0 410.5,68.4 481.3,55.4 375.0,76.7 351.1,88.9 333.1,92.0 493.0,43.2 474.2,56.9 473.9,63.4 398.1,73.8 509.8,50.6 352.9,88.9 437.6,54.9 356.1,87.3 395.8,63.8 483.1,54.0 483.4,54.1 332.4,97.9 442.8,59.0 451.6,59.7 422.1,59.3 512.9,48.3 488.1,51.6 394.5,67.2 503.4,50.8 491.4,52.1 431.1,59.0 473.3,61.1 504.2,58.6 512.7,53.6 498.4,50.5 456.7,51.2 354.9,86.6 496.9,55.0 463.5,61.4 383.9,72.4 421.7,65.9 447.5,59.3 500.8,52.0 492.4,57.2 451.7,52.8 385.5,73.3 443.4,61.3 405.0,63.2 381.5,74.1 421.0,59.9 434.5,48.4 514.4,44.5 513.8,54.2 328.5,95.6 363.2,87.3 327.6,96.1 343.7,86.5 418.1,67.4 502.1,53.7 331.1,94.4 426.4,64.2 481.1,51.0 389.9,73.0 397.9,79.1 400.1,70.3 313.0,95.7 392.0,70.3 336.1,101.8 427.5,62.7 395.8,62.8 341.6,86.6 341.2,90.5 479.2,53.8 391.0,75.8 516.3,49.6 430.5,63.9 413.9,60.4 437.0,59.5 460.9,60.5 509.2,54.0 350.8,85.9 481.0,55.6 410.4,68.2 343.2,82.5 431.4,55.3 334.2,95.0 383.9,78.8 466.4,62.5 415.6,64.7 341.2,85.8 504.7,53.4 514.1,52.2 434.3,52.9 455.8,59.7 399.2,71.8 322.1,99.2 355.0,85.0 437.6,63.7 414.8,71.1 350.0,85.3 382.1,74.1 423.8,70.4 496.1,54.6 477.4,55.9 506.0,54.7 390.9,67.5 448.1,66.8 366.2,79.2 319.8,93.2 460.2,64.9 330.0,90.8 435.5,63.1 389.0,71.6 446.8,56.5 461.7,54.2 429.8,60.1 422.4,64.8 488.8,55.3 460.5,69.9 378.5,79.1 360.3,75.1 466.0,59.9 355.5,77.8 414.2,62.8 509.8,51.3 498.9,58.1 467.3,62.0 407.4,69.2 334.4,88.6 479.5,56.0 454.4,59.0 384.5,70.9 430.2,71.7 344.7,92.7 395.0,69.3 423.9,60.2 463.9,58.2 473.6,57.2 492.3,52.8 375.5,69.5 319.4,93.0 456.2,58.7 391.4,67.0 325.3,96.5 476.8,55.2 470.8,58.0 379.8,76.9 477.8,57.4 473.6,44.8 391.6,77.0 358.4,81.2 358.3,88.3 362.8,80.1 382.2,73.4 333.6,92.2 385.1,78.7 441.2,57.7 400.0,74.3 323.8,103.5 333.8,97.3 396.8,74.3 465.3,59.3 406.4,64.2 496.7,54.8 413.8,62.0 511.2,49.7 386.5,74.0 443.2,56.7 336.8,93.1 343.1,94.3 470.8,60.1 426.8,63.7 394.5,68.5 444.5,60.5 505.4,57.7 491.2,56.1 486.6,55.2 336.9,93.5 402.7,70.5 446.0,53.5 323.5,90.7 502.4,44.7 345.5,88.1 469.8,52.2 478.0,53.0 512.2,54.4 468.3,58.6 332.9,90.2 406.1,69.7 376.2,75.0 436.7,51.4 371.5,76.6 364.9,79.8 402.0,68.7 387.1,75.9 512.4,51.1 382.6,74.2 484.0,60.0 348.9,85.8 492.1,51.6 340.1,93.7 454.5,57.6 471.5,63.8 330.9,98.2 417.7,64.8 506.4,52.2 449.9,67.0 330.9,93.0 329.1,89.7 355.8,92.1 454.0,61.0 421.9,59.5 326.3,99.8 314.1,104.6 337.8,86.8 421.6,61.2 440.8,62.7 409.0,64.8 507.0,47.9 411.0,68.7 361.5,82.9 338.6,93.7 406.6,75.4 496.3,49.7 490.3,53.8 434.5,61.6 461.1,57.8 431.1,65.4 353.2,89.5 344.9,80.4 354.6,89.5 502.2,42.9 315.6,98.1 342.8,88.1 497.5,57.9 398.4,68.8 499.2,57.9 347.9,88.5 463.4,56.5 410.8,60.7 459.8,51.9 333.6,95.6 372.6,80.8 469.1,61.7 406.4,64.8 398.1,67.6 492.6,49.3 480.3,52.9 377.7,68.9 514.7,53.5 422.1,60.5 341.8,90.4 482.8,63.8 319.8,100.2 518.5,53.3 318.8,100.0 459.4,56.1 515.7,55.3 460.5,55.6 449.6,59.0 318.7,98.4 346.7,85.2 436.2,59.5 378.8,77.8 427.5,57.8 358.7,78.8 405.5,67.6 461.5,51.4 432.0,63.5 323.9,102.5 514.1,59.8 431.1,55.7 365.7,75.3 346.9,86.6 352.5,85.7 372.7,73.6 508.8,51.3 421.4,62.8 420.4,53.3 345.5,92.5 439.8,62.8 395.7,65.3 345.0,90.4 348.1,86.7 366.1,82.4 406.0,59.8 506.5,48.2 327.6,87.8 475.2,60.2 310.2,104.0 358.4,82.9 370.6,78.0 417.9,66.4 379.6,71.2 415.1,68.8 500.0,60.1 477.6,60.4 370.6,74.0 339.9,85.6 468.6,57.0 491.4,48.9 369.9,77.5 334.3,97.1 478.3,55.6 479.2,62.1 474.6,54.8 320.6,90.6 324.1,89.9 355.3,84.8 443.4,60.1 423.5,65.8 444.7,53.6 417.3,63.5 466.7,44.1 353.8,85.7 512.1,55.5 321.4,90.6 476.4,57.6 467.9,56.8 506.2,53.0 400.5,70.8 510.7,53.7 455.0,55.9 430.1,60.3 354.6,82.3 439.9,78.0 315.6,93.0 468.4,54.1 392.9,67.3 437.7,64.4 497.5,57.5 355.5,87.8 351.5,83.7 448.3,65.7 358.5,79.7 406.4,74.3 321.7,102.7 329.4,93.8 517.2,51.8 375.4,68.9 356.9,81.2 380.4,71.6 482.3,54.0 330.3,95.8 409.6,63.7 514.4,50.9 449.6,61.3 438.8,57.1 485.9,54.0 401.6,73.3 351.2,86.2 468.3,57.6 393.7,69.4 356.3,82.9 435.6,54.3 331.2,95.9 476.0,50.9 440.8,58.9 415.8,66.7 396.9,69.2 379.9,73.1 391.4,66.0 477.5,57.3 407.7,71.7 514.1,50.6 493.2,59.5 384.9,70.7 390.6,75.2 330.6,94.5 390.1,79.0 482.5,50.1 419.9,64.2 449.9,65.3 311.4,89.4 483.6,53.2 367.7,73.4 498.4,56.9 337.7,95.2 468.1,57.1 320.5,101.8 502.5,54.3 419.7,63.1 518.6,45.6 460.9,46.5 408.4,68.7 390.5,68.6 340.8,96.3 493.2,53.0 371.7,75.3 503.0,53.9 391.2,70.6 327.1,90.7 465.4,46.7 343.4,87.4 477.7,57.3 337.0,94.2 451.3,59.2 331.1,96.0 409.6,62.4 459.3,50.4 407.2,70.8 453.2,58.3 430.5,58.9 504.9,48.9 488.4,56.7 487.1,52.0 488.8,56.8 462.8,55.3 489.8,55.4 319.8,97.3 424.8,66.7 368.1,81.2 487.0,57.9 443.7,59.1 470.9,56.0 323.3,94.2 399.9,70.9 365.5,80.6 360.0,86.4 322.9,86.1 357.8,85.2 389.9,71.1 409.4,64.6 413.8,67.2 438.6,60.2 459.5,55.0 510.9,48.4 460.7,52.2 501.5,52.3 513.9,51.2 379.2,76.0 363.5,78.7 434.7,60.2 490.8,51.5 323.1,102.4 505.6,53.2 419.8,58.6 437.7,60.3 444.2,57.6 372.1,77.5 347.9,89.2 350.3,84.8 385.7,70.0 454.9,56.1 377.7,79.6 324.3,93.1 413.8,62.3 448.8,58.4 423.7,61.1 437.5,57.1 365.0,74.6 380.7,73.9 494.0,54.6 356.7,79.6 368.7,79.3 420.2,58.7 404.9,72.3"/></g><g stroke="#000" stroke-width="1.15"><rect x="342.5" y="142.2" width="3.9" height="3.9" fill="#3552c4"/><rect x="348.0" y="140.4" width="3.9" height="3.9" fill="#3552c4"/><rect x="356.3" y="137.1" width="3.9" height="3.9" fill="#3552c4"/><rect x="361.8" y="134.4" width="3.9" height="3.9" fill="#3552c4"/><rect x="367.3" y="132.6" width="3.9" height="3.9" fill="#3552c4"/><rect x="372.8" y="130.8" width="3.9" height="3.9" fill="#3552c4"/><rect x="378.3" y="129.6" width="3.9" height="3.9" fill="#3552c4"/><rect x="383.8" y="128.1" width="3.9" height="3.9" fill="#3552c4"/><rect x="389.3" y="126.5" width="3.9" height="3.9" fill="#3552c4"/><rect x="394.8" y="125.4" width="3.9" height="3.9" fill="#3552c4"/><rect x="400.3" y="124.5" width="3.9" height="3.9" fill="#3552c4"/><rect x="405.8" y="123.9" width="3.9" height="3.9" fill="#3552c4"/><rect x="411.3" y="123.2" width="3.9" height="3.9" fill="#3552c4"/><rect x="416.8" y="122.0" width="3.9" height="3.9" fill="#3552c4"/><rect x="427.8" y="118.5" width="3.9" height="3.9" fill="#3552c4"/><rect x="438.8" y="116.8" width="3.9" height="3.9" fill="#3552c4"/><rect x="449.8" y="115.0" width="3.9" height="3.9" fill="#3552c4"/><rect x="458.0" y="114.5" width="3.9" height="3.9" fill="#3552c4"/><rect x="466.3" y="113.8" width="3.9" height="3.9" fill="#3552c4"/><rect x="474.5" y="112.0" width="3.9" height="3.9" fill="#3552c4"/><rect x="480.0" y="111.3" width="3.9" height="3.9" fill="#3552c4"/><rect x="485.5" y="109.8" width="3.9" height="3.9" fill="#3552c4"/><rect x="491.0" y="109.0" width="3.9" height="3.9" fill="#3552c4"/><rect x="499.3" y="104.0" width="3.9" height="3.9" fill="#3552c4"/><rect x="342.5" y="132.5" width="3.9" height="3.9" fill="#5fd2ee"/><rect x="348.0" y="129.6" width="3.9" height="3.9" fill="#5fd2ee"/><rect x="356.3" y="126.2" width="3.9" height="3.9" fill="#5fd2ee"/><rect x="361.8" y="123.7" width="3.9" height="3.9" fill="#5fd2ee"/><rect x="367.3" y="122.0" width="3.9" height="3.9" fill="#5fd2ee"/><rect x="372.8" y="119.9" width="3.9" height="3.9" fill="#5fd2ee"/><rect x="378.3" y="118.6" width="3.9" height="3.9" fill="#5fd2ee"/><rect x="383.8" y="116.3" width="3.9" height="3.9" fill="#5fd2ee"/><rect x="389.3" y="115.7" width="3.9" height="3.9" fill="#5fd2ee"/><rect x="394.8" y="113.6" width="3.9" height="3.9" fill="#5fd2ee"/><rect x="400.3" y="112.3" width="3.9" height="3.9" fill="#5fd2ee"/><rect x="405.8" y="111.6" width="3.9" height="3.9" fill="#5fd2ee"/><rect x="411.3" y="111.6" width="3.9" height="3.9" fill="#5fd2ee"/><rect x="416.8" y="109.8" width="3.9" height="3.9" fill="#5fd2ee"/><rect x="427.8" y="107.1" width="3.9" height="3.9" fill="#5fd2ee"/><rect x="438.8" y="105.3" width="3.9" height="3.9" fill="#5fd2ee"/><rect x="449.8" y="104.0" width="3.9" height="3.9" fill="#5fd2ee"/><rect x="458.0" y="103.6" width="3.9" height="3.9" fill="#5fd2ee"/><rect x="466.3" y="103.3" width="3.9" height="3.9" fill="#5fd2ee"/><rect x="474.5" y="102.5" width="3.9" height="3.9" fill="#5fd2ee"/><rect x="480.0" y="102.5" width="3.9" height="3.9" fill="#5fd2ee"/><rect x="485.5" y="101.7" width="3.9" height="3.9" fill="#5fd2ee"/><rect x="491.0" y="101.0" width="3.9" height="3.9" fill="#5fd2ee"/><rect x="499.3" y="99.5" width="3.9" height="3.9" fill="#5fd2ee"/><rect x="507.5" y="96.5" width="3.9" height="3.9" fill="#5fd2ee"/><rect x="342.5" y="105.1" width="3.9" height="3.9" fill="#55b838"/><rect x="348.0" y="101.7" width="3.9" height="3.9" fill="#55b838"/><rect x="356.3" y="98.8" width="3.9" height="3.9" fill="#55b838"/><rect x="361.8" y="98.1" width="3.9" height="3.9" fill="#55b838"/><rect x="367.3" y="97.5" width="3.9" height="3.9" fill="#55b838"/><rect x="372.8" y="97.1" width="3.9" height="3.9" fill="#55b838"/><rect x="378.3" y="96.9" width="3.9" height="3.9" fill="#55b838"/><rect x="383.8" y="96.2" width="3.9" height="3.9" fill="#55b838"/><rect x="389.3" y="95.9" width="3.9" height="3.9" fill="#55b838"/><rect x="394.8" y="95.4" width="3.9" height="3.9" fill="#55b838"/><rect x="400.3" y="94.6" width="3.9" height="3.9" fill="#55b838"/><rect x="405.8" y="93.7" width="3.9" height="3.9" fill="#55b838"/><rect x="411.3" y="93.1" width="3.9" height="3.9" fill="#55b838"/><rect x="416.8" y="92.5" width="3.9" height="3.9" fill="#55b838"/><rect x="427.8" y="91.2" width="3.9" height="3.9" fill="#55b838"/><rect x="438.8" y="90.0" width="3.9" height="3.9" fill="#55b838"/><rect x="449.8" y="88.7" width="3.9" height="3.9" fill="#55b838"/><rect x="458.0" y="87.4" width="3.9" height="3.9" fill="#55b838"/><rect x="466.3" y="85.6" width="3.9" height="3.9" fill="#55b838"/><rect x="474.5" y="82.6" width="3.9" height="3.9" fill="#55b838"/><rect x="480.0" y="80.6" width="3.9" height="3.9" fill="#55b838"/><rect x="485.5" y="77.6" width="3.9" height="3.9" fill="#55b838"/><rect x="491.0" y="74.1" width="3.9" height="3.9" fill="#55b838"/><rect x="499.3" y="67.6" width="3.9" height="3.9" fill="#55b838"/><rect x="507.5" y="62.4" width="3.9" height="3.9" fill="#55b838"/><rect x="342.5" y="94.6" width="3.9" height="3.9" fill="#f2e41a"/><rect x="348.0" y="92.5" width="3.9" height="3.9" fill="#f2e41a"/><rect x="356.3" y="89.6" width="3.9" height="3.9" fill="#f2e41a"/><rect x="361.8" y="87.8" width="3.9" height="3.9" fill="#f2e41a"/><rect x="367.3" y="86.2" width="3.9" height="3.9" fill="#f2e41a"/><rect x="372.8" y="84.9" width="3.9" height="3.9" fill="#f2e41a"/><rect x="378.3" y="83.7" width="3.9" height="3.9" fill="#f2e41a"/><rect x="383.8" y="82.4" width="3.9" height="3.9" fill="#f2e41a"/><rect x="389.3" y="81.5" width="3.9" height="3.9" fill="#f2e41a"/><rect x="394.8" y="80.3" width="3.9" height="3.9" fill="#f2e41a"/><rect x="400.3" y="79.6" width="3.9" height="3.9" fill="#f2e41a"/><rect x="405.8" y="78.9" width="3.9" height="3.9" fill="#f2e41a"/><rect x="411.3" y="77.2" width="3.9" height="3.9" fill="#f2e41a"/><rect x="416.8" y="75.2" width="3.9" height="3.9" fill="#f2e41a"/><rect x="427.8" y="73.2" width="3.9" height="3.9" fill="#f2e41a"/><rect x="438.8" y="71.2" width="3.9" height="3.9" fill="#f2e41a"/><rect x="449.8" y="69.4" width="3.9" height="3.9" fill="#f2e41a"/><rect x="458.0" y="68.4" width="3.9" height="3.9" fill="#f2e41a"/><rect x="466.3" y="67.1" width="3.9" height="3.9" fill="#f2e41a"/><rect x="474.5" y="66.1" width="3.9" height="3.9" fill="#f2e41a"/><rect x="480.0" y="65.7" width="3.9" height="3.9" fill="#f2e41a"/><rect x="485.5" y="64.9" width="3.9" height="3.9" fill="#f2e41a"/><rect x="491.0" y="63.7" width="3.9" height="3.9" fill="#f2e41a"/><rect x="499.3" y="61.6" width="3.9" height="3.9" fill="#f2e41a"/><rect x="507.5" y="59.6" width="3.9" height="3.9" fill="#f2e41a"/><rect x="342.5" y="79.0" width="3.9" height="3.9" fill="#e52420"/><rect x="348.0" y="76.8" width="3.9" height="3.9" fill="#e52420"/><rect x="356.3" y="73.4" width="3.9" height="3.9" fill="#e52420"/><rect x="361.8" y="71.7" width="3.9" height="3.9" fill="#e52420"/><rect x="367.3" y="70.5" width="3.9" height="3.9" fill="#e52420"/><rect x="372.8" y="68.9" width="3.9" height="3.9" fill="#e52420"/><rect x="378.3" y="67.9" width="3.9" height="3.9" fill="#e52420"/><rect x="383.8" y="66.4" width="3.9" height="3.9" fill="#e52420"/><rect x="389.3" y="65.1" width="3.9" height="3.9" fill="#e52420"/><rect x="394.8" y="63.9" width="3.9" height="3.9" fill="#e52420"/><rect x="400.3" y="63.3" width="3.9" height="3.9" fill="#e52420"/><rect x="405.8" y="62.3" width="3.9" height="3.9" fill="#e52420"/><rect x="411.3" y="61.4" width="3.9" height="3.9" fill="#e52420"/><rect x="416.8" y="60.4" width="3.9" height="3.9" fill="#e52420"/><rect x="427.8" y="57.7" width="3.9" height="3.9" fill="#e52420"/><rect x="438.8" y="56.3" width="3.9" height="3.9" fill="#e52420"/><rect x="449.8" y="55.9" width="3.9" height="3.9" fill="#e52420"/><rect x="458.0" y="55.1" width="3.9" height="3.9" fill="#e52420"/><rect x="466.3" y="53.6" width="3.9" height="3.9" fill="#e52420"/><rect x="474.5" y="53.2" width="3.9" height="3.9" fill="#e52420"/><rect x="480.0" y="53.2" width="3.9" height="3.9" fill="#e52420"/><rect x="485.5" y="53.2" width="3.9" height="3.9" fill="#e52420"/><rect x="491.0" y="53.2" width="3.9" height="3.9" fill="#e52420"/><rect x="499.3" y="53.3" width="3.9" height="3.9" fill="#e52420"/><rect x="507.5" y="53.6" width="3.9" height="3.9" fill="#e52420"/></g><path d="M15.1 403.0H243.5V230.4" fill="none" stroke="#a8a8a8" stroke-width="1.2"/><text x="243.5" y="411.0" text-anchor="middle" class="tl">0</text><text x="214.9" y="411.0" text-anchor="middle" class="tl">10</text><text x="186.4" y="411.0" text-anchor="middle" class="tl">20</text><text x="157.8" y="411.0" text-anchor="middle" class="tl">30</text><text x="129.3" y="411.0" text-anchor="middle" class="tl">40</text><text x="100.8" y="411.0" text-anchor="middle" class="tl">50</text><text x="72.2" y="411.0" text-anchor="middle" class="tl">60</text><text x="43.7" y="411.0" text-anchor="middle" class="tl">70</text><text x="15.1" y="411.0" text-anchor="middle" class="tl">80</text><text x="245.9" y="232.4" class="tl">-35</text><text x="245.9" y="251.6" class="tl">-40</text><text x="245.9" y="270.8" class="tl">-45</text><text x="245.9" y="289.9" class="tl">-50</text><text x="245.9" y="309.1" class="tl">-55</text><text x="245.9" y="328.3" class="tl">-60</text><text x="245.9" y="347.5" class="tl">-65</text><text x="245.9" y="366.7" class="tl">-70</text><text x="245.9" y="385.8" class="tl">-75</text><text x="245.9" y="405.0" class="tl">-80</text><path d="M243.5 403.0v-1.6 M214.9 403.0v-1.6 M186.4 403.0v-1.6 M157.8 403.0v-1.6 M129.3 403.0v-1.6 M100.8 403.0v-1.6 M72.2 403.0v-1.6 M43.7 403.0v-1.6 M15.1 403.0v-1.6 M243.5 230.4h-1.6 M243.5 249.6h-1.6 M243.5 268.8h-1.6 M243.5 287.9h-1.6 M243.5 307.1h-1.6 M243.5 326.3h-1.6 M243.5 345.5h-1.6 M243.5 364.7h-1.6 M243.5 383.8h-1.6 M243.5 403.0h-1.6" stroke="#a8a8a8" stroke-width="0.8"/><text x="129.3" y="418.2" text-anchor="middle" class="al" textLength="66" lengthAdjust="spacingAndGlyphs">incidence angle (degrees)</text><text transform="translate(263.1,318.5) rotate(-90)" text-anchor="middle" class="al" style="font-size:6.6px" textLength="16.6" lengthAdjust="spacingAndGlyphs">BS (dB)</text><g stroke="#000" stroke-width="0.95"><rect x="56.1" y="389.2" width="3.6" height="3.6" fill="#3552c4"/><rect x="61.8" y="386.6" width="3.6" height="3.6" fill="#3552c4"/><rect x="70.4" y="381.9" width="3.6" height="3.6" fill="#3552c4"/><rect x="76.1" y="378.0" width="3.6" height="3.6" fill="#3552c4"/><rect x="81.8" y="375.2" width="3.6" height="3.6" fill="#3552c4"/><rect x="87.5" y="372.6" width="3.6" height="3.6" fill="#3552c4"/><rect x="93.2" y="370.9" width="3.6" height="3.6" fill="#3552c4"/><rect x="99.0" y="368.7" width="3.6" height="3.6" fill="#3552c4"/><rect x="104.7" y="366.5" width="3.6" height="3.6" fill="#3552c4"/><rect x="110.4" y="364.8" width="3.6" height="3.6" fill="#3552c4"/><rect x="116.1" y="363.5" width="3.6" height="3.6" fill="#3552c4"/><rect x="121.8" y="362.6" width="3.6" height="3.6" fill="#3552c4"/><rect x="127.5" y="361.8" width="3.6" height="3.6" fill="#3552c4"/><rect x="133.2" y="359.9" width="3.6" height="3.6" fill="#3552c4"/><rect x="144.6" y="355.0" width="3.6" height="3.6" fill="#3552c4"/><rect x="156.0" y="352.4" width="3.6" height="3.6" fill="#3552c4"/><rect x="167.5" y="349.8" width="3.6" height="3.6" fill="#3552c4"/><rect x="176.0" y="349.1" width="3.6" height="3.6" fill="#3552c4"/><rect x="184.6" y="348.2" width="3.6" height="3.6" fill="#3552c4"/><rect x="193.2" y="345.6" width="3.6" height="3.6" fill="#3552c4"/><rect x="198.9" y="344.6" width="3.6" height="3.6" fill="#3552c4"/><rect x="204.6" y="342.4" width="3.6" height="3.6" fill="#3552c4"/><rect x="210.3" y="341.1" width="3.6" height="3.6" fill="#3552c4"/><rect x="218.9" y="334.0" width="3.6" height="3.6" fill="#3552c4"/><rect x="56.1" y="375.1" width="3.6" height="3.6" fill="#5fd2ee"/><rect x="61.8" y="370.9" width="3.6" height="3.6" fill="#5fd2ee"/><rect x="70.4" y="366.0" width="3.6" height="3.6" fill="#5fd2ee"/><rect x="76.1" y="362.4" width="3.6" height="3.6" fill="#5fd2ee"/><rect x="81.8" y="360.0" width="3.6" height="3.6" fill="#5fd2ee"/><rect x="87.5" y="356.9" width="3.6" height="3.6" fill="#5fd2ee"/><rect x="93.2" y="355.1" width="3.6" height="3.6" fill="#5fd2ee"/><rect x="99.0" y="351.8" width="3.6" height="3.6" fill="#5fd2ee"/><rect x="104.7" y="350.9" width="3.6" height="3.6" fill="#5fd2ee"/><rect x="110.4" y="347.8" width="3.6" height="3.6" fill="#5fd2ee"/><rect x="116.1" y="346.0" width="3.6" height="3.6" fill="#5fd2ee"/><rect x="121.8" y="344.9" width="3.6" height="3.6" fill="#5fd2ee"/><rect x="127.5" y="344.9" width="3.6" height="3.6" fill="#5fd2ee"/><rect x="133.2" y="342.4" width="3.6" height="3.6" fill="#5fd2ee"/><rect x="144.6" y="338.4" width="3.6" height="3.6" fill="#5fd2ee"/><rect x="156.0" y="335.8" width="3.6" height="3.6" fill="#5fd2ee"/><rect x="167.5" y="334.0" width="3.6" height="3.6" fill="#5fd2ee"/><rect x="176.0" y="333.4" width="3.6" height="3.6" fill="#5fd2ee"/><rect x="184.6" y="332.9" width="3.6" height="3.6" fill="#5fd2ee"/><rect x="193.2" y="331.8" width="3.6" height="3.6" fill="#5fd2ee"/><rect x="198.9" y="331.8" width="3.6" height="3.6" fill="#5fd2ee"/><rect x="204.6" y="330.7" width="3.6" height="3.6" fill="#5fd2ee"/><rect x="210.3" y="329.7" width="3.6" height="3.6" fill="#5fd2ee"/><rect x="218.9" y="327.5" width="3.6" height="3.6" fill="#5fd2ee"/><rect x="227.4" y="323.1" width="3.6" height="3.6" fill="#5fd2ee"/><rect x="56.1" y="335.5" width="3.6" height="3.6" fill="#55b838"/><rect x="61.8" y="330.6" width="3.6" height="3.6" fill="#55b838"/><rect x="70.4" y="326.4" width="3.6" height="3.6" fill="#55b838"/><rect x="76.1" y="325.5" width="3.6" height="3.6" fill="#55b838"/><rect x="81.8" y="324.6" width="3.6" height="3.6" fill="#55b838"/><rect x="87.5" y="324.0" width="3.6" height="3.6" fill="#55b838"/><rect x="93.2" y="323.7" width="3.6" height="3.6" fill="#55b838"/><rect x="99.0" y="322.7" width="3.6" height="3.6" fill="#55b838"/><rect x="104.7" y="322.2" width="3.6" height="3.6" fill="#55b838"/><rect x="110.4" y="321.5" width="3.6" height="3.6" fill="#55b838"/><rect x="116.1" y="320.4" width="3.6" height="3.6" fill="#55b838"/><rect x="121.8" y="319.1" width="3.6" height="3.6" fill="#55b838"/><rect x="127.5" y="318.2" width="3.6" height="3.6" fill="#55b838"/><rect x="133.2" y="317.3" width="3.6" height="3.6" fill="#55b838"/><rect x="144.6" y="315.5" width="3.6" height="3.6" fill="#55b838"/><rect x="156.0" y="313.7" width="3.6" height="3.6" fill="#55b838"/><rect x="167.5" y="311.8" width="3.6" height="3.6" fill="#55b838"/><rect x="176.0" y="310.0" width="3.6" height="3.6" fill="#55b838"/><rect x="184.6" y="307.4" width="3.6" height="3.6" fill="#55b838"/><rect x="193.2" y="303.0" width="3.6" height="3.6" fill="#55b838"/><rect x="198.9" y="300.2" width="3.6" height="3.6" fill="#55b838"/><rect x="204.6" y="295.8" width="3.6" height="3.6" fill="#55b838"/><rect x="210.3" y="290.8" width="3.6" height="3.6" fill="#55b838"/><rect x="218.9" y="281.4" width="3.6" height="3.6" fill="#55b838"/><rect x="227.4" y="273.8" width="3.6" height="3.6" fill="#55b838"/><rect x="56.1" y="320.4" width="3.6" height="3.6" fill="#f2e41a"/><rect x="61.8" y="317.3" width="3.6" height="3.6" fill="#f2e41a"/><rect x="70.4" y="313.1" width="3.6" height="3.6" fill="#f2e41a"/><rect x="76.1" y="310.6" width="3.6" height="3.6" fill="#f2e41a"/><rect x="81.8" y="308.2" width="3.6" height="3.6" fill="#f2e41a"/><rect x="87.5" y="306.4" width="3.6" height="3.6" fill="#f2e41a"/><rect x="93.2" y="304.6" width="3.6" height="3.6" fill="#f2e41a"/><rect x="99.0" y="302.7" width="3.6" height="3.6" fill="#f2e41a"/><rect x="104.7" y="301.5" width="3.6" height="3.6" fill="#f2e41a"/><rect x="110.4" y="299.7" width="3.6" height="3.6" fill="#f2e41a"/><rect x="116.1" y="298.7" width="3.6" height="3.6" fill="#f2e41a"/><rect x="121.8" y="297.7" width="3.6" height="3.6" fill="#f2e41a"/><rect x="127.5" y="295.2" width="3.6" height="3.6" fill="#f2e41a"/><rect x="133.2" y="292.3" width="3.6" height="3.6" fill="#f2e41a"/><rect x="144.6" y="289.5" width="3.6" height="3.6" fill="#f2e41a"/><rect x="156.0" y="286.6" width="3.6" height="3.6" fill="#f2e41a"/><rect x="167.5" y="284.0" width="3.6" height="3.6" fill="#f2e41a"/><rect x="176.0" y="282.5" width="3.6" height="3.6" fill="#f2e41a"/><rect x="184.6" y="280.7" width="3.6" height="3.6" fill="#f2e41a"/><rect x="193.2" y="279.2" width="3.6" height="3.6" fill="#f2e41a"/><rect x="198.9" y="278.6" width="3.6" height="3.6" fill="#f2e41a"/><rect x="204.6" y="277.5" width="3.6" height="3.6" fill="#f2e41a"/><rect x="210.3" y="275.7" width="3.6" height="3.6" fill="#f2e41a"/><rect x="218.9" y="272.7" width="3.6" height="3.6" fill="#f2e41a"/><rect x="227.4" y="269.8" width="3.6" height="3.6" fill="#f2e41a"/><rect x="56.1" y="297.8" width="3.6" height="3.6" fill="#e52420"/><rect x="61.8" y="294.6" width="3.6" height="3.6" fill="#e52420"/><rect x="70.4" y="289.7" width="3.6" height="3.6" fill="#e52420"/><rect x="76.1" y="287.3" width="3.6" height="3.6" fill="#e52420"/><rect x="81.8" y="285.5" width="3.6" height="3.6" fill="#e52420"/><rect x="87.5" y="283.3" width="3.6" height="3.6" fill="#e52420"/><rect x="93.2" y="281.8" width="3.6" height="3.6" fill="#e52420"/><rect x="99.0" y="279.7" width="3.6" height="3.6" fill="#e52420"/><rect x="104.7" y="277.7" width="3.6" height="3.6" fill="#e52420"/><rect x="110.4" y="276.0" width="3.6" height="3.6" fill="#e52420"/><rect x="116.1" y="275.1" width="3.6" height="3.6" fill="#e52420"/><rect x="121.8" y="273.7" width="3.6" height="3.6" fill="#e52420"/><rect x="127.5" y="272.4" width="3.6" height="3.6" fill="#e52420"/><rect x="133.2" y="270.9" width="3.6" height="3.6" fill="#e52420"/><rect x="144.6" y="267.0" width="3.6" height="3.6" fill="#e52420"/><rect x="156.0" y="265.0" width="3.6" height="3.6" fill="#e52420"/><rect x="167.5" y="264.4" width="3.6" height="3.6" fill="#e52420"/><rect x="176.0" y="263.3" width="3.6" height="3.6" fill="#e52420"/><rect x="184.6" y="261.1" width="3.6" height="3.6" fill="#e52420"/><rect x="193.2" y="260.5" width="3.6" height="3.6" fill="#e52420"/><rect x="198.9" y="260.5" width="3.6" height="3.6" fill="#e52420"/><rect x="204.6" y="260.5" width="3.6" height="3.6" fill="#e52420"/><rect x="210.3" y="260.5" width="3.6" height="3.6" fill="#e52420"/><rect x="218.9" y="260.7" width="3.6" height="3.6" fill="#e52420"/><rect x="227.4" y="261.1" width="3.6" height="3.6" fill="#e52420"/></g><g stroke="#000" stroke-width="0.95"><circle cx="57.9" cy="391.4" r="1.95" fill="#3552c4"/><circle cx="63.6" cy="388.9" r="1.95" fill="#3552c4"/><circle cx="72.2" cy="382.8" r="1.95" fill="#3552c4"/><circle cx="77.9" cy="381.0" r="1.95" fill="#3552c4"/><circle cx="83.6" cy="378.3" r="1.95" fill="#3552c4"/><circle cx="89.3" cy="377.0" r="1.95" fill="#3552c4"/><circle cx="95.0" cy="374.6" r="1.95" fill="#3552c4"/><circle cx="100.8" cy="371.6" r="1.95" fill="#3552c4"/><circle cx="106.5" cy="366.7" r="1.95" fill="#3552c4"/><circle cx="112.2" cy="364.6" r="1.95" fill="#3552c4"/><circle cx="117.9" cy="369.5" r="1.95" fill="#3552c4"/><circle cx="123.6" cy="362.9" r="1.95" fill="#3552c4"/><circle cx="129.3" cy="364.1" r="1.95" fill="#3552c4"/><circle cx="135.0" cy="362.9" r="1.95" fill="#3552c4"/><circle cx="146.4" cy="358.6" r="1.95" fill="#3552c4"/><circle cx="157.8" cy="358.0" r="1.95" fill="#3552c4"/><circle cx="169.3" cy="358.6" r="1.95" fill="#3552c4"/><circle cx="177.8" cy="358.6" r="1.95" fill="#3552c4"/><circle cx="186.4" cy="354.3" r="1.95" fill="#3552c4"/><circle cx="195.0" cy="352.2" r="1.95" fill="#3552c4"/><circle cx="200.7" cy="346.8" r="1.95" fill="#3552c4"/><circle cx="206.4" cy="344.3" r="1.95" fill="#3552c4"/><circle cx="212.1" cy="346.8" r="1.95" fill="#3552c4"/><circle cx="217.8" cy="344.9" r="1.95" fill="#3552c4"/><circle cx="57.9" cy="373.6" r="1.95" fill="#5fd2ee"/><circle cx="63.6" cy="371.5" r="1.95" fill="#5fd2ee"/><circle cx="72.2" cy="367.8" r="1.95" fill="#5fd2ee"/><circle cx="77.9" cy="364.2" r="1.95" fill="#5fd2ee"/><circle cx="83.6" cy="361.8" r="1.95" fill="#5fd2ee"/><circle cx="89.3" cy="358.7" r="1.95" fill="#5fd2ee"/><circle cx="95.0" cy="359.1" r="1.95" fill="#5fd2ee"/><circle cx="100.8" cy="351.5" r="1.95" fill="#5fd2ee"/><circle cx="106.5" cy="352.7" r="1.95" fill="#5fd2ee"/><circle cx="112.2" cy="349.6" r="1.95" fill="#5fd2ee"/><circle cx="117.9" cy="351.5" r="1.95" fill="#5fd2ee"/><circle cx="123.6" cy="346.7" r="1.95" fill="#5fd2ee"/><circle cx="129.3" cy="346.7" r="1.95" fill="#5fd2ee"/><circle cx="135.0" cy="346.7" r="1.95" fill="#5fd2ee"/><circle cx="146.4" cy="346.3" r="1.95" fill="#5fd2ee"/><circle cx="157.8" cy="340.6" r="1.95" fill="#5fd2ee"/><circle cx="169.3" cy="339.1" r="1.95" fill="#5fd2ee"/><circle cx="177.8" cy="339.1" r="1.95" fill="#5fd2ee"/><circle cx="186.4" cy="337.6" r="1.95" fill="#5fd2ee"/><circle cx="195.0" cy="337.6" r="1.95" fill="#5fd2ee"/><circle cx="200.7" cy="336.9" r="1.95" fill="#5fd2ee"/><circle cx="206.4" cy="337.6" r="1.95" fill="#5fd2ee"/><circle cx="212.1" cy="337.6" r="1.95" fill="#5fd2ee"/><circle cx="217.8" cy="336.5" r="1.95" fill="#5fd2ee"/><circle cx="57.9" cy="352.7" r="1.95" fill="#55b838"/><circle cx="63.6" cy="348.2" r="1.95" fill="#55b838"/><circle cx="72.2" cy="336.9" r="1.95" fill="#55b838"/><circle cx="77.9" cy="334.9" r="1.95" fill="#55b838"/><circle cx="83.6" cy="336.0" r="1.95" fill="#55b838"/><circle cx="89.3" cy="329.1" r="1.95" fill="#55b838"/><circle cx="95.0" cy="333.1" r="1.95" fill="#55b838"/><circle cx="100.8" cy="330.5" r="1.95" fill="#55b838"/><circle cx="106.5" cy="333.6" r="1.95" fill="#55b838"/><circle cx="112.2" cy="330.0" r="1.95" fill="#55b838"/><circle cx="117.9" cy="331.3" r="1.95" fill="#55b838"/><circle cx="123.6" cy="327.6" r="1.95" fill="#55b838"/><circle cx="129.3" cy="329.1" r="1.95" fill="#55b838"/><circle cx="135.0" cy="328.2" r="1.95" fill="#55b838"/><circle cx="146.4" cy="327.1" r="1.95" fill="#55b838"/><circle cx="157.8" cy="327.1" r="1.95" fill="#55b838"/><circle cx="169.3" cy="322.3" r="1.95" fill="#55b838"/><circle cx="177.8" cy="320.1" r="1.95" fill="#55b838"/><circle cx="186.4" cy="318.4" r="1.95" fill="#55b838"/><circle cx="195.0" cy="312.3" r="1.95" fill="#55b838"/><circle cx="200.7" cy="310.7" r="1.95" fill="#55b838"/><circle cx="206.4" cy="306.4" r="1.95" fill="#55b838"/><circle cx="212.1" cy="299.8" r="1.95" fill="#55b838"/><circle cx="217.8" cy="294.4" r="1.95" fill="#55b838"/><circle cx="57.9" cy="324.5" r="1.95" fill="#f2e41a"/><circle cx="63.6" cy="321.8" r="1.95" fill="#f2e41a"/><circle cx="72.2" cy="316.4" r="1.95" fill="#f2e41a"/><circle cx="77.9" cy="314.5" r="1.95" fill="#f2e41a"/><circle cx="83.6" cy="310.5" r="1.95" fill="#f2e41a"/><circle cx="89.3" cy="310.5" r="1.95" fill="#f2e41a"/><circle cx="95.0" cy="308.7" r="1.95" fill="#f2e41a"/><circle cx="100.8" cy="305.5" r="1.95" fill="#f2e41a"/><circle cx="106.5" cy="305.5" r="1.95" fill="#f2e41a"/><circle cx="112.2" cy="302.2" r="1.95" fill="#f2e41a"/><circle cx="117.9" cy="303.6" r="1.95" fill="#f2e41a"/><circle cx="123.6" cy="300.9" r="1.95" fill="#f2e41a"/><circle cx="129.3" cy="306.7" r="1.95" fill="#f2e41a"/><circle cx="135.0" cy="305.1" r="1.95" fill="#f2e41a"/><circle cx="146.4" cy="299.3" r="1.95" fill="#f2e41a"/><circle cx="157.8" cy="296.3" r="1.95" fill="#f2e41a"/><circle cx="169.3" cy="298.9" r="1.95" fill="#f2e41a"/><circle cx="177.8" cy="298.9" r="1.95" fill="#f2e41a"/><circle cx="186.4" cy="295.6" r="1.95" fill="#f2e41a"/><circle cx="195.0" cy="292.4" r="1.95" fill="#f2e41a"/><circle cx="200.7" cy="293.5" r="1.95" fill="#f2e41a"/><circle cx="206.4" cy="293.5" r="1.95" fill="#f2e41a"/><circle cx="212.1" cy="292.4" r="1.95" fill="#f2e41a"/><circle cx="217.8" cy="290.6" r="1.95" fill="#f2e41a"/><circle cx="57.9" cy="311.3" r="1.95" fill="#e52420"/><circle cx="63.6" cy="307.6" r="1.95" fill="#e52420"/><circle cx="72.2" cy="300.9" r="1.95" fill="#e52420"/><circle cx="77.9" cy="299.1" r="1.95" fill="#e52420"/><circle cx="83.6" cy="296.4" r="1.95" fill="#e52420"/><circle cx="89.3" cy="294.0" r="1.95" fill="#e52420"/><circle cx="95.0" cy="293.6" r="1.95" fill="#e52420"/><circle cx="100.8" cy="288.2" r="1.95" fill="#e52420"/><circle cx="106.5" cy="288.7" r="1.95" fill="#e52420"/><circle cx="112.2" cy="286.4" r="1.95" fill="#e52420"/><circle cx="117.9" cy="286.4" r="1.95" fill="#e52420"/><circle cx="123.6" cy="282.7" r="1.95" fill="#e52420"/><circle cx="129.3" cy="283.1" r="1.95" fill="#e52420"/><circle cx="135.0" cy="281.8" r="1.95" fill="#e52420"/><circle cx="146.4" cy="277.7" r="1.95" fill="#e52420"/><circle cx="157.8" cy="279.3" r="1.95" fill="#e52420"/><circle cx="169.3" cy="278.2" r="1.95" fill="#e52420"/><circle cx="177.8" cy="277.5" r="1.95" fill="#e52420"/><circle cx="186.4" cy="276.7" r="1.95" fill="#e52420"/><circle cx="195.0" cy="277.5" r="1.95" fill="#e52420"/><circle cx="200.7" cy="275.6" r="1.95" fill="#e52420"/><circle cx="206.4" cy="276.0" r="1.95" fill="#e52420"/><circle cx="212.1" cy="275.6" r="1.95" fill="#e52420"/><circle cx="217.8" cy="273.8" r="1.95" fill="#e52420"/></g>
<rect x="127" y="212" width="1.6" height="1" fill="#666"/><rect x="144.5" y="212" width="1.6" height="1" fill="#666"/><rect x="298.3" y="196.5" width="1.2" height="1" fill="#aaa"/>
<text x="2.3" y="14.6" class="pl">a)</text>
<text x="290.6" y="11.4" class="pl">b)</text>
<text x="2.3" y="224.6" class="pl">c)</text>

<g><rect x="286.6" y="277.8" width="260.29999999999995" height="93.09999999999997" fill="none" stroke="#555" stroke-width="1.1"/><path d="M417.4 289.5H546.9 M312.4 318.6H546.9 M312.4 345.6H546.9 M443.9 289.5V370.9 M469.4 289.5V370.9 M495.5 289.5V370.9 M521.6 289.5V370.9" stroke="#d6d6d6" stroke-width="0.8" fill="none"/><path d="M286.6 302.4H546.9 M312.4 302.4V370.9 M417.4 277.8V370.9" stroke="#555" stroke-width="1" fill="none"/><text x="352.7" y="294" text-anchor="middle" class="lb" font-size="9" style="stroke-width:0.4px" textLength="57" lengthAdjust="spacing">LEGEND</text><text x="482.5" y="287" text-anchor="middle" class="lb" font-size="10.5" textLength="32" lengthAdjust="spacingAndGlyphs">CLASS</text><text x="430.6" y="300.6" text-anchor="middle" class="lb" font-size="10.5">1</text><text x="456.6" y="300.6" text-anchor="middle" class="lb" font-size="10.5">2</text><text x="482.4" y="300.6" text-anchor="middle" class="lb" font-size="10.5">3</text><text x="508.6" y="300.6" text-anchor="middle" class="lb" font-size="10.5">4</text><text x="534.2" y="300.6" text-anchor="middle" class="lb" font-size="10.5">5</text><text x="365" y="314.8" text-anchor="middle" class="lb" font-size="10" textLength="97" lengthAdjust="spacingAndGlyphs">original soundings</text><text x="365" y="328.6" text-anchor="middle" class="lb" font-size="10" textLength="66" lengthAdjust="spacingAndGlyphs">interpolated</text><text x="365" y="342" text-anchor="middle" class="lb" font-size="10" textLength="87" lengthAdjust="spacingAndGlyphs">angular mosaics</text><text x="365" y="354.6" text-anchor="middle" class="lb" font-size="10" textLength="59" lengthAdjust="spacingAndGlyphs">normalized</text><text x="365" y="367.8" text-anchor="middle" class="lb" font-size="10" textLength="87" lengthAdjust="spacingAndGlyphs">angular mosaics</text><text transform="translate(303.2,336.5) rotate(-90)" text-anchor="middle" class="lb" font-size="10" textLength="18" lengthAdjust="spacingAndGlyphs">ARA</text><circle cx="430.6" cy="311.2" r="1.4" fill="none" stroke="#1a1aa8" stroke-width="0.8"/><circle cx="430.6" cy="329.5" r="3.3" fill="#1a1aa8" stroke="#111" stroke-width="1"/><rect x="427.0" y="354.0" width="7.2" height="6.4" fill="#1a1aa8" stroke="#111" stroke-width="1"/><circle cx="456.6" cy="311.2" r="1.4" fill="none" stroke="#22aee8" stroke-width="0.8"/><circle cx="456.6" cy="329.5" r="3.3" fill="#22aee8" stroke="#111" stroke-width="1"/><rect x="453.0" y="354.0" width="7.2" height="6.4" fill="#22aee8" stroke="#111" stroke-width="1"/><circle cx="482.4" cy="311.2" r="1.4" fill="none" stroke="#14a04c" stroke-width="0.8"/><circle cx="482.4" cy="329.5" r="3.3" fill="#14a04c" stroke="#111" stroke-width="1"/><rect x="478.8" y="354.0" width="7.2" height="6.4" fill="#14a04c" stroke="#111" stroke-width="1"/><circle cx="508.6" cy="311.2" r="1.4" fill="none" stroke="#f8ec00" stroke-width="0.8"/><circle cx="508.6" cy="329.5" r="3.3" fill="#f8ec00" stroke="#111" stroke-width="1"/><rect x="504.9" y="354.0" width="7.2" height="6.4" fill="#f8ec00" stroke="#111" stroke-width="1"/><circle cx="534.2" cy="311.2" r="1.4" fill="none" stroke="#ee1010" stroke-width="0.8"/><circle cx="534.2" cy="329.5" r="3.3" fill="#ee1010" stroke="#111" stroke-width="1"/><rect x="530.6" y="354.0" width="7.2" height="6.4" fill="#ee1010" stroke="#111" stroke-width="1"/></g>
</svg></body></html>
